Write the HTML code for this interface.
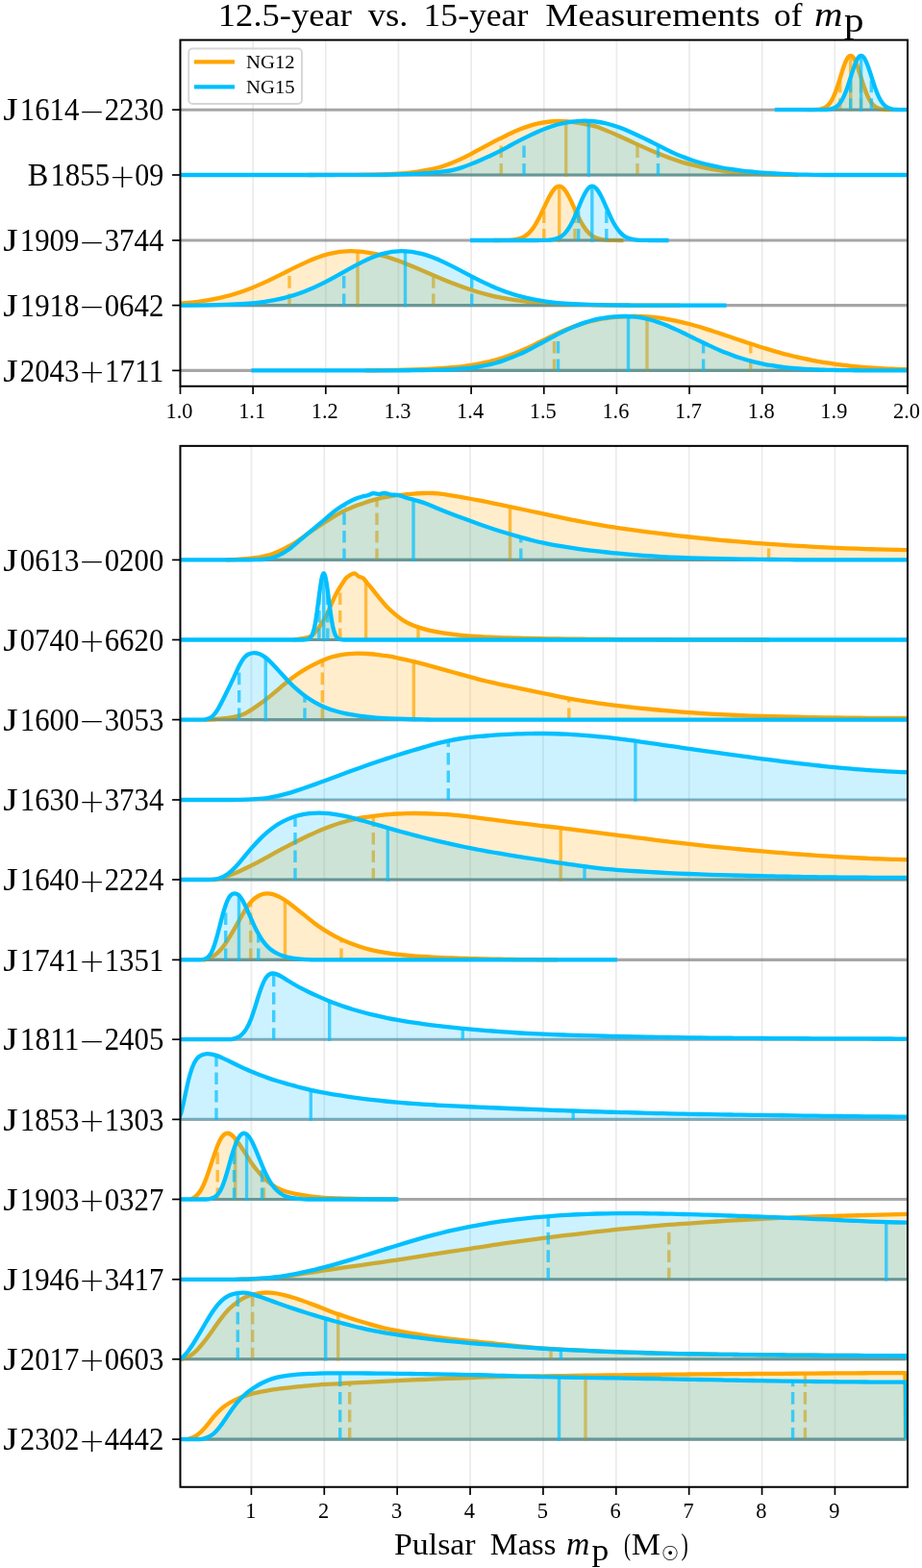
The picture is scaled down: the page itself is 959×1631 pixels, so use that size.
<!DOCTYPE html>
<html lang="en"><head><meta charset="utf-8"><title>12.5-year vs. 15-year Measurements of mp</title>
<style>html,body{margin:0;padding:0;background:#fff}svg{display:block}text{font-family:"Liberation Serif","DejaVu Serif",serif;fill:#000}</style></head><body>
<svg width="959" height="1631" viewBox="0 0 959 1631">
<rect width="959" height="1631" fill="#fff"/>
<defs><clipPath id="ct"><rect x="187.5" y="41.6" width="756.5" height="360.15"/></clipPath><clipPath id="cb"><rect x="187.5" y="463.85" width="756.5" height="1082.9"/></clipPath></defs>
<g id="top-panel">
<g stroke="#ebebeb" stroke-width="1.7">
<line x1="263.15" x2="263.15" y1="41.6" y2="401.75"/>
<line x1="338.8" x2="338.8" y1="41.6" y2="401.75"/>
<line x1="414.45" x2="414.45" y1="41.6" y2="401.75"/>
<line x1="490.1" x2="490.1" y1="41.6" y2="401.75"/>
<line x1="565.75" x2="565.75" y1="41.6" y2="401.75"/>
<line x1="641.4" x2="641.4" y1="41.6" y2="401.75"/>
<line x1="717.05" x2="717.05" y1="41.6" y2="401.75"/>
<line x1="792.7" x2="792.7" y1="41.6" y2="401.75"/>
<line x1="868.35" x2="868.35" y1="41.6" y2="401.75"/>
</g>
<g clip-path="url(#ct)">
<line x1="187.5" x2="944" y1="114.2" y2="114.2" stroke="#808080" stroke-opacity="0.7" stroke-width="3.1"/>
<path d="M839.2 114.2L839.2 114.2C840.37 114.2 841.53 114.19 842.7 114.18C843.87 114.17 845.03 114.16 846.2 114.13C847.37 114.1 848.53 114.06 849.7 113.98C850.87 113.9 852.03 113.78 853.2 113.57C854.37 113.36 855.53 113.07 856.7 112.59C857.87 112.11 859.03 111.45 860.2 110.49C861.37 109.53 862.53 108.26 863.7 106.57C864.87 104.87 866.03 102.74 867.2 100.14C868.37 97.53 869.53 94.45 870.7 91.01C871.87 87.58 873.03 83.79 874.2 79.99C875.37 76.19 876.53 72.38 877.7 69.04C878.87 65.69 880.03 62.82 881.2 60.85C882.37 58.87 883.53 57.8 884.7 57.8C885.89 57.8 887.08 58.87 888.27 60.85C889.46 62.82 890.64 65.69 891.83 69.04C893.02 72.38 894.21 76.19 895.4 79.99C896.59 83.79 897.78 87.58 898.97 91.01C900.16 94.45 901.34 97.53 902.53 100.14C903.72 102.74 904.91 104.87 906.1 106.57C907.29 108.26 908.48 109.53 909.67 110.49C910.86 111.45 912.04 112.11 913.23 112.59C914.42 113.07 915.61 113.36 916.8 113.57C917.99 113.78 919.18 113.9 920.37 113.98C921.56 114.06 922.74 114.1 923.93 114.13C925.12 114.16 926.31 114.17 927.5 114.18C928.69 114.19 929.88 114.2 931.07 114.2L931.07 114.2 Z" fill="#ffa500" fill-opacity="0.2" stroke="#ffa500" stroke-opacity="0.2" stroke-width="2.1"/>
<line x1="873.8" x2="873.8" y1="114.8" y2="81.29" stroke="#ffa500" stroke-opacity="0.7" stroke-width="3.4" stroke-dasharray="12.6 5.9"/>
<line x1="884.7" x2="884.7" y1="114.2" y2="57.8" stroke="#ffa500" stroke-opacity="0.7" stroke-width="3.4" stroke-linecap="square"/>
<line x1="895.5" x2="895.5" y1="114.8" y2="80.31" stroke="#ffa500" stroke-opacity="0.7" stroke-width="3.4" stroke-dasharray="12.6 5.9"/>
<path d="M839.2 114.2C840.37 114.2 841.53 114.19 842.7 114.18C843.87 114.17 845.03 114.16 846.2 114.13C847.37 114.1 848.53 114.06 849.7 113.98C850.87 113.9 852.03 113.78 853.2 113.57C854.37 113.36 855.53 113.07 856.7 112.59C857.87 112.11 859.03 111.45 860.2 110.49C861.37 109.53 862.53 108.26 863.7 106.57C864.87 104.87 866.03 102.74 867.2 100.14C868.37 97.53 869.53 94.45 870.7 91.01C871.87 87.58 873.03 83.79 874.2 79.99C875.37 76.19 876.53 72.38 877.7 69.04C878.87 65.69 880.03 62.82 881.2 60.85C882.37 58.87 883.53 57.8 884.7 57.8C885.89 57.8 887.08 58.87 888.27 60.85C889.46 62.82 890.64 65.69 891.83 69.04C893.02 72.38 894.21 76.19 895.4 79.99C896.59 83.79 897.78 87.58 898.97 91.01C900.16 94.45 901.34 97.53 902.53 100.14C903.72 102.74 904.91 104.87 906.1 106.57C907.29 108.26 908.48 109.53 909.67 110.49C910.86 111.45 912.04 112.11 913.23 112.59C914.42 113.07 915.61 113.36 916.8 113.57C917.99 113.78 919.18 113.9 920.37 113.98C921.56 114.06 922.74 114.1 923.93 114.13C925.12 114.16 926.31 114.17 927.5 114.18C928.69 114.19 929.88 114.2 931.07 114.2" fill="none" stroke="#ffa500" stroke-width="4.3" stroke-linejoin="round" stroke-linecap="butt"/>
<path d="M849.23 114.2L849.23 114.2C850.42 114.2 851.61 114.19 852.8 114.18C853.99 114.17 855.18 114.16 856.37 114.13C857.56 114.1 858.74 114.06 859.93 113.98C861.12 113.9 862.31 113.78 863.5 113.57C864.69 113.36 865.88 113.07 867.07 112.59C868.26 112.11 869.44 111.45 870.63 110.49C871.82 109.53 873.01 108.26 874.2 106.57C875.39 104.87 876.58 102.74 877.77 100.14C878.96 97.53 880.14 94.45 881.33 91.01C882.52 87.58 883.71 83.79 884.9 79.99C886.09 76.19 887.28 72.38 888.47 69.04C889.66 65.69 890.84 62.82 892.03 60.85C893.22 58.87 894.41 57.8 895.6 57.8C896.81 57.8 898.02 58.87 899.23 60.85C900.44 62.82 901.66 65.69 902.87 69.04C904.08 72.38 905.29 76.19 906.5 79.99C907.71 83.79 908.92 87.58 910.13 91.01C911.34 94.45 912.56 97.53 913.77 100.14C914.98 102.74 916.19 104.87 917.4 106.57C918.61 108.26 919.82 109.53 921.03 110.49C922.24 111.45 923.46 112.11 924.67 112.59C925.88 113.07 927.09 113.36 928.3 113.57C929.51 113.78 930.72 113.9 931.93 113.98C933.14 114.06 934.36 114.1 935.57 114.13C936.78 114.16 937.99 114.17 939.2 114.18C940.41 114.19 941.62 114.2 942.83 114.2L942.83 114.2 Z" fill="#00bfff" fill-opacity="0.2" stroke="#00bfff" stroke-opacity="0.2" stroke-width="2.1"/>
<line x1="849.23" x2="931.07" y1="114.2" y2="114.2" stroke="#3f818f" stroke-opacity="0.45" stroke-width="3.1"/>
<line x1="884.7" x2="884.7" y1="114.8" y2="80.63" stroke="#00bfff" stroke-opacity="0.7" stroke-width="3.4" stroke-dasharray="12.6 5.9"/>
<line x1="895.6" x2="895.6" y1="114.2" y2="57.8" stroke="#00bfff" stroke-opacity="0.7" stroke-width="3.4" stroke-linecap="square"/>
<line x1="906.3" x2="906.3" y1="114.8" y2="79.36" stroke="#00bfff" stroke-opacity="0.7" stroke-width="3.4" stroke-dasharray="12.6 5.9"/>
<path d="M805.8 114.2L849.23 114.2C850.42 114.2 851.61 114.19 852.8 114.18C853.99 114.17 855.18 114.16 856.37 114.13C857.56 114.1 858.74 114.06 859.93 113.98C861.12 113.9 862.31 113.78 863.5 113.57C864.69 113.36 865.88 113.07 867.07 112.59C868.26 112.11 869.44 111.45 870.63 110.49C871.82 109.53 873.01 108.26 874.2 106.57C875.39 104.87 876.58 102.74 877.77 100.14C878.96 97.53 880.14 94.45 881.33 91.01C882.52 87.58 883.71 83.79 884.9 79.99C886.09 76.19 887.28 72.38 888.47 69.04C889.66 65.69 890.84 62.82 892.03 60.85C893.22 58.87 894.41 57.8 895.6 57.8C896.81 57.8 898.02 58.87 899.23 60.85C900.44 62.82 901.66 65.69 902.87 69.04C904.08 72.38 905.29 76.19 906.5 79.99C907.71 83.79 908.92 87.58 910.13 91.01C911.34 94.45 912.56 97.53 913.77 100.14C914.98 102.74 916.19 104.87 917.4 106.57C918.61 108.26 919.82 109.53 921.03 110.49C922.24 111.45 923.46 112.11 924.67 112.59C925.88 113.07 927.09 113.36 928.3 113.57C929.51 113.78 930.72 113.9 931.93 113.98C933.14 114.06 934.36 114.1 935.57 114.13C936.78 114.16 937.99 114.17 939.2 114.18C940.41 114.19 941.62 114.2 942.83 114.2L944 114.2" fill="none" stroke="#00bfff" stroke-width="4.3" stroke-linejoin="round" stroke-linecap="butt"/>
<line x1="187.5" x2="944" y1="182" y2="182" stroke="#808080" stroke-opacity="0.7" stroke-width="3.1"/>
<path d="M320 182L320 182C323.33 182 326.67 181.98 330 181.97C333.33 181.97 336.67 181.96 340 181.95C343.33 181.94 346.67 181.93 350 181.92C353.33 181.91 356.67 181.9 360 181.88C363.33 181.86 366.67 181.84 370 181.82C373.89 181.79 377.78 181.75 381.67 181.7C385.56 181.65 389.44 181.58 393.33 181.49C397.22 181.4 401.11 181.29 405 181.13C407.78 181.02 410.56 180.89 413.33 180.72C416.11 180.55 418.89 180.35 421.67 180.09C424.44 179.83 427.22 179.53 430 179.17C432.78 178.82 435.56 178.42 438.33 177.95C441.11 177.48 443.89 176.97 446.67 176.42C449.44 175.86 452.22 175.23 455 174.5C457.5 173.84 460 173.09 462.5 172.24C465 171.39 467.5 170.43 470 169.43C473.33 168.09 476.67 166.68 480 165.13C483.33 163.57 486.67 161.87 490 160.11C493.33 158.35 496.67 156.53 500 154.71C503.33 152.88 506.67 151.04 510 149.29C513.33 147.53 516.67 145.85 520 144.18C523.33 142.51 526.67 140.83 530 139.24C533.33 137.65 536.67 136.14 540 134.78C543.33 133.43 546.67 132.22 550 131.17C553.33 130.11 556.67 129.21 560 128.47C563.33 127.74 566.67 127.17 570 126.75C573.33 126.33 576.67 126.07 580 126.01C583.33 125.96 586.67 126.1 590 126.38C592.22 126.58 594.43 126.85 596.65 127.14C598.87 127.43 601.08 127.75 603.3 128.13C606.63 128.7 609.97 129.36 613.3 130.03C615.53 130.48 617.77 130.92 620 131.62C623.33 132.67 626.67 134.1 630 135.49C633.73 137.04 637.47 138.56 641.2 140.18C644.13 141.45 647.07 142.81 650 144.19C653.33 145.76 656.67 147.34 660 148.88C663.33 150.42 666.67 151.92 670 153.4C673.33 154.87 676.67 156.3 680 157.69C683.33 159.08 686.67 160.42 690 161.74C693.33 163.06 696.67 164.37 700 165.58C703.33 166.78 706.67 167.88 710 168.85C713.33 169.81 716.67 170.65 720 171.49C723.33 172.32 726.67 173.16 730 173.91C733.33 174.66 736.67 175.33 740 175.92C743.33 176.5 746.67 177 750 177.47C753.33 177.93 756.67 178.37 760 178.75C763.33 179.14 766.67 179.47 770 179.75C773.33 180.04 776.67 180.27 780 180.48C782.08 180.61 784.17 180.74 786.25 180.85C788.33 180.96 790.42 181.06 792.5 181.14C795.42 181.26 798.33 181.36 801.25 181.44C804.17 181.53 807.08 181.6 810 181.67C813.33 181.74 816.67 181.8 820 181.84C823.33 181.89 826.67 182 830 182L830 182 Z" fill="#ffa500" fill-opacity="0.2" stroke="#ffa500" stroke-opacity="0.2" stroke-width="2.1"/>
<line x1="521.25" x2="521.25" y1="182.6" y2="143.55" stroke="#ffa500" stroke-opacity="0.7" stroke-width="3.4" stroke-dasharray="12.6 5.9"/>
<line x1="588.75" x2="588.75" y1="182" y2="126.28" stroke="#ffa500" stroke-opacity="0.7" stroke-width="3.4" stroke-linecap="square"/>
<line x1="663" x2="663" y1="182.6" y2="150.25" stroke="#ffa500" stroke-opacity="0.7" stroke-width="3.4" stroke-dasharray="12.6 5.9"/>
<path d="M320 182C323.33 182 326.67 181.98 330 181.97C333.33 181.97 336.67 181.96 340 181.95C343.33 181.94 346.67 181.93 350 181.92C353.33 181.91 356.67 181.9 360 181.88C363.33 181.86 366.67 181.84 370 181.82C373.89 181.79 377.78 181.75 381.67 181.7C385.56 181.65 389.44 181.58 393.33 181.49C397.22 181.4 401.11 181.29 405 181.13C407.78 181.02 410.56 180.89 413.33 180.72C416.11 180.55 418.89 180.35 421.67 180.09C424.44 179.83 427.22 179.53 430 179.17C432.78 178.82 435.56 178.42 438.33 177.95C441.11 177.48 443.89 176.97 446.67 176.42C449.44 175.86 452.22 175.23 455 174.5C457.5 173.84 460 173.09 462.5 172.24C465 171.39 467.5 170.43 470 169.43C473.33 168.09 476.67 166.68 480 165.13C483.33 163.57 486.67 161.87 490 160.11C493.33 158.35 496.67 156.53 500 154.71C503.33 152.88 506.67 151.04 510 149.29C513.33 147.53 516.67 145.85 520 144.18C523.33 142.51 526.67 140.83 530 139.24C533.33 137.65 536.67 136.14 540 134.78C543.33 133.43 546.67 132.22 550 131.17C553.33 130.11 556.67 129.21 560 128.47C563.33 127.74 566.67 127.17 570 126.75C573.33 126.33 576.67 126.07 580 126.01C583.33 125.96 586.67 126.1 590 126.38C592.22 126.58 594.43 126.85 596.65 127.14C598.87 127.43 601.08 127.75 603.3 128.13C606.63 128.7 609.97 129.36 613.3 130.03C615.53 130.48 617.77 130.92 620 131.62C623.33 132.67 626.67 134.1 630 135.49C633.73 137.04 637.47 138.56 641.2 140.18C644.13 141.45 647.07 142.81 650 144.19C653.33 145.76 656.67 147.34 660 148.88C663.33 150.42 666.67 151.92 670 153.4C673.33 154.87 676.67 156.3 680 157.69C683.33 159.08 686.67 160.42 690 161.74C693.33 163.06 696.67 164.37 700 165.58C703.33 166.78 706.67 167.88 710 168.85C713.33 169.81 716.67 170.65 720 171.49C723.33 172.32 726.67 173.16 730 173.91C733.33 174.66 736.67 175.33 740 175.92C743.33 176.5 746.67 177 750 177.47C753.33 177.93 756.67 178.37 760 178.75C763.33 179.14 766.67 179.47 770 179.75C773.33 180.04 776.67 180.27 780 180.48C782.08 180.61 784.17 180.74 786.25 180.85C788.33 180.96 790.42 181.06 792.5 181.14C795.42 181.26 798.33 181.36 801.25 181.44C804.17 181.53 807.08 181.6 810 181.67C813.33 181.74 816.67 181.8 820 181.84C823.33 181.89 826.67 182 830 182" fill="none" stroke="#ffa500" stroke-width="4.3" stroke-linejoin="round" stroke-linecap="butt"/>
<path d="M340 182L340 182C343.75 182 347.5 181.98 351.25 181.97C355 181.96 358.75 181.95 362.5 181.94C366.25 181.93 370 181.92 373.75 181.91C377.5 181.9 381.25 181.89 385 181.87C388.33 181.85 391.67 181.83 395 181.8C398.33 181.77 401.67 181.71 405 181.65C407.78 181.6 410.56 181.54 413.33 181.46C416.11 181.39 418.89 181.3 421.67 181.2C424.44 181.1 427.22 180.99 430 180.85C432.78 180.72 435.56 180.56 438.33 180.38C441.11 180.2 443.89 180 446.67 179.79C449.44 179.57 452.22 179.33 455 179.06C457.5 178.81 460 178.54 462.5 178.21C465 177.89 467.5 177.51 470 177.02C473.33 176.37 476.67 175.47 480 174.36C483.33 173.25 486.67 171.97 490 170.63C493.33 169.29 496.67 167.88 500 166.42C503.33 164.97 506.67 163.47 510 161.93C513.33 160.39 516.67 158.82 520 157.11C523.33 155.41 526.67 153.57 530 151.76C533.33 149.95 536.67 148.17 540 146.45C543.33 144.72 546.67 143.05 550 141.42C553.33 139.8 556.67 138.23 560 136.77C563.33 135.32 566.67 133.97 570 132.75C573.33 131.53 576.67 130.42 580 129.5C583.33 128.58 586.67 127.85 590 127.28C593.33 126.72 596.67 126.31 600 126.03C602.67 125.8 605.33 125.68 608 125.71C612 125.75 616 126.03 620 126.5C623.33 126.88 626.67 127.45 630 128.23C633.73 129.1 637.47 130.2 641.2 131.45C644.13 132.44 647.07 133.55 650 134.77C653.33 136.15 656.67 137.66 660 139.2C663.33 140.74 666.67 142.32 670 143.94C673.33 145.56 676.67 147.24 680 148.91C683.33 150.58 686.67 152.26 690 153.94C693.33 155.61 696.67 157.29 700 158.83C703.33 160.37 706.67 161.77 710 163.08C713.33 164.38 716.67 165.58 720 166.68C723.33 167.79 726.67 168.79 730 169.71C733.33 170.62 736.67 171.46 740 172.21C743.33 172.96 746.67 173.63 750 174.25C753.33 174.86 756.67 175.43 760 175.93C763.33 176.43 766.67 176.86 770 177.28C773.33 177.7 776.67 178.1 780 178.44C782.08 178.66 784.17 178.86 786.25 179.04C788.33 179.23 790.42 179.4 792.5 179.56C795.42 179.79 798.33 180 801.25 180.2C804.17 180.39 807.08 180.57 810 180.73C813.33 180.91 816.67 181.07 820 181.2C823.33 181.33 826.67 181.44 830 181.53C832.78 181.61 835.56 181.67 838.33 181.72C841.11 181.78 843.89 181.82 846.67 181.86C849.44 181.89 852.22 182 855 182L855 182 Z" fill="#00bfff" fill-opacity="0.2" stroke="#00bfff" stroke-opacity="0.2" stroke-width="2.1"/>
<line x1="340" x2="830" y1="182" y2="182" stroke="#3f818f" stroke-opacity="0.45" stroke-width="3.1"/>
<line x1="545" x2="545" y1="182.6" y2="143.9" stroke="#00bfff" stroke-opacity="0.7" stroke-width="3.4" stroke-dasharray="12.6 5.9"/>
<line x1="612.3" x2="612.3" y1="182" y2="125.86" stroke="#00bfff" stroke-opacity="0.7" stroke-width="3.4" stroke-linecap="square"/>
<line x1="684.5" x2="684.5" y1="182.6" y2="151.17" stroke="#00bfff" stroke-opacity="0.7" stroke-width="3.4" stroke-dasharray="12.6 5.9"/>
<path d="M187.5 182L340 182C343.75 182 347.5 181.98 351.25 181.97C355 181.96 358.75 181.95 362.5 181.94C366.25 181.93 370 181.92 373.75 181.91C377.5 181.9 381.25 181.89 385 181.87C388.33 181.85 391.67 181.83 395 181.8C398.33 181.77 401.67 181.71 405 181.65C407.78 181.6 410.56 181.54 413.33 181.46C416.11 181.39 418.89 181.3 421.67 181.2C424.44 181.1 427.22 180.99 430 180.85C432.78 180.72 435.56 180.56 438.33 180.38C441.11 180.2 443.89 180 446.67 179.79C449.44 179.57 452.22 179.33 455 179.06C457.5 178.81 460 178.54 462.5 178.21C465 177.89 467.5 177.51 470 177.02C473.33 176.37 476.67 175.47 480 174.36C483.33 173.25 486.67 171.97 490 170.63C493.33 169.29 496.67 167.88 500 166.42C503.33 164.97 506.67 163.47 510 161.93C513.33 160.39 516.67 158.82 520 157.11C523.33 155.41 526.67 153.57 530 151.76C533.33 149.95 536.67 148.17 540 146.45C543.33 144.72 546.67 143.05 550 141.42C553.33 139.8 556.67 138.23 560 136.77C563.33 135.32 566.67 133.97 570 132.75C573.33 131.53 576.67 130.42 580 129.5C583.33 128.58 586.67 127.85 590 127.28C593.33 126.72 596.67 126.31 600 126.03C602.67 125.8 605.33 125.68 608 125.71C612 125.75 616 126.03 620 126.5C623.33 126.88 626.67 127.45 630 128.23C633.73 129.1 637.47 130.2 641.2 131.45C644.13 132.44 647.07 133.55 650 134.77C653.33 136.15 656.67 137.66 660 139.2C663.33 140.74 666.67 142.32 670 143.94C673.33 145.56 676.67 147.24 680 148.91C683.33 150.58 686.67 152.26 690 153.94C693.33 155.61 696.67 157.29 700 158.83C703.33 160.37 706.67 161.77 710 163.08C713.33 164.38 716.67 165.58 720 166.68C723.33 167.79 726.67 168.79 730 169.71C733.33 170.62 736.67 171.46 740 172.21C743.33 172.96 746.67 173.63 750 174.25C753.33 174.86 756.67 175.43 760 175.93C763.33 176.43 766.67 176.86 770 177.28C773.33 177.7 776.67 178.1 780 178.44C782.08 178.66 784.17 178.86 786.25 179.04C788.33 179.23 790.42 179.4 792.5 179.56C795.42 179.79 798.33 180 801.25 180.2C804.17 180.39 807.08 180.57 810 180.73C813.33 180.91 816.67 181.07 820 181.2C823.33 181.33 826.67 181.44 830 181.53C832.78 181.61 835.56 181.67 838.33 181.72C841.11 181.78 843.89 181.82 846.67 181.86C849.44 181.89 852.22 182 855 182L944 182" fill="none" stroke="#00bfff" stroke-width="4.3" stroke-linejoin="round" stroke-linecap="butt"/>
<line x1="187.5" x2="944" y1="250" y2="250" stroke="#808080" stroke-opacity="0.7" stroke-width="3.1"/>
<path d="M513.23 250L513.23 250C514.99 250 516.74 249.99 518.5 249.98C520.26 249.97 522.01 249.96 523.77 249.93C525.52 249.9 527.28 249.86 529.03 249.78C530.79 249.7 532.54 249.58 534.3 249.37C536.06 249.17 537.81 248.87 539.57 248.39C541.32 247.92 543.08 247.26 544.83 246.3C546.59 245.34 548.34 244.07 550.1 242.38C551.86 240.69 553.61 238.56 555.37 235.96C557.12 233.36 558.88 230.28 560.63 226.85C562.39 223.43 564.14 219.65 565.9 215.85C567.66 212.06 569.41 208.26 571.17 204.92C572.92 201.58 574.68 198.71 576.43 196.74C578.19 194.77 579.94 193.7 581.7 193.7C583.41 193.7 585.12 194.77 586.83 196.74C588.54 198.71 590.26 201.58 591.97 204.92C593.68 208.26 595.39 212.06 597.1 215.85C598.81 219.65 600.52 223.43 602.23 226.85C603.94 230.28 605.66 233.36 607.37 235.96C609.08 238.56 610.79 240.69 612.5 242.38C614.21 244.07 615.92 245.34 617.63 246.3C619.34 247.26 621.06 247.92 622.77 248.39C624.48 248.87 626.19 249.17 627.9 249.37C629.61 249.58 631.32 249.7 633.03 249.78C634.74 249.86 636.46 249.9 638.17 249.93C639.88 249.96 641.59 249.97 643.3 249.98C645.01 249.99 646.72 250 648.43 250L648.43 250 Z" fill="#ffa500" fill-opacity="0.2" stroke="#ffa500" stroke-opacity="0.2" stroke-width="2.1"/>
<line x1="565.8" x2="565.8" y1="250.6" y2="216.07" stroke="#ffa500" stroke-opacity="0.7" stroke-width="3.4" stroke-dasharray="12.6 5.9"/>
<line x1="581.7" x2="581.7" y1="250" y2="193.7" stroke="#ffa500" stroke-opacity="0.7" stroke-width="3.4" stroke-linecap="square"/>
<line x1="598" x2="598" y1="250.6" y2="217.85" stroke="#ffa500" stroke-opacity="0.7" stroke-width="3.4" stroke-dasharray="12.6 5.9"/>
<path d="M513.23 250C514.99 250 516.74 249.99 518.5 249.98C520.26 249.97 522.01 249.96 523.77 249.93C525.52 249.9 527.28 249.86 529.03 249.78C530.79 249.7 532.54 249.58 534.3 249.37C536.06 249.17 537.81 248.87 539.57 248.39C541.32 247.92 543.08 247.26 544.83 246.3C546.59 245.34 548.34 244.07 550.1 242.38C551.86 240.69 553.61 238.56 555.37 235.96C557.12 233.36 558.88 230.28 560.63 226.85C562.39 223.43 564.14 219.65 565.9 215.85C567.66 212.06 569.41 208.26 571.17 204.92C572.92 201.58 574.68 198.71 576.43 196.74C578.19 194.77 579.94 193.7 581.7 193.7C583.41 193.7 585.12 194.77 586.83 196.74C588.54 198.71 590.26 201.58 591.97 204.92C593.68 208.26 595.39 212.06 597.1 215.85C598.81 219.65 600.52 223.43 602.23 226.85C603.94 230.28 605.66 233.36 607.37 235.96C609.08 238.56 610.79 240.69 612.5 242.38C614.21 244.07 615.92 245.34 617.63 246.3C619.34 247.26 621.06 247.92 622.77 248.39C624.48 248.87 626.19 249.17 627.9 249.37C629.61 249.58 631.32 249.7 633.03 249.78C634.74 249.86 636.46 249.9 638.17 249.93C639.88 249.96 641.59 249.97 643.3 249.98C645.01 249.99 646.72 250 648.43 250" fill="none" stroke="#ffa500" stroke-width="4.3" stroke-linejoin="round" stroke-linecap="butt"/>
<path d="M555.13 250L555.13 250C556.69 250 558.24 249.99 559.8 249.98C561.36 249.97 562.91 249.96 564.47 249.93C566.02 249.9 567.58 249.86 569.13 249.78C570.69 249.7 572.24 249.58 573.8 249.37C575.36 249.17 576.91 248.87 578.47 248.39C580.02 247.92 581.58 247.26 583.13 246.3C584.69 245.34 586.24 244.07 587.8 242.38C589.36 240.69 590.91 238.56 592.47 235.96C594.02 233.36 595.58 230.28 597.13 226.85C598.69 223.43 600.24 219.65 601.8 215.85C603.36 212.06 604.91 208.26 606.47 204.92C608.02 201.58 609.58 198.71 611.13 196.74C612.69 194.77 614.24 193.7 615.8 193.7C617.46 193.7 619.11 194.77 620.77 196.74C622.42 198.71 624.08 201.58 625.73 204.92C627.39 208.26 629.04 212.06 630.7 215.85C632.36 219.65 634.01 223.43 635.67 226.85C637.32 230.28 638.98 233.36 640.63 235.96C642.29 238.56 643.94 240.69 645.6 242.38C647.26 244.07 648.91 245.34 650.57 246.3C652.22 247.26 653.88 247.92 655.53 248.39C657.19 248.87 658.84 249.17 660.5 249.37C662.16 249.58 663.81 249.7 665.47 249.78C667.12 249.86 668.78 249.9 670.43 249.93C672.09 249.96 673.74 249.97 675.4 249.98C677.06 249.99 678.71 250 680.37 250L680.37 250 Z" fill="#00bfff" fill-opacity="0.2" stroke="#00bfff" stroke-opacity="0.2" stroke-width="2.1"/>
<line x1="555.13" x2="648.43" y1="250" y2="250" stroke="#3f818f" stroke-opacity="0.45" stroke-width="3.1"/>
<line x1="601.7" x2="601.7" y1="250.6" y2="216.1" stroke="#00bfff" stroke-opacity="0.7" stroke-width="3.4" stroke-dasharray="12.6 5.9"/>
<line x1="615.8" x2="615.8" y1="250" y2="193.7" stroke="#00bfff" stroke-opacity="0.7" stroke-width="3.4" stroke-linecap="square"/>
<line x1="630.8" x2="630.8" y1="250.6" y2="216.08" stroke="#00bfff" stroke-opacity="0.7" stroke-width="3.4" stroke-dasharray="12.6 5.9"/>
<path d="M489 250L555.13 250C556.69 250 558.24 249.99 559.8 249.98C561.36 249.97 562.91 249.96 564.47 249.93C566.02 249.9 567.58 249.86 569.13 249.78C570.69 249.7 572.24 249.58 573.8 249.37C575.36 249.17 576.91 248.87 578.47 248.39C580.02 247.92 581.58 247.26 583.13 246.3C584.69 245.34 586.24 244.07 587.8 242.38C589.36 240.69 590.91 238.56 592.47 235.96C594.02 233.36 595.58 230.28 597.13 226.85C598.69 223.43 600.24 219.65 601.8 215.85C603.36 212.06 604.91 208.26 606.47 204.92C608.02 201.58 609.58 198.71 611.13 196.74C612.69 194.77 614.24 193.7 615.8 193.7C617.46 193.7 619.11 194.77 620.77 196.74C622.42 198.71 624.08 201.58 625.73 204.92C627.39 208.26 629.04 212.06 630.7 215.85C632.36 219.65 634.01 223.43 635.67 226.85C637.32 230.28 638.98 233.36 640.63 235.96C642.29 238.56 643.94 240.69 645.6 242.38C647.26 244.07 648.91 245.34 650.57 246.3C652.22 247.26 653.88 247.92 655.53 248.39C657.19 248.87 658.84 249.17 660.5 249.37C662.16 249.58 663.81 249.7 665.47 249.78C667.12 249.86 668.78 249.9 670.43 249.93C672.09 249.96 673.74 249.97 675.4 249.98C677.06 249.99 678.71 250 680.37 250L695.5 250" fill="none" stroke="#00bfff" stroke-width="4.3" stroke-linejoin="round" stroke-linecap="butt"/>
<line x1="187.5" x2="944" y1="317.6" y2="317.6" stroke="#808080" stroke-opacity="0.7" stroke-width="3.1"/>
<path d="M69.83 317.6L69.83 317.6C77.39 317.6 84.94 317.59 92.5 317.58C100.06 317.57 107.61 317.56 115.17 317.53C122.72 317.5 130.28 317.46 137.83 317.38C145.39 317.3 152.94 317.18 160.5 316.97C168.06 316.76 175.61 316.46 183.17 315.99C190.72 315.51 198.28 314.85 205.83 313.89C213.39 312.92 220.94 311.65 228.5 309.95C236.06 308.25 243.61 306.12 251.17 303.51C258.72 300.9 266.28 297.81 273.83 294.37C281.39 290.93 288.94 287.14 296.5 283.33C304.06 279.52 311.61 275.71 319.17 272.36C326.72 269.01 334.28 266.13 341.83 264.15C349.39 262.17 356.94 261.1 364.5 261.1C373.28 261.1 382.06 262.17 390.83 264.15C399.61 266.13 408.39 269.01 417.17 272.36C425.94 275.71 434.72 279.52 443.5 283.33C452.28 287.14 461.06 290.93 469.83 294.37C478.61 297.81 487.39 300.9 496.17 303.51C504.94 306.12 513.72 308.25 522.5 309.95C531.28 311.65 540.06 312.92 548.83 313.89C557.61 314.85 566.39 315.51 575.17 315.99C583.94 316.46 592.72 316.76 601.5 316.97C610.28 317.18 619.06 317.3 627.83 317.38C636.61 317.46 645.39 317.5 654.17 317.53C662.94 317.56 671.72 317.57 680.5 317.58C689.28 317.59 698.06 317.6 706.83 317.6L706.83 317.6 Z" fill="#ffa500" fill-opacity="0.2" stroke="#ffa500" stroke-opacity="0.2" stroke-width="2.1"/>
<line x1="301" x2="301" y1="318.2" y2="281.07" stroke="#ffa500" stroke-opacity="0.7" stroke-width="3.4" stroke-dasharray="12.6 5.9"/>
<line x1="372" x2="372" y1="317.6" y2="261.35" stroke="#ffa500" stroke-opacity="0.7" stroke-width="3.4" stroke-linecap="square"/>
<line x1="450.8" x2="450.8" y1="318.2" y2="286.49" stroke="#ffa500" stroke-opacity="0.7" stroke-width="3.4" stroke-dasharray="12.6 5.9"/>
<path d="M69.83 317.6C77.39 317.6 84.94 317.59 92.5 317.58C100.06 317.57 107.61 317.56 115.17 317.53C122.72 317.5 130.28 317.46 137.83 317.38C145.39 317.3 152.94 317.18 160.5 316.97C168.06 316.76 175.61 316.46 183.17 315.99C190.72 315.51 198.28 314.85 205.83 313.89C213.39 312.92 220.94 311.65 228.5 309.95C236.06 308.25 243.61 306.12 251.17 303.51C258.72 300.9 266.28 297.81 273.83 294.37C281.39 290.93 288.94 287.14 296.5 283.33C304.06 279.52 311.61 275.71 319.17 272.36C326.72 269.01 334.28 266.13 341.83 264.15C349.39 262.17 356.94 261.1 364.5 261.1C373.28 261.1 382.06 262.17 390.83 264.15C399.61 266.13 408.39 269.01 417.17 272.36C425.94 275.71 434.72 279.52 443.5 283.33C452.28 287.14 461.06 290.93 469.83 294.37C478.61 297.81 487.39 300.9 496.17 303.51C504.94 306.12 513.72 308.25 522.5 309.95C531.28 311.65 540.06 312.92 548.83 313.89C557.61 314.85 566.39 315.51 575.17 315.99C583.94 316.46 592.72 316.76 601.5 316.97C610.28 317.18 619.06 317.3 627.83 317.38C636.61 317.46 645.39 317.5 654.17 317.53C662.94 317.56 671.72 317.57 680.5 317.58C689.28 317.59 698.06 317.6 706.83 317.6" fill="none" stroke="#ffa500" stroke-width="4.3" stroke-linejoin="round" stroke-linecap="butt"/>
<path d="M153.37 317.6L153.37 317.6C160.14 317.6 166.92 317.59 173.7 317.58C180.48 317.57 187.26 317.56 194.03 317.53C200.81 317.5 207.59 317.46 214.37 317.38C221.14 317.3 227.92 317.18 234.7 316.97C241.48 316.76 248.26 316.46 255.03 315.99C261.81 315.51 268.59 314.85 275.37 313.89C282.14 312.92 288.92 311.65 295.7 309.95C302.48 308.25 309.26 306.12 316.03 303.51C322.81 300.9 329.59 297.81 336.37 294.37C343.14 290.93 349.92 287.14 356.7 283.33C363.48 279.52 370.26 275.71 377.03 272.36C383.81 269.01 390.59 266.13 397.37 264.15C404.14 262.17 410.92 261.1 417.7 261.1C424.92 261.1 432.14 262.17 439.37 264.15C446.59 266.13 453.81 269.01 461.03 272.36C468.26 275.71 475.48 279.52 482.7 283.33C489.92 287.14 497.14 290.93 504.37 294.37C511.59 297.81 518.81 300.9 526.03 303.51C533.26 306.12 540.48 308.25 547.7 309.95C554.92 311.65 562.14 312.92 569.37 313.89C576.59 314.85 583.81 315.51 591.03 315.99C598.26 316.46 605.48 316.76 612.7 316.97C619.92 317.18 627.14 317.3 634.37 317.38C641.59 317.46 648.81 317.5 656.03 317.53C663.26 317.56 670.48 317.57 677.7 317.58C684.92 317.59 692.14 317.6 699.37 317.6L699.37 317.6 Z" fill="#00bfff" fill-opacity="0.2" stroke="#00bfff" stroke-opacity="0.2" stroke-width="2.1"/>
<line x1="187.5" x2="699.37" y1="317.6" y2="317.6" stroke="#3f818f" stroke-opacity="0.45" stroke-width="3.1"/>
<line x1="357.7" x2="357.7" y1="318.2" y2="282.77" stroke="#00bfff" stroke-opacity="0.7" stroke-width="3.4" stroke-dasharray="12.6 5.9"/>
<line x1="421.5" x2="421.5" y1="317.6" y2="261.2" stroke="#00bfff" stroke-opacity="0.7" stroke-width="3.4" stroke-linecap="square"/>
<line x1="490.7" x2="490.7" y1="318.2" y2="287.53" stroke="#00bfff" stroke-opacity="0.7" stroke-width="3.4" stroke-dasharray="12.6 5.9"/>
<path d="M153.37 317.6C160.14 317.6 166.92 317.59 173.7 317.58C180.48 317.57 187.26 317.56 194.03 317.53C200.81 317.5 207.59 317.46 214.37 317.38C221.14 317.3 227.92 317.18 234.7 316.97C241.48 316.76 248.26 316.46 255.03 315.99C261.81 315.51 268.59 314.85 275.37 313.89C282.14 312.92 288.92 311.65 295.7 309.95C302.48 308.25 309.26 306.12 316.03 303.51C322.81 300.9 329.59 297.81 336.37 294.37C343.14 290.93 349.92 287.14 356.7 283.33C363.48 279.52 370.26 275.71 377.03 272.36C383.81 269.01 390.59 266.13 397.37 264.15C404.14 262.17 410.92 261.1 417.7 261.1C424.92 261.1 432.14 262.17 439.37 264.15C446.59 266.13 453.81 269.01 461.03 272.36C468.26 275.71 475.48 279.52 482.7 283.33C489.92 287.14 497.14 290.93 504.37 294.37C511.59 297.81 518.81 300.9 526.03 303.51C533.26 306.12 540.48 308.25 547.7 309.95C554.92 311.65 562.14 312.92 569.37 313.89C576.59 314.85 583.81 315.51 591.03 315.99C598.26 316.46 605.48 316.76 612.7 316.97C619.92 317.18 627.14 317.3 634.37 317.38C641.59 317.46 648.81 317.5 656.03 317.53C663.26 317.56 670.48 317.57 677.7 317.58C684.92 317.59 692.14 317.6 699.37 317.6L755.6 317.6" fill="none" stroke="#00bfff" stroke-width="4.3" stroke-linejoin="round" stroke-linecap="butt"/>
<line x1="187.5" x2="944" y1="385.4" y2="385.4" stroke="#808080" stroke-opacity="0.7" stroke-width="3.1"/>
<path d="M380 385.4L380 385.4C383.89 385.4 387.78 385.3 391.67 385.26C395.56 385.22 399.44 385.18 403.33 385.12C407.22 385.07 411.11 385 415 384.91C417.78 384.85 420.56 384.78 423.33 384.71C426.11 384.63 428.89 384.54 431.67 384.44C434.44 384.34 437.22 384.23 440 384.11C442.78 383.99 445.56 383.87 448.33 383.73C451.11 383.59 453.89 383.44 456.67 383.27C459.44 383.1 462.22 382.91 465 382.7C467.78 382.48 470.56 382.24 473.33 381.96C476.11 381.68 478.89 381.37 481.67 381.03C484.44 380.68 487.22 380.3 490 379.87C492.78 379.44 495.56 378.97 498.33 378.45C501.11 377.92 503.89 377.35 506.67 376.7C509.44 376.06 512.22 375.35 515 374.56C517.78 373.78 520.56 372.91 523.33 371.98C526.11 371.04 528.89 370.07 531.67 369.04C534.44 368.01 537.22 366.9 540 365.73C542.08 364.86 544.17 363.96 546.25 363.01C548.33 362.06 550.42 361.07 552.5 360.06C554.58 359.06 556.67 358.03 558.75 357C560.83 355.97 562.92 354.94 565 353.91C567.08 352.89 569.17 351.87 571.25 350.87C573.33 349.86 575.42 348.86 577.5 347.88C579.58 346.9 581.67 345.92 583.75 344.99C585.83 344.05 587.92 343.14 590 342.28C592.08 341.43 594.17 340.62 596.25 339.86C598.33 339.1 600.42 338.37 602.5 337.68C604.58 336.99 606.67 336.34 608.75 335.72C610.83 335.11 612.92 334.54 615 334.02C617.08 333.5 619.17 333.03 621.25 332.6C623.33 332.18 625.42 331.8 627.5 331.46C629.58 331.11 631.67 330.81 633.75 330.54C635.83 330.28 637.92 330.05 640 329.86C642.08 329.67 644.17 329.52 646.25 329.4C648.33 329.27 650.42 329.17 652.5 329.11C655.57 329.01 658.63 328.98 661.7 329.02C664.08 329.05 666.47 329.13 668.85 329.24C671.23 329.35 673.62 329.49 676 329.68C678.67 329.89 681.33 330.17 684 330.49C686.67 330.82 689.33 331.2 692 331.63C694.67 332.06 697.33 332.54 700 333.08C702.67 333.61 705.33 334.19 708 334.81C710.67 335.43 713.33 336.09 716 336.79C718.67 337.49 721.33 338.23 724 338.99C726.67 339.76 729.33 340.56 732 341.38C734.67 342.2 737.33 343.04 740 343.9C742.67 344.76 745.33 345.64 748 346.53C750.67 347.42 753.33 348.32 756 349.22C758.67 350.12 761.33 351.03 764 351.94C766.67 352.85 769.33 353.75 772 354.65C774.67 355.55 777.33 356.44 780 357.32C782.67 358.2 785.33 359.07 788 359.93C790.67 360.78 793.33 361.62 796 362.43C798.67 363.25 801.33 364.05 804 364.82C806.67 365.6 809.33 366.35 812 367.08C814.67 367.81 817.33 368.52 820 369.2C822.67 369.88 825.33 370.53 828 371.16C830.67 371.78 833.33 372.39 836 372.96C838.67 373.53 841.33 374.08 844 374.6C846.67 375.13 849.33 375.62 852 376.09C854.67 376.56 857.33 377 860 377.42C862.67 377.84 865.33 378.23 868 378.6C870.67 378.98 873.33 379.32 876 379.65C878.67 379.98 881.33 380.28 884 380.57C886.67 380.85 889.33 381.11 892 381.36C894.67 381.61 897.33 381.84 900 382.05C902.67 382.26 905.33 382.46 908 382.64C910.67 382.82 913.33 382.98 916 383.14C918.67 383.29 921.33 383.43 924 383.56C926.67 383.69 929.33 383.81 932 383.91C934.17 384 936.33 384.08 938.5 384.15C940.67 384.21 942.83 384.26 945 384.3L945 385.4 Z" fill="#ffa500" fill-opacity="0.2" stroke="#ffa500" stroke-opacity="0.2" stroke-width="2.1"/>
<line x1="576.5" x2="576.5" y1="386" y2="348.35" stroke="#ffa500" stroke-opacity="0.7" stroke-width="3.4" stroke-dasharray="12.6 5.9"/>
<line x1="673" x2="673" y1="385.4" y2="329.46" stroke="#ffa500" stroke-opacity="0.7" stroke-width="3.4" stroke-linecap="square"/>
<line x1="780.8" x2="780.8" y1="386" y2="357.59" stroke="#ffa500" stroke-opacity="0.7" stroke-width="3.4" stroke-dasharray="12.6 5.9"/>
<path d="M380 385.4C383.89 385.4 387.78 385.3 391.67 385.26C395.56 385.22 399.44 385.18 403.33 385.12C407.22 385.07 411.11 385 415 384.91C417.78 384.85 420.56 384.78 423.33 384.71C426.11 384.63 428.89 384.54 431.67 384.44C434.44 384.34 437.22 384.23 440 384.11C442.78 383.99 445.56 383.87 448.33 383.73C451.11 383.59 453.89 383.44 456.67 383.27C459.44 383.1 462.22 382.91 465 382.7C467.78 382.48 470.56 382.24 473.33 381.96C476.11 381.68 478.89 381.37 481.67 381.03C484.44 380.68 487.22 380.3 490 379.87C492.78 379.44 495.56 378.97 498.33 378.45C501.11 377.92 503.89 377.35 506.67 376.7C509.44 376.06 512.22 375.35 515 374.56C517.78 373.78 520.56 372.91 523.33 371.98C526.11 371.04 528.89 370.07 531.67 369.04C534.44 368.01 537.22 366.9 540 365.73C542.08 364.86 544.17 363.96 546.25 363.01C548.33 362.06 550.42 361.07 552.5 360.06C554.58 359.06 556.67 358.03 558.75 357C560.83 355.97 562.92 354.94 565 353.91C567.08 352.89 569.17 351.87 571.25 350.87C573.33 349.86 575.42 348.86 577.5 347.88C579.58 346.9 581.67 345.92 583.75 344.99C585.83 344.05 587.92 343.14 590 342.28C592.08 341.43 594.17 340.62 596.25 339.86C598.33 339.1 600.42 338.37 602.5 337.68C604.58 336.99 606.67 336.34 608.75 335.72C610.83 335.11 612.92 334.54 615 334.02C617.08 333.5 619.17 333.03 621.25 332.6C623.33 332.18 625.42 331.8 627.5 331.46C629.58 331.11 631.67 330.81 633.75 330.54C635.83 330.28 637.92 330.05 640 329.86C642.08 329.67 644.17 329.52 646.25 329.4C648.33 329.27 650.42 329.17 652.5 329.11C655.57 329.01 658.63 328.98 661.7 329.02C664.08 329.05 666.47 329.13 668.85 329.24C671.23 329.35 673.62 329.49 676 329.68C678.67 329.89 681.33 330.17 684 330.49C686.67 330.82 689.33 331.2 692 331.63C694.67 332.06 697.33 332.54 700 333.08C702.67 333.61 705.33 334.19 708 334.81C710.67 335.43 713.33 336.09 716 336.79C718.67 337.49 721.33 338.23 724 338.99C726.67 339.76 729.33 340.56 732 341.38C734.67 342.2 737.33 343.04 740 343.9C742.67 344.76 745.33 345.64 748 346.53C750.67 347.42 753.33 348.32 756 349.22C758.67 350.12 761.33 351.03 764 351.94C766.67 352.85 769.33 353.75 772 354.65C774.67 355.55 777.33 356.44 780 357.32C782.67 358.2 785.33 359.07 788 359.93C790.67 360.78 793.33 361.62 796 362.43C798.67 363.25 801.33 364.05 804 364.82C806.67 365.6 809.33 366.35 812 367.08C814.67 367.81 817.33 368.52 820 369.2C822.67 369.88 825.33 370.53 828 371.16C830.67 371.78 833.33 372.39 836 372.96C838.67 373.53 841.33 374.08 844 374.6C846.67 375.13 849.33 375.62 852 376.09C854.67 376.56 857.33 377 860 377.42C862.67 377.84 865.33 378.23 868 378.6C870.67 378.98 873.33 379.32 876 379.65C878.67 379.98 881.33 380.28 884 380.57C886.67 380.85 889.33 381.11 892 381.36C894.67 381.61 897.33 381.84 900 382.05C902.67 382.26 905.33 382.46 908 382.64C910.67 382.82 913.33 382.98 916 383.14C918.67 383.29 921.33 383.43 924 383.56C926.67 383.69 929.33 383.81 932 383.91C934.17 384 936.33 384.08 938.5 384.15C940.67 384.21 942.83 384.26 945 384.3" fill="none" stroke="#ffa500" stroke-width="4.3" stroke-linejoin="round" stroke-linecap="butt"/>
<path d="M400 385.4L400 385.4C403.33 385.4 406.67 385.34 410 385.33C413.33 385.31 416.67 385.29 420 385.27C423.33 385.25 426.67 385.22 430 385.2C433.33 385.17 436.67 385.13 440 385.09C442.78 385.05 445.56 385.01 448.33 384.97C451.11 384.92 453.89 384.86 456.67 384.78C459.44 384.7 462.22 384.6 465 384.48C467.78 384.36 470.56 384.22 473.33 384.04C476.11 383.87 478.89 383.66 481.67 383.42C484.44 383.17 487.22 382.88 490 382.54C492.78 382.2 495.56 381.81 498.33 381.35C501.11 380.89 503.89 380.37 506.67 379.77C509.44 379.16 512.22 378.48 515 377.71C517.78 376.94 520.56 376.07 523.33 375.12C526.11 374.17 528.89 373.17 531.67 372.11C534.44 371.05 537.22 369.89 540 368.64C542.08 367.71 544.17 366.75 546.25 365.73C548.33 364.7 550.42 363.62 552.5 362.53C554.58 361.43 556.67 360.32 558.75 359.2C560.83 358.07 562.92 356.94 565 355.81C567.08 354.68 569.17 353.55 571.25 352.42C573.33 351.3 575.42 350.19 577.5 349.1C579.58 348.01 581.67 346.94 583.75 345.9C585.83 344.87 587.92 343.86 590 342.9C592.08 341.94 594.17 341.02 596.25 340.13C598.33 339.25 600.42 338.41 602.5 337.62C604.58 336.82 606.67 336.06 608.75 335.37C610.83 334.67 612.92 334.03 615 333.46C617.08 332.89 619.17 332.38 621.25 331.94C623.33 331.5 625.42 331.11 627.5 330.78C629.58 330.45 631.67 330.17 633.75 329.93C635.83 329.69 637.92 329.5 640 329.35C643.83 329.08 647.67 328.94 651.5 329.02C653.75 329.07 656 329.19 658.25 329.38C660.5 329.57 662.75 329.82 665 330.15C667.17 330.48 669.33 330.88 671.5 331.36C673.67 331.85 675.83 332.41 678 333.04C680.17 333.66 682.33 334.36 684.5 335.1C686.67 335.85 688.83 336.66 691 337.51C693.17 338.37 695.33 339.27 697.5 340.21C699.67 341.15 701.83 342.12 704 343.13C706.17 344.13 708.33 345.16 710.5 346.2C712.67 347.24 714.83 348.3 717 349.37C719.17 350.43 721.33 351.5 723.5 352.56C725.67 353.63 727.83 354.69 730 355.74C732.17 356.79 734.33 357.83 736.5 358.85C738.67 359.87 740.83 360.87 743 361.84C745.17 362.81 747.33 363.76 749.5 364.68C751.67 365.59 753.83 366.48 756 367.33C758.17 368.18 760.33 369 762.5 369.78C764.67 370.56 766.83 371.31 769 372.02C771.17 372.73 773.33 373.4 775.5 374.04C777.67 374.67 779.83 375.27 782 375.83C784.17 376.4 786.33 376.92 788.5 377.42C790.67 377.91 792.83 378.37 795 378.79C797.17 379.22 799.33 379.62 801.5 379.98C803.67 380.35 805.83 380.69 808 381C810.17 381.31 812.33 381.59 814.5 381.85C816.67 382.11 818.83 382.35 821 382.57C823.17 382.78 825.33 382.98 827.5 383.16C829.67 383.34 831.83 383.49 834 383.64C836.17 383.78 838.33 383.91 840.5 384.03C842.67 384.15 844.83 384.25 847 384.34C849.17 384.44 851.33 384.52 853.5 384.59C855.67 384.67 857.83 384.73 860 384.79C862.17 384.84 864.33 384.89 866.5 384.94C868.67 384.98 870.83 385.02 873 385.05C875.17 385.09 877.33 385.12 879.5 385.14C881.67 385.17 883.83 385.19 886 385.21C888.17 385.23 890.33 385.25 892.5 385.26C894.67 385.28 896.83 385.29 899 385.3C901.17 385.31 903.33 385.32 905.5 385.33C907.67 385.34 909.83 385.34 912 385.35C914.17 385.35 916.33 385.36 918.5 385.36C920.67 385.37 922.83 385.37 925 385.38C927.17 385.38 929.33 385.39 931.5 385.39C933.67 385.39 935.83 385.4 938 385.4L938 385.4 Z" fill="#00bfff" fill-opacity="0.2" stroke="#00bfff" stroke-opacity="0.2" stroke-width="2.1"/>
<line x1="400" x2="938" y1="385.4" y2="385.4" stroke="#3f818f" stroke-opacity="0.45" stroke-width="3.1"/>
<line x1="580.5" x2="580.5" y1="386" y2="347.55" stroke="#00bfff" stroke-opacity="0.7" stroke-width="3.4" stroke-dasharray="12.6 5.9"/>
<line x1="653.5" x2="653.5" y1="385.4" y2="329.08" stroke="#00bfff" stroke-opacity="0.7" stroke-width="3.4" stroke-linecap="square"/>
<line x1="731.6" x2="731.6" y1="386" y2="356.52" stroke="#00bfff" stroke-opacity="0.7" stroke-width="3.4" stroke-dasharray="12.6 5.9"/>
<path d="M261.4 385.4L400 385.4C403.33 385.4 406.67 385.34 410 385.33C413.33 385.31 416.67 385.29 420 385.27C423.33 385.25 426.67 385.22 430 385.2C433.33 385.17 436.67 385.13 440 385.09C442.78 385.05 445.56 385.01 448.33 384.97C451.11 384.92 453.89 384.86 456.67 384.78C459.44 384.7 462.22 384.6 465 384.48C467.78 384.36 470.56 384.22 473.33 384.04C476.11 383.87 478.89 383.66 481.67 383.42C484.44 383.17 487.22 382.88 490 382.54C492.78 382.2 495.56 381.81 498.33 381.35C501.11 380.89 503.89 380.37 506.67 379.77C509.44 379.16 512.22 378.48 515 377.71C517.78 376.94 520.56 376.07 523.33 375.12C526.11 374.17 528.89 373.17 531.67 372.11C534.44 371.05 537.22 369.89 540 368.64C542.08 367.71 544.17 366.75 546.25 365.73C548.33 364.7 550.42 363.62 552.5 362.53C554.58 361.43 556.67 360.32 558.75 359.2C560.83 358.07 562.92 356.94 565 355.81C567.08 354.68 569.17 353.55 571.25 352.42C573.33 351.3 575.42 350.19 577.5 349.1C579.58 348.01 581.67 346.94 583.75 345.9C585.83 344.87 587.92 343.86 590 342.9C592.08 341.94 594.17 341.02 596.25 340.13C598.33 339.25 600.42 338.41 602.5 337.62C604.58 336.82 606.67 336.06 608.75 335.37C610.83 334.67 612.92 334.03 615 333.46C617.08 332.89 619.17 332.38 621.25 331.94C623.33 331.5 625.42 331.11 627.5 330.78C629.58 330.45 631.67 330.17 633.75 329.93C635.83 329.69 637.92 329.5 640 329.35C643.83 329.08 647.67 328.94 651.5 329.02C653.75 329.07 656 329.19 658.25 329.38C660.5 329.57 662.75 329.82 665 330.15C667.17 330.48 669.33 330.88 671.5 331.36C673.67 331.85 675.83 332.41 678 333.04C680.17 333.66 682.33 334.36 684.5 335.1C686.67 335.85 688.83 336.66 691 337.51C693.17 338.37 695.33 339.27 697.5 340.21C699.67 341.15 701.83 342.12 704 343.13C706.17 344.13 708.33 345.16 710.5 346.2C712.67 347.24 714.83 348.3 717 349.37C719.17 350.43 721.33 351.5 723.5 352.56C725.67 353.63 727.83 354.69 730 355.74C732.17 356.79 734.33 357.83 736.5 358.85C738.67 359.87 740.83 360.87 743 361.84C745.17 362.81 747.33 363.76 749.5 364.68C751.67 365.59 753.83 366.48 756 367.33C758.17 368.18 760.33 369 762.5 369.78C764.67 370.56 766.83 371.31 769 372.02C771.17 372.73 773.33 373.4 775.5 374.04C777.67 374.67 779.83 375.27 782 375.83C784.17 376.4 786.33 376.92 788.5 377.42C790.67 377.91 792.83 378.37 795 378.79C797.17 379.22 799.33 379.62 801.5 379.98C803.67 380.35 805.83 380.69 808 381C810.17 381.31 812.33 381.59 814.5 381.85C816.67 382.11 818.83 382.35 821 382.57C823.17 382.78 825.33 382.98 827.5 383.16C829.67 383.34 831.83 383.49 834 383.64C836.17 383.78 838.33 383.91 840.5 384.03C842.67 384.15 844.83 384.25 847 384.34C849.17 384.44 851.33 384.52 853.5 384.59C855.67 384.67 857.83 384.73 860 384.79C862.17 384.84 864.33 384.89 866.5 384.94C868.67 384.98 870.83 385.02 873 385.05C875.17 385.09 877.33 385.12 879.5 385.14C881.67 385.17 883.83 385.19 886 385.21C888.17 385.23 890.33 385.25 892.5 385.26C894.67 385.28 896.83 385.29 899 385.3C901.17 385.31 903.33 385.32 905.5 385.33C907.67 385.34 909.83 385.34 912 385.35C914.17 385.35 916.33 385.36 918.5 385.36C920.67 385.37 922.83 385.37 925 385.38C927.17 385.38 929.33 385.39 931.5 385.39C933.67 385.39 935.83 385.4 938 385.4L944 385.4" fill="none" stroke="#00bfff" stroke-width="4.3" stroke-linejoin="round" stroke-linecap="butt"/>
</g>
<rect x="196.3" y="50.5" width="117.7" height="57.5" rx="4" ry="4" fill="#fff" fill-opacity="0.8" stroke="#ccc" stroke-opacity="0.8" stroke-width="1.9"/>
<line x1="202" x2="244" y1="64.4" y2="64.4" stroke="#ffa500" stroke-width="4.3"/>
<line x1="202" x2="244" y1="90.4" y2="90.4" stroke="#00bfff" stroke-width="4.3"/>
<text x="256" y="70.8" font-size="18.8" textLength="50.6" lengthAdjust="spacingAndGlyphs">NG12</text>
<text x="256" y="96.9" font-size="18.8" textLength="50.6" lengthAdjust="spacingAndGlyphs">NG15</text>
<rect x="187.5" y="41.6" width="756.5" height="360.15" fill="none" stroke="#000" stroke-width="2.0"/>
<g stroke="#000" stroke-width="1.7">
<line x1="187.5" x2="187.5" y1="401.75" y2="409.95"/>
<line x1="263.15" x2="263.15" y1="401.75" y2="409.95"/>
<line x1="338.8" x2="338.8" y1="401.75" y2="409.95"/>
<line x1="414.45" x2="414.45" y1="401.75" y2="409.95"/>
<line x1="490.1" x2="490.1" y1="401.75" y2="409.95"/>
<line x1="565.75" x2="565.75" y1="401.75" y2="409.95"/>
<line x1="641.4" x2="641.4" y1="401.75" y2="409.95"/>
<line x1="717.05" x2="717.05" y1="401.75" y2="409.95"/>
<line x1="792.7" x2="792.7" y1="401.75" y2="409.95"/>
<line x1="868.35" x2="868.35" y1="401.75" y2="409.95"/>
<line x1="944" x2="944" y1="401.75" y2="409.95"/>
<line x1="179.1" x2="187.5" y1="114.2" y2="114.2"/>
<line x1="179.1" x2="187.5" y1="182" y2="182"/>
<line x1="179.1" x2="187.5" y1="250" y2="250"/>
<line x1="179.1" x2="187.5" y1="317.6" y2="317.6"/>
<line x1="179.1" x2="187.5" y1="385.4" y2="385.4"/>
</g>
<g font-size="22.4" text-anchor="middle">
<text x="186.5" y="434.6">1.0</text>
<text x="262.15" y="434.6">1.1</text>
<text x="337.8" y="434.6">1.2</text>
<text x="413.45" y="434.6">1.3</text>
<text x="489.1" y="434.6">1.4</text>
<text x="564.75" y="434.6">1.5</text>
<text x="640.4" y="434.6">1.6</text>
<text x="716.05" y="434.6">1.7</text>
<text x="791.7" y="434.6">1.8</text>
<text x="867.35" y="434.6">1.9</text>
<text x="943" y="434.6">2.0</text>
</g>
<text x="3.31" y="125.4" font-size="33" textLength="15.47" lengthAdjust="spacingAndGlyphs">J</text>
<text x="20.78" y="125.4" font-size="33" textLength="61.7" lengthAdjust="spacingAndGlyphs">1614</text>
<text x="95.59" y="126.8" font-size="33" text-anchor="middle" style="font-family:'DejaVu Sans Light','DejaVu Sans',sans-serif;font-weight:200">−</text>
<text x="108.7" y="125.4" font-size="33" textLength="61.7" lengthAdjust="spacingAndGlyphs">2230</text>
<text x="28.82" y="193.2" font-size="33" textLength="21.61" lengthAdjust="spacingAndGlyphs">B</text>
<text x="52.43" y="193.2" font-size="33" textLength="61.7" lengthAdjust="spacingAndGlyphs">1855</text>
<text x="127.24" y="194.6" font-size="33" text-anchor="middle" style="font-family:'DejaVu Sans Light','DejaVu Sans',sans-serif;font-weight:200">+</text>
<text x="140.35" y="193.2" font-size="33" textLength="30.05" lengthAdjust="spacingAndGlyphs">09</text>
<text x="3.31" y="261.2" font-size="33" textLength="15.47" lengthAdjust="spacingAndGlyphs">J</text>
<text x="20.78" y="261.2" font-size="33" textLength="61.7" lengthAdjust="spacingAndGlyphs">1909</text>
<text x="95.59" y="262.6" font-size="33" text-anchor="middle" style="font-family:'DejaVu Sans Light','DejaVu Sans',sans-serif;font-weight:200">−</text>
<text x="108.7" y="261.2" font-size="33" textLength="61.7" lengthAdjust="spacingAndGlyphs">3744</text>
<text x="3.31" y="328.8" font-size="33" textLength="15.47" lengthAdjust="spacingAndGlyphs">J</text>
<text x="20.78" y="328.8" font-size="33" textLength="61.7" lengthAdjust="spacingAndGlyphs">1918</text>
<text x="95.59" y="330.2" font-size="33" text-anchor="middle" style="font-family:'DejaVu Sans Light','DejaVu Sans',sans-serif;font-weight:200">−</text>
<text x="108.7" y="328.8" font-size="33" textLength="61.7" lengthAdjust="spacingAndGlyphs">0642</text>
<text x="3.31" y="396.6" font-size="33" textLength="15.47" lengthAdjust="spacingAndGlyphs">J</text>
<text x="20.78" y="396.6" font-size="33" textLength="61.7" lengthAdjust="spacingAndGlyphs">2043</text>
<text x="95.59" y="398" font-size="33" text-anchor="middle" style="font-family:'DejaVu Sans Light','DejaVu Sans',sans-serif;font-weight:200">+</text>
<text x="108.7" y="396.6" font-size="33" textLength="61.7" lengthAdjust="spacingAndGlyphs">1711</text>
</g>
<g id="bottom-panel">
<g stroke="#ebebeb" stroke-width="1.7">
<line x1="261.4" x2="261.4" y1="463.85" y2="1546.75"/>
<line x1="337.28" x2="337.28" y1="463.85" y2="1546.75"/>
<line x1="413.16" x2="413.16" y1="463.85" y2="1546.75"/>
<line x1="489.04" x2="489.04" y1="463.85" y2="1546.75"/>
<line x1="564.92" x2="564.92" y1="463.85" y2="1546.75"/>
<line x1="640.8" x2="640.8" y1="463.85" y2="1546.75"/>
<line x1="716.68" x2="716.68" y1="463.85" y2="1546.75"/>
<line x1="792.56" x2="792.56" y1="463.85" y2="1546.75"/>
<line x1="868.44" x2="868.44" y1="463.85" y2="1546.75"/>
</g>
<g clip-path="url(#cb)">
<line x1="187.5" x2="944" y1="582.4" y2="582.4" stroke="#808080" stroke-opacity="0.7" stroke-width="3.1"/>
<path d="M235 582.4L235 582.4C237.5 582.4 240 582.19 242.5 582.09C245 581.99 247.5 581.87 250 581.7C253.77 581.45 257.53 581.1 261.3 580.67C264.2 580.34 267.1 579.99 270 579.53C273.33 579.01 276.67 578.37 280 577.38C283.33 576.4 286.67 575.04 290 573.51C293.33 571.98 296.67 570.3 300 568.48C303.33 566.66 306.67 564.68 310 562.43C313.33 560.19 316.67 557.69 320 555.33C323.33 552.97 326.67 550.74 330 548.54C332.5 546.89 335 545.22 337.5 543.58C340.57 541.57 343.63 539.59 346.7 537.68C349.47 535.95 352.23 534.28 355 532.85C357.77 531.42 360.53 530.22 363.3 529.04C366.1 527.85 368.9 526.69 371.7 525.61C374.47 524.55 377.23 523.58 380 522.68C382.77 521.78 385.53 520.95 388.3 520.15C391.1 519.34 393.9 518.57 396.7 517.94C399.47 517.31 402.23 516.81 405 516.36C407.77 515.91 410.53 515.51 413.3 515.18C416.1 514.85 418.9 514.58 421.7 514.31C424.47 514.05 427.23 513.78 430 513.56C433.27 513.3 436.53 513.1 439.8 513C443.2 512.89 446.6 512.85 450 512.98C454 513.12 458 513.52 462 514.08C465 514.5 468 514.99 471 515.51C474 516.03 477 516.57 480 517.11C482.97 517.65 485.93 518.2 488.9 518.75C491.87 519.3 494.83 519.85 497.8 520.41C500.77 520.98 503.73 521.55 506.7 522.13C510.67 522.91 514.63 523.71 518.6 524.54C522.57 525.36 526.53 526.21 530.5 527.05C534.33 527.87 538.17 528.69 542 529.51C545.83 530.33 549.67 531.16 553.5 531.98C557.33 532.8 561.17 533.63 565 534.45C568.12 535.11 571.25 535.78 574.38 536.44C577.5 537.1 580.62 537.76 583.75 538.4C586.88 539.05 590 539.69 593.12 540.32C596.25 540.95 599.38 541.57 602.5 542.17C605.71 542.79 608.92 543.4 612.12 543.99C615.33 544.58 618.54 545.16 621.75 545.71C624.96 546.26 628.17 546.77 631.38 547.28C634.58 547.79 637.79 548.29 641 548.77C644.62 549.31 648.24 549.84 651.86 550.35C655.48 550.87 659.1 551.37 662.71 551.85C666.33 552.34 669.95 552.81 673.57 553.27C677.19 553.73 680.81 554.19 684.43 554.65C688.05 555.11 691.67 555.56 695.29 556C698.9 556.44 702.52 556.87 706.14 557.28C709.76 557.7 713.38 558.1 717 558.5C720.62 558.89 724.24 559.28 727.86 559.65C731.48 560.03 735.1 560.39 738.71 560.75C742.33 561.1 745.95 561.45 749.57 561.78C753.19 562.12 756.81 562.44 760.43 562.76C764.05 563.08 767.67 563.39 771.29 563.69C774.9 563.99 778.52 564.28 782.14 564.56C785.76 564.84 789.38 565.12 793 565.38C796.62 565.65 800.24 565.91 803.86 566.16C807.48 566.4 811.1 566.65 814.71 566.88C818.33 567.11 821.95 567.34 825.57 567.56C829.19 567.78 832.81 567.99 836.43 568.2C840.05 568.4 843.67 568.6 847.29 568.79C850.9 568.98 854.52 569.16 858.14 569.34C861.76 569.51 865.38 569.68 869 569.84C872.57 570 876.14 570.15 879.71 570.3C883.29 570.44 886.86 570.58 890.43 570.7C894 570.83 897.57 570.95 901.14 571.07C904.71 571.18 908.29 571.28 911.86 571.38C915.43 571.48 919 571.56 922.57 571.64C926.14 571.72 929.71 571.8 933.29 571.86C936.86 571.93 940.43 571.98 944 572.03L944 582.4 Z" fill="#ffa500" fill-opacity="0.2" stroke="#ffa500" stroke-opacity="0.2" stroke-width="2.1"/>
<line x1="392" x2="392" y1="583" y2="519.11" stroke="#ffa500" stroke-opacity="0.7" stroke-width="3.4" stroke-dasharray="12.6 5.9"/>
<line x1="530.5" x2="530.5" y1="582.4" y2="527.05" stroke="#ffa500" stroke-opacity="0.7" stroke-width="3.4" stroke-linecap="square"/>
<line x1="799.6" x2="799.6" y1="583" y2="565.86" stroke="#ffa500" stroke-opacity="0.7" stroke-width="3.4" stroke-dasharray="12.6 5.9"/>
<path d="M235 582.4C237.5 582.4 240 582.19 242.5 582.09C245 581.99 247.5 581.87 250 581.7C253.77 581.45 257.53 581.1 261.3 580.67C264.2 580.34 267.1 579.99 270 579.53C273.33 579.01 276.67 578.37 280 577.38C283.33 576.4 286.67 575.04 290 573.51C293.33 571.98 296.67 570.3 300 568.48C303.33 566.66 306.67 564.68 310 562.43C313.33 560.19 316.67 557.69 320 555.33C323.33 552.97 326.67 550.74 330 548.54C332.5 546.89 335 545.22 337.5 543.58C340.57 541.57 343.63 539.59 346.7 537.68C349.47 535.95 352.23 534.28 355 532.85C357.77 531.42 360.53 530.22 363.3 529.04C366.1 527.85 368.9 526.69 371.7 525.61C374.47 524.55 377.23 523.58 380 522.68C382.77 521.78 385.53 520.95 388.3 520.15C391.1 519.34 393.9 518.57 396.7 517.94C399.47 517.31 402.23 516.81 405 516.36C407.77 515.91 410.53 515.51 413.3 515.18C416.1 514.85 418.9 514.58 421.7 514.31C424.47 514.05 427.23 513.78 430 513.56C433.27 513.3 436.53 513.1 439.8 513C443.2 512.89 446.6 512.85 450 512.98C454 513.12 458 513.52 462 514.08C465 514.5 468 514.99 471 515.51C474 516.03 477 516.57 480 517.11C482.97 517.65 485.93 518.2 488.9 518.75C491.87 519.3 494.83 519.85 497.8 520.41C500.77 520.98 503.73 521.55 506.7 522.13C510.67 522.91 514.63 523.71 518.6 524.54C522.57 525.36 526.53 526.21 530.5 527.05C534.33 527.87 538.17 528.69 542 529.51C545.83 530.33 549.67 531.16 553.5 531.98C557.33 532.8 561.17 533.63 565 534.45C568.12 535.11 571.25 535.78 574.38 536.44C577.5 537.1 580.62 537.76 583.75 538.4C586.88 539.05 590 539.69 593.12 540.32C596.25 540.95 599.38 541.57 602.5 542.17C605.71 542.79 608.92 543.4 612.12 543.99C615.33 544.58 618.54 545.16 621.75 545.71C624.96 546.26 628.17 546.77 631.38 547.28C634.58 547.79 637.79 548.29 641 548.77C644.62 549.31 648.24 549.84 651.86 550.35C655.48 550.87 659.1 551.37 662.71 551.85C666.33 552.34 669.95 552.81 673.57 553.27C677.19 553.73 680.81 554.19 684.43 554.65C688.05 555.11 691.67 555.56 695.29 556C698.9 556.44 702.52 556.87 706.14 557.28C709.76 557.7 713.38 558.1 717 558.5C720.62 558.89 724.24 559.28 727.86 559.65C731.48 560.03 735.1 560.39 738.71 560.75C742.33 561.1 745.95 561.45 749.57 561.78C753.19 562.12 756.81 562.44 760.43 562.76C764.05 563.08 767.67 563.39 771.29 563.69C774.9 563.99 778.52 564.28 782.14 564.56C785.76 564.84 789.38 565.12 793 565.38C796.62 565.65 800.24 565.91 803.86 566.16C807.48 566.4 811.1 566.65 814.71 566.88C818.33 567.11 821.95 567.34 825.57 567.56C829.19 567.78 832.81 567.99 836.43 568.2C840.05 568.4 843.67 568.6 847.29 568.79C850.9 568.98 854.52 569.16 858.14 569.34C861.76 569.51 865.38 569.68 869 569.84C872.57 570 876.14 570.15 879.71 570.3C883.29 570.44 886.86 570.58 890.43 570.7C894 570.83 897.57 570.95 901.14 571.07C904.71 571.18 908.29 571.28 911.86 571.38C915.43 571.48 919 571.56 922.57 571.64C926.14 571.72 929.71 571.8 933.29 571.86C936.86 571.93 940.43 571.98 944 572.03" fill="none" stroke="#ffa500" stroke-width="4.3" stroke-linejoin="round" stroke-linecap="butt"/>
<path d="M255 582.4L255 582.4C257.17 582.4 259.33 582.35 261.5 582.3C263.67 582.25 265.83 582.18 268 582.09C272 581.92 276 581.72 280 581.02C283.33 580.44 286.67 579.17 290 577.65C293.33 576.13 296.67 574.18 300 571.81C303.33 569.44 306.67 566.42 310 563.58C313.33 560.73 316.67 557.94 320 555.15C323.33 552.35 326.67 549.58 330 546.83C332.5 544.76 335 542.73 337.5 540.59C340.57 537.96 343.63 535.06 346.7 532.64C349.47 530.46 352.23 528.59 355 526.79C357.77 524.98 360.53 523.24 363.3 521.8C366.1 520.35 368.9 519.11 371.7 518.08C373.37 517.46 375.03 516.9 376.7 516.48C378.9 515.93 381.1 515.72 383.3 514.98C384.97 514.42 386.63 513.32 388.3 513.19C390.53 513.02 392.77 514.05 395 513.94C396.67 513.86 398.33 512.89 400 512.9C402.23 512.91 404.47 514.4 406.7 514.66C408.9 514.91 411.1 514.63 413.3 514.84C416.1 515.09 418.9 516.57 421.7 517.5C424.47 518.42 427.23 519.03 430 519.77C433.27 520.64 436.53 521.5 439.8 522.62C442.12 523.41 444.43 524.35 446.75 525.33C449.07 526.31 451.38 527.3 453.7 528.25C457.18 529.66 460.66 531.03 464.13 532.38C467.61 533.73 471.09 535.07 474.57 536.39C478.04 537.71 481.52 539.01 485 540.3C487.71 541.31 490.42 542.31 493.13 543.3C495.84 544.29 498.56 545.27 501.27 546.22C503.98 547.17 506.69 548.09 509.4 548.99C513 550.19 516.6 551.34 520.2 552.46C523.8 553.58 527.4 554.68 531 555.74C534.6 556.8 538.2 557.83 541.8 558.83C545.67 559.91 549.53 560.98 553.4 561.97C557.27 562.97 561.13 563.88 565 564.7C568.12 565.36 571.25 565.97 574.38 566.55C577.5 567.13 580.62 567.67 583.75 568.19C586.88 568.71 590 569.21 593.12 569.69C596.25 570.16 599.38 570.61 602.5 571.04C605.71 571.48 608.92 571.9 612.12 572.3C615.33 572.7 618.54 573.08 621.75 573.45C624.96 573.82 628.17 574.17 631.38 574.5C634.58 574.84 637.79 575.16 641 575.46C644.12 575.76 647.25 576.05 650.38 576.32C653.5 576.6 656.62 576.87 659.75 577.12C662.88 577.37 666 577.61 669.12 577.84C672.25 578.06 675.38 578.27 678.5 578.47C681.71 578.67 684.92 578.87 688.12 579.05C691.33 579.23 694.54 579.41 697.75 579.57C700.96 579.73 704.17 579.88 707.38 580.01C710.58 580.14 713.79 580.25 717 580.35C720.62 580.47 724.24 580.58 727.86 580.67C731.48 580.77 735.1 580.86 738.71 580.95C742.33 581.03 745.95 581.11 749.57 581.18C753.19 581.26 756.81 581.33 760.43 581.39C764.05 581.46 767.67 581.52 771.29 581.58C774.9 581.64 778.52 581.69 782.14 581.74C785.76 581.8 789.38 581.84 793 581.89C796.8 581.94 800.6 581.98 804.4 582.02C808.2 582.07 812 582.11 815.8 582.14C819.6 582.18 823.4 582.21 827.2 582.25C831 582.28 834.8 582.3 838.6 582.33C842.4 582.35 846.2 582.4 850 582.4L850 582.4 Z" fill="#00bfff" fill-opacity="0.2" stroke="#00bfff" stroke-opacity="0.2" stroke-width="2.1"/>
<line x1="255" x2="850" y1="582.4" y2="582.4" stroke="#3f818f" stroke-opacity="0.45" stroke-width="3.1"/>
<line x1="358" x2="358" y1="583" y2="524.87" stroke="#00bfff" stroke-opacity="0.7" stroke-width="3.4" stroke-dasharray="12.6 5.9"/>
<line x1="430" x2="430" y1="582.4" y2="519.77" stroke="#00bfff" stroke-opacity="0.7" stroke-width="3.4" stroke-linecap="square"/>
<line x1="541.8" x2="541.8" y1="583" y2="558.83" stroke="#00bfff" stroke-opacity="0.7" stroke-width="3.4" stroke-dasharray="12.6 5.9"/>
<path d="M187.5 582.4L255 582.4C257.17 582.4 259.33 582.35 261.5 582.3C263.67 582.25 265.83 582.18 268 582.09C272 581.92 276 581.72 280 581.02C283.33 580.44 286.67 579.17 290 577.65C293.33 576.13 296.67 574.18 300 571.81C303.33 569.44 306.67 566.42 310 563.58C313.33 560.73 316.67 557.94 320 555.15C323.33 552.35 326.67 549.58 330 546.83C332.5 544.76 335 542.73 337.5 540.59C340.57 537.96 343.63 535.06 346.7 532.64C349.47 530.46 352.23 528.59 355 526.79C357.77 524.98 360.53 523.24 363.3 521.8C366.1 520.35 368.9 519.11 371.7 518.08C373.37 517.46 375.03 516.9 376.7 516.48C378.9 515.93 381.1 515.72 383.3 514.98C384.97 514.42 386.63 513.32 388.3 513.19C390.53 513.02 392.77 514.05 395 513.94C396.67 513.86 398.33 512.89 400 512.9C402.23 512.91 404.47 514.4 406.7 514.66C408.9 514.91 411.1 514.63 413.3 514.84C416.1 515.09 418.9 516.57 421.7 517.5C424.47 518.42 427.23 519.03 430 519.77C433.27 520.64 436.53 521.5 439.8 522.62C442.12 523.41 444.43 524.35 446.75 525.33C449.07 526.31 451.38 527.3 453.7 528.25C457.18 529.66 460.66 531.03 464.13 532.38C467.61 533.73 471.09 535.07 474.57 536.39C478.04 537.71 481.52 539.01 485 540.3C487.71 541.31 490.42 542.31 493.13 543.3C495.84 544.29 498.56 545.27 501.27 546.22C503.98 547.17 506.69 548.09 509.4 548.99C513 550.19 516.6 551.34 520.2 552.46C523.8 553.58 527.4 554.68 531 555.74C534.6 556.8 538.2 557.83 541.8 558.83C545.67 559.91 549.53 560.98 553.4 561.97C557.27 562.97 561.13 563.88 565 564.7C568.12 565.36 571.25 565.97 574.38 566.55C577.5 567.13 580.62 567.67 583.75 568.19C586.88 568.71 590 569.21 593.12 569.69C596.25 570.16 599.38 570.61 602.5 571.04C605.71 571.48 608.92 571.9 612.12 572.3C615.33 572.7 618.54 573.08 621.75 573.45C624.96 573.82 628.17 574.17 631.38 574.5C634.58 574.84 637.79 575.16 641 575.46C644.12 575.76 647.25 576.05 650.38 576.32C653.5 576.6 656.62 576.87 659.75 577.12C662.88 577.37 666 577.61 669.12 577.84C672.25 578.06 675.38 578.27 678.5 578.47C681.71 578.67 684.92 578.87 688.12 579.05C691.33 579.23 694.54 579.41 697.75 579.57C700.96 579.73 704.17 579.88 707.38 580.01C710.58 580.14 713.79 580.25 717 580.35C720.62 580.47 724.24 580.58 727.86 580.67C731.48 580.77 735.1 580.86 738.71 580.95C742.33 581.03 745.95 581.11 749.57 581.18C753.19 581.26 756.81 581.33 760.43 581.39C764.05 581.46 767.67 581.52 771.29 581.58C774.9 581.64 778.52 581.69 782.14 581.74C785.76 581.8 789.38 581.84 793 581.89C796.8 581.94 800.6 581.98 804.4 582.02C808.2 582.07 812 582.11 815.8 582.14C819.6 582.18 823.4 582.21 827.2 582.25C831 582.28 834.8 582.3 838.6 582.33C842.4 582.35 846.2 582.4 850 582.4L944 582.4" fill="none" stroke="#00bfff" stroke-width="4.3" stroke-linejoin="round" stroke-linecap="butt"/>
<line x1="187.5" x2="944" y1="665.5" y2="665.5" stroke="#808080" stroke-opacity="0.7" stroke-width="3.1"/>
<path d="M305 665.5L305 665.5C307.5 665.5 310 664.85 312.5 664.5C315 664.15 317.5 663.91 320 663.19C321.67 662.71 323.33 661.95 325 660.66C326.67 659.37 328.33 657.28 330 655.05C331.67 652.81 333.33 650.24 335 647.54C336.67 644.84 338.33 642.09 340 638.74C341.67 635.39 343.33 631.28 345 627.52C346.67 623.76 348.33 620.04 350 616.94C351.67 613.83 353.33 611.37 355 608.71C356.67 606.05 358.33 603.02 360 601.28C360.83 600.4 361.67 599.87 362.5 599.31C364.58 597.92 366.67 596.07 368.75 596.45C370 596.67 371.25 598.37 372.5 599.18C374.17 600.26 375.83 600.19 377.5 601.34C378.75 602.21 380 603.99 381.25 605.54C383.33 608.12 385.42 610.54 387.5 613.11C390 616.19 392.5 619.39 395 622.47C397.5 625.55 400 628.64 402.5 631.25C405 633.86 407.5 636.05 410 638.16C413.3 640.95 416.6 643.62 419.9 645.59C422.42 647.1 424.93 648.35 427.45 649.47C429.97 650.59 432.48 651.55 435 652.39C438.33 653.51 441.67 654.46 445 655.29C448.33 656.12 451.67 656.81 455 657.41C458.81 658.1 462.61 658.7 466.42 659.24C470.22 659.78 474.03 660.26 477.83 660.66C481.64 661.06 485.44 661.38 489.25 661.65C492.62 661.89 495.98 662.09 499.35 662.27C502.72 662.45 506.08 662.6 509.45 662.75C512.82 662.89 516.18 663.02 519.55 663.14C522.92 663.25 526.28 663.36 529.65 663.46C533.02 663.55 536.38 663.64 539.75 663.72C543.1 663.8 546.44 663.88 549.79 663.95C553.14 664.01 556.49 664.08 559.83 664.14C563.18 664.2 566.53 664.26 569.88 664.31C573.22 664.36 576.57 664.41 579.92 664.45C583.26 664.5 586.61 664.54 589.96 664.58C593.31 664.61 596.65 664.65 600 664.68C603.7 664.72 607.41 664.75 611.11 664.78C614.81 664.82 618.52 664.85 622.22 664.87C625.93 664.9 629.63 664.93 633.33 664.96C637.04 664.98 640.74 665.01 644.44 665.03C648.15 665.05 651.85 665.07 655.56 665.09C659.26 665.12 662.96 665.14 666.67 665.15C670.37 665.17 674.07 665.19 677.78 665.21C681.48 665.22 685.19 665.24 688.89 665.25C692.59 665.27 696.3 665.28 700 665.29C703.7 665.31 707.41 665.32 711.11 665.33C714.81 665.34 718.52 665.35 722.22 665.36C725.93 665.37 729.63 665.38 733.33 665.39C737.04 665.4 740.74 665.41 744.44 665.42C748.15 665.43 751.85 665.44 755.56 665.44C759.26 665.45 762.96 665.46 766.67 665.46C770.37 665.47 774.07 665.47 777.78 665.48C781.48 665.48 785.19 665.49 788.89 665.49C792.59 665.49 796.3 665.5 800 665.5L800 665.5 Z" fill="#ffa500" fill-opacity="0.2" stroke="#ffa500" stroke-opacity="0.2" stroke-width="2.1"/>
<line x1="353.75" x2="353.75" y1="666.1" y2="610.68" stroke="#ffa500" stroke-opacity="0.7" stroke-width="3.4" stroke-dasharray="12.6 5.9"/>
<line x1="380.6" x2="380.6" y1="665.5" y2="604.73" stroke="#ffa500" stroke-opacity="0.7" stroke-width="3.4" stroke-linecap="square"/>
<line x1="435" x2="435" y1="666.1" y2="652.39" stroke="#ffa500" stroke-opacity="0.7" stroke-width="3.4" stroke-dasharray="12.6 5.9"/>
<path d="M305 665.5C307.5 665.5 310 664.85 312.5 664.5C315 664.15 317.5 663.91 320 663.19C321.67 662.71 323.33 661.95 325 660.66C326.67 659.37 328.33 657.28 330 655.05C331.67 652.81 333.33 650.24 335 647.54C336.67 644.84 338.33 642.09 340 638.74C341.67 635.39 343.33 631.28 345 627.52C346.67 623.76 348.33 620.04 350 616.94C351.67 613.83 353.33 611.37 355 608.71C356.67 606.05 358.33 603.02 360 601.28C360.83 600.4 361.67 599.87 362.5 599.31C364.58 597.92 366.67 596.07 368.75 596.45C370 596.67 371.25 598.37 372.5 599.18C374.17 600.26 375.83 600.19 377.5 601.34C378.75 602.21 380 603.99 381.25 605.54C383.33 608.12 385.42 610.54 387.5 613.11C390 616.19 392.5 619.39 395 622.47C397.5 625.55 400 628.64 402.5 631.25C405 633.86 407.5 636.05 410 638.16C413.3 640.95 416.6 643.62 419.9 645.59C422.42 647.1 424.93 648.35 427.45 649.47C429.97 650.59 432.48 651.55 435 652.39C438.33 653.51 441.67 654.46 445 655.29C448.33 656.12 451.67 656.81 455 657.41C458.81 658.1 462.61 658.7 466.42 659.24C470.22 659.78 474.03 660.26 477.83 660.66C481.64 661.06 485.44 661.38 489.25 661.65C492.62 661.89 495.98 662.09 499.35 662.27C502.72 662.45 506.08 662.6 509.45 662.75C512.82 662.89 516.18 663.02 519.55 663.14C522.92 663.25 526.28 663.36 529.65 663.46C533.02 663.55 536.38 663.64 539.75 663.72C543.1 663.8 546.44 663.88 549.79 663.95C553.14 664.01 556.49 664.08 559.83 664.14C563.18 664.2 566.53 664.26 569.88 664.31C573.22 664.36 576.57 664.41 579.92 664.45C583.26 664.5 586.61 664.54 589.96 664.58C593.31 664.61 596.65 664.65 600 664.68C603.7 664.72 607.41 664.75 611.11 664.78C614.81 664.82 618.52 664.85 622.22 664.87C625.93 664.9 629.63 664.93 633.33 664.96C637.04 664.98 640.74 665.01 644.44 665.03C648.15 665.05 651.85 665.07 655.56 665.09C659.26 665.12 662.96 665.14 666.67 665.15C670.37 665.17 674.07 665.19 677.78 665.21C681.48 665.22 685.19 665.24 688.89 665.25C692.59 665.27 696.3 665.28 700 665.29C703.7 665.31 707.41 665.32 711.11 665.33C714.81 665.34 718.52 665.35 722.22 665.36C725.93 665.37 729.63 665.38 733.33 665.39C737.04 665.4 740.74 665.41 744.44 665.42C748.15 665.43 751.85 665.44 755.56 665.44C759.26 665.45 762.96 665.46 766.67 665.46C770.37 665.47 774.07 665.47 777.78 665.48C781.48 665.48 785.19 665.49 788.89 665.49C792.59 665.49 796.3 665.5 800 665.5" fill="none" stroke="#ffa500" stroke-width="4.3" stroke-linejoin="round" stroke-linecap="butt"/>
<path d="M313.73 665.5L313.73 665.5C314.32 665.5 314.91 665.49 315.5 665.48C316.09 665.47 316.68 665.45 317.27 665.42C317.86 665.38 318.44 665.33 319.03 665.23C319.62 665.13 320.21 664.99 320.8 664.73C321.39 664.48 321.98 664.11 322.57 663.53C323.16 662.94 323.74 662.14 324.33 660.96C324.92 659.79 325.51 658.24 326.1 656.16C326.69 654.09 327.28 651.48 327.87 648.29C328.46 645.11 329.04 641.34 329.63 637.13C330.22 632.93 330.81 628.3 331.4 623.65C331.99 619 332.58 614.34 333.17 610.25C333.76 606.16 334.34 602.65 334.93 600.23C335.52 597.81 336.11 596.5 336.7 596.5C337.29 596.5 337.88 597.81 338.47 600.23C339.06 602.65 339.64 606.16 340.23 610.25C340.82 614.34 341.41 619 342 623.65C342.59 628.3 343.18 632.93 343.77 637.13C344.36 641.34 344.94 645.11 345.53 648.29C346.12 651.48 346.71 654.09 347.3 656.16C347.89 658.24 348.48 659.79 349.07 660.96C349.66 662.14 350.24 662.94 350.83 663.53C351.42 664.11 352.01 664.48 352.6 664.73C353.19 664.99 353.78 665.13 354.37 665.23C354.96 665.33 355.54 665.38 356.13 665.42C356.72 665.45 357.31 665.47 357.9 665.48C358.49 665.49 359.08 665.5 359.67 665.5L359.67 665.5 Z" fill="#00bfff" fill-opacity="0.2" stroke="#00bfff" stroke-opacity="0.2" stroke-width="2.1"/>
<line x1="313.73" x2="359.67" y1="665.5" y2="665.5" stroke="#3f818f" stroke-opacity="0.45" stroke-width="3.1"/>
<line x1="331.9" x2="331.9" y1="666.1" y2="619.71" stroke="#00bfff" stroke-opacity="0.7" stroke-width="3.4" stroke-dasharray="12.6 5.9"/>
<line x1="336.7" x2="336.7" y1="665.5" y2="596.5" stroke="#00bfff" stroke-opacity="0.7" stroke-width="3.4" stroke-linecap="square"/>
<line x1="340.8" x2="340.8" y1="666.1" y2="614.34" stroke="#00bfff" stroke-opacity="0.7" stroke-width="3.4" stroke-dasharray="12.6 5.9"/>
<path d="M187.5 665.5L313.73 665.5C314.32 665.5 314.91 665.49 315.5 665.48C316.09 665.47 316.68 665.45 317.27 665.42C317.86 665.38 318.44 665.33 319.03 665.23C319.62 665.13 320.21 664.99 320.8 664.73C321.39 664.48 321.98 664.11 322.57 663.53C323.16 662.94 323.74 662.14 324.33 660.96C324.92 659.79 325.51 658.24 326.1 656.16C326.69 654.09 327.28 651.48 327.87 648.29C328.46 645.11 329.04 641.34 329.63 637.13C330.22 632.93 330.81 628.3 331.4 623.65C331.99 619 332.58 614.34 333.17 610.25C333.76 606.16 334.34 602.65 334.93 600.23C335.52 597.81 336.11 596.5 336.7 596.5C337.29 596.5 337.88 597.81 338.47 600.23C339.06 602.65 339.64 606.16 340.23 610.25C340.82 614.34 341.41 619 342 623.65C342.59 628.3 343.18 632.93 343.77 637.13C344.36 641.34 344.94 645.11 345.53 648.29C346.12 651.48 346.71 654.09 347.3 656.16C347.89 658.24 348.48 659.79 349.07 660.96C349.66 662.14 350.24 662.94 350.83 663.53C351.42 664.11 352.01 664.48 352.6 664.73C353.19 664.99 353.78 665.13 354.37 665.23C354.96 665.33 355.54 665.38 356.13 665.42C356.72 665.45 357.31 665.47 357.9 665.48C358.49 665.49 359.08 665.5 359.67 665.5L944 665.5" fill="none" stroke="#00bfff" stroke-width="4.3" stroke-linejoin="round" stroke-linecap="butt"/>
<line x1="187.5" x2="944" y1="748.6" y2="748.6" stroke="#808080" stroke-opacity="0.7" stroke-width="3.1"/>
<path d="M213 748.6L213 748.6C216 748.6 219 748.4 222 748.25C224.5 748.12 227 747.93 229.5 747.72C232 747.5 234.5 747.28 237 746.95C240.77 746.45 244.53 745.76 248.3 744.69C250.53 744.05 252.77 743.24 255 742.14C257.23 741.03 259.47 739.62 261.7 738.15C265.7 735.52 269.7 732.7 273.7 729.72C275.92 728.08 278.13 726.37 280.35 724.62C282.57 722.86 284.78 721.04 287 719.18C289.22 717.31 291.43 715.39 293.65 713.49C295.87 711.6 298.08 709.75 300.3 707.99C303.08 705.78 305.87 703.71 308.65 701.78C311.43 699.85 314.22 698.06 317 696.4C320.38 694.38 323.77 692.58 327.15 690.89C330.53 689.2 333.92 687.62 337.3 686.25C340.03 685.15 342.77 684.14 345.5 683.31C348.23 682.48 350.97 681.84 353.7 681.32C356.75 680.73 359.8 680.3 362.85 680.02C365.9 679.74 368.95 679.61 372 679.6C375.62 679.59 379.23 679.76 382.85 680.01C386.47 680.26 390.08 680.6 393.7 681.05C396.97 681.45 400.23 681.93 403.5 682.47C406.77 683.02 410.03 683.63 413.3 684.29C416.13 684.87 418.97 685.49 421.8 686.15C424.63 686.81 427.47 687.51 430.3 688.21C434.2 689.18 438.1 690.18 442 691.2C445.9 692.22 449.8 693.27 453.7 694.34C457.62 695.42 461.54 696.52 465.47 697.61C469.39 698.71 473.31 699.79 477.23 700.89C481.16 701.99 485.08 703.1 489 704.18C491.95 704.99 494.9 705.79 497.85 706.55C500.8 707.31 503.75 708.03 506.7 708.74C510.42 709.64 514.13 710.5 517.85 711.33C521.57 712.16 525.28 712.95 529 713.72C533 714.55 537 715.36 541 716.17C545 716.98 549 717.8 553 718.61C557 719.42 561 720.23 565 721.06C568 721.68 571 722.31 574 722.94C577 723.57 580 724.21 583 724.81C586 725.41 589 725.98 592 726.54C595.27 727.14 598.53 727.71 601.8 728.25C605.07 728.8 608.33 729.32 611.6 729.82C614.87 730.32 618.13 730.81 621.4 731.28C624.67 731.75 627.93 732.2 631.2 732.63C634.47 733.06 637.73 733.48 641 733.89C644.62 734.33 648.24 734.76 651.86 735.18C655.48 735.59 659.1 735.98 662.71 736.36C666.33 736.74 669.95 737.11 673.57 737.45C677.19 737.8 680.81 738.15 684.43 738.49C688.05 738.83 691.67 739.15 695.29 739.46C698.9 739.77 702.52 740.07 706.14 740.35C709.76 740.63 713.38 740.9 717 741.16C720.62 741.41 724.24 741.66 727.86 741.89C731.48 742.12 735.1 742.33 738.71 742.54C742.33 742.75 745.95 742.94 749.57 743.13C753.19 743.31 756.81 743.49 760.43 743.66C764.05 743.82 767.67 743.98 771.29 744.12C774.9 744.27 778.52 744.41 782.14 744.54C785.76 744.67 789.38 744.79 793 744.9C796.62 745.02 800.24 745.13 803.86 745.23C807.48 745.33 811.1 745.42 814.71 745.51C818.33 745.6 821.95 745.68 825.57 745.76C829.19 745.84 832.81 745.91 836.43 745.98C840.05 746.04 843.67 746.11 847.29 746.17C850.9 746.23 854.52 746.28 858.14 746.33C861.76 746.38 865.38 746.43 869 746.48C872.57 746.52 876.14 746.56 879.71 746.6C883.29 746.64 886.86 746.67 890.43 746.7C894 746.73 897.57 746.76 901.14 746.79C904.71 746.81 908.29 746.84 911.86 746.86C915.43 746.88 919 746.9 922.57 746.92C926.14 746.93 929.71 746.95 933.29 746.96C936.86 746.97 940.43 746.99 944 747L944 748.6 Z" fill="#ffa500" fill-opacity="0.2" stroke="#ffa500" stroke-opacity="0.2" stroke-width="2.1"/>
<line x1="335.3" x2="335.3" y1="749.2" y2="687.08" stroke="#ffa500" stroke-opacity="0.7" stroke-width="3.4" stroke-dasharray="12.6 5.9"/>
<line x1="430.3" x2="430.3" y1="748.6" y2="688.21" stroke="#ffa500" stroke-opacity="0.7" stroke-width="3.4" stroke-linecap="square"/>
<line x1="591.8" x2="591.8" y1="749.2" y2="726.5" stroke="#ffa500" stroke-opacity="0.7" stroke-width="3.4" stroke-dasharray="12.6 5.9"/>
<path d="M213 748.6C216 748.6 219 748.4 222 748.25C224.5 748.12 227 747.93 229.5 747.72C232 747.5 234.5 747.28 237 746.95C240.77 746.45 244.53 745.76 248.3 744.69C250.53 744.05 252.77 743.24 255 742.14C257.23 741.03 259.47 739.62 261.7 738.15C265.7 735.52 269.7 732.7 273.7 729.72C275.92 728.08 278.13 726.37 280.35 724.62C282.57 722.86 284.78 721.04 287 719.18C289.22 717.31 291.43 715.39 293.65 713.49C295.87 711.6 298.08 709.75 300.3 707.99C303.08 705.78 305.87 703.71 308.65 701.78C311.43 699.85 314.22 698.06 317 696.4C320.38 694.38 323.77 692.58 327.15 690.89C330.53 689.2 333.92 687.62 337.3 686.25C340.03 685.15 342.77 684.14 345.5 683.31C348.23 682.48 350.97 681.84 353.7 681.32C356.75 680.73 359.8 680.3 362.85 680.02C365.9 679.74 368.95 679.61 372 679.6C375.62 679.59 379.23 679.76 382.85 680.01C386.47 680.26 390.08 680.6 393.7 681.05C396.97 681.45 400.23 681.93 403.5 682.47C406.77 683.02 410.03 683.63 413.3 684.29C416.13 684.87 418.97 685.49 421.8 686.15C424.63 686.81 427.47 687.51 430.3 688.21C434.2 689.18 438.1 690.18 442 691.2C445.9 692.22 449.8 693.27 453.7 694.34C457.62 695.42 461.54 696.52 465.47 697.61C469.39 698.71 473.31 699.79 477.23 700.89C481.16 701.99 485.08 703.1 489 704.18C491.95 704.99 494.9 705.79 497.85 706.55C500.8 707.31 503.75 708.03 506.7 708.74C510.42 709.64 514.13 710.5 517.85 711.33C521.57 712.16 525.28 712.95 529 713.72C533 714.55 537 715.36 541 716.17C545 716.98 549 717.8 553 718.61C557 719.42 561 720.23 565 721.06C568 721.68 571 722.31 574 722.94C577 723.57 580 724.21 583 724.81C586 725.41 589 725.98 592 726.54C595.27 727.14 598.53 727.71 601.8 728.25C605.07 728.8 608.33 729.32 611.6 729.82C614.87 730.32 618.13 730.81 621.4 731.28C624.67 731.75 627.93 732.2 631.2 732.63C634.47 733.06 637.73 733.48 641 733.89C644.62 734.33 648.24 734.76 651.86 735.18C655.48 735.59 659.1 735.98 662.71 736.36C666.33 736.74 669.95 737.11 673.57 737.45C677.19 737.8 680.81 738.15 684.43 738.49C688.05 738.83 691.67 739.15 695.29 739.46C698.9 739.77 702.52 740.07 706.14 740.35C709.76 740.63 713.38 740.9 717 741.16C720.62 741.41 724.24 741.66 727.86 741.89C731.48 742.12 735.1 742.33 738.71 742.54C742.33 742.75 745.95 742.94 749.57 743.13C753.19 743.31 756.81 743.49 760.43 743.66C764.05 743.82 767.67 743.98 771.29 744.12C774.9 744.27 778.52 744.41 782.14 744.54C785.76 744.67 789.38 744.79 793 744.9C796.62 745.02 800.24 745.13 803.86 745.23C807.48 745.33 811.1 745.42 814.71 745.51C818.33 745.6 821.95 745.68 825.57 745.76C829.19 745.84 832.81 745.91 836.43 745.98C840.05 746.04 843.67 746.11 847.29 746.17C850.9 746.23 854.52 746.28 858.14 746.33C861.76 746.38 865.38 746.43 869 746.48C872.57 746.52 876.14 746.56 879.71 746.6C883.29 746.64 886.86 746.67 890.43 746.7C894 746.73 897.57 746.76 901.14 746.79C904.71 746.81 908.29 746.84 911.86 746.86C915.43 746.88 919 746.9 922.57 746.92C926.14 746.93 929.71 746.95 933.29 746.96C936.86 746.97 940.43 746.99 944 747" fill="none" stroke="#ffa500" stroke-width="4.3" stroke-linejoin="round" stroke-linecap="butt"/>
<path d="M212 748.6L212 748.6C213.57 748.6 215.13 747.99 216.7 747.4C218.3 746.8 219.9 745.93 221.5 744.48C223.23 742.9 224.97 740.55 226.7 737.61C229.47 732.91 232.23 727.21 235 721.57C237.77 715.92 240.53 710.25 243.3 704.33C245.27 700.11 247.23 695.6 249.2 691.77C250.87 688.53 252.53 685.83 254.2 683.9C255.63 682.24 257.07 681.2 258.5 680.5C260.43 679.55 262.37 679.1 264.3 679.1C266.2 679.1 268.1 679.61 270 680.36C272.1 681.18 274.2 682.36 276.3 684.01C279.87 686.8 283.43 690.58 287 694.46C289.22 696.88 291.43 699.37 293.65 701.81C295.87 704.25 298.08 706.64 300.3 708.91C303.08 711.76 305.87 714.44 308.65 716.9C311.43 719.37 314.22 721.64 317 723.7C320.38 726.2 323.77 728.39 327.15 730.33C330.53 732.27 333.92 733.95 337.3 735.4C341.13 737.03 344.97 738.38 348.8 739.51C352.63 740.64 356.47 741.56 360.3 742.34C363.27 742.94 366.23 743.46 369.2 743.91C372.17 744.37 375.13 744.77 378.1 745.13C381.07 745.49 384.03 745.8 387 746.07C389.92 746.35 392.84 746.59 395.77 746.8C398.69 747.01 401.61 747.19 404.53 747.33C407.46 747.48 410.38 747.61 413.3 747.72C416.36 747.84 419.42 747.94 422.48 748.02C425.53 748.11 428.59 748.17 431.65 748.24C434.71 748.3 437.77 748.35 440.82 748.4C443.88 748.44 446.94 748.6 450 748.6L450 748.6 Z" fill="#00bfff" fill-opacity="0.2" stroke="#00bfff" stroke-opacity="0.2" stroke-width="2.1"/>
<line x1="213" x2="450" y1="748.6" y2="748.6" stroke="#3f818f" stroke-opacity="0.45" stroke-width="3.1"/>
<line x1="248.7" x2="248.7" y1="749.2" y2="692.76" stroke="#00bfff" stroke-opacity="0.7" stroke-width="3.4" stroke-dasharray="12.6 5.9"/>
<line x1="276.3" x2="276.3" y1="748.6" y2="684.01" stroke="#00bfff" stroke-opacity="0.7" stroke-width="3.4" stroke-linecap="square"/>
<line x1="317" x2="317" y1="749.2" y2="723.7" stroke="#00bfff" stroke-opacity="0.7" stroke-width="3.4" stroke-dasharray="12.6 5.9"/>
<path d="M187.5 748.6L212 748.6C213.57 748.6 215.13 747.99 216.7 747.4C218.3 746.8 219.9 745.93 221.5 744.48C223.23 742.9 224.97 740.55 226.7 737.61C229.47 732.91 232.23 727.21 235 721.57C237.77 715.92 240.53 710.25 243.3 704.33C245.27 700.11 247.23 695.6 249.2 691.77C250.87 688.53 252.53 685.83 254.2 683.9C255.63 682.24 257.07 681.2 258.5 680.5C260.43 679.55 262.37 679.1 264.3 679.1C266.2 679.1 268.1 679.61 270 680.36C272.1 681.18 274.2 682.36 276.3 684.01C279.87 686.8 283.43 690.58 287 694.46C289.22 696.88 291.43 699.37 293.65 701.81C295.87 704.25 298.08 706.64 300.3 708.91C303.08 711.76 305.87 714.44 308.65 716.9C311.43 719.37 314.22 721.64 317 723.7C320.38 726.2 323.77 728.39 327.15 730.33C330.53 732.27 333.92 733.95 337.3 735.4C341.13 737.03 344.97 738.38 348.8 739.51C352.63 740.64 356.47 741.56 360.3 742.34C363.27 742.94 366.23 743.46 369.2 743.91C372.17 744.37 375.13 744.77 378.1 745.13C381.07 745.49 384.03 745.8 387 746.07C389.92 746.35 392.84 746.59 395.77 746.8C398.69 747.01 401.61 747.19 404.53 747.33C407.46 747.48 410.38 747.61 413.3 747.72C416.36 747.84 419.42 747.94 422.48 748.02C425.53 748.11 428.59 748.17 431.65 748.24C434.71 748.3 437.77 748.35 440.82 748.4C443.88 748.44 446.94 748.6 450 748.6L944 748.6" fill="none" stroke="#00bfff" stroke-width="4.3" stroke-linejoin="round" stroke-linecap="butt"/>
<line x1="187.5" x2="944" y1="832" y2="832" stroke="#808080" stroke-opacity="0.7" stroke-width="3.1"/>
<path d="M240 832L240 832C243.58 832 247.17 831.86 250.75 831.79C254.33 831.71 257.92 831.61 261.5 831.46C264.25 831.34 267 831.2 269.75 830.98C272.5 830.76 275.25 830.44 278 830.04C281.33 829.56 284.67 828.92 288 828.19C291.33 827.45 294.67 826.62 298 825.67C301.28 824.74 304.57 823.71 307.85 822.63C311.13 821.55 314.42 820.42 317.7 819.29C321 818.16 324.3 817.03 327.6 815.88C330.9 814.73 334.2 813.54 337.5 812.32C340.62 811.17 343.75 810 346.88 808.83C350 807.65 353.12 806.48 356.25 805.32C359.38 804.15 362.5 802.99 365.62 801.84C368.75 800.69 371.88 799.55 375 798.42C378.18 797.28 381.37 796.15 384.55 795.04C387.73 793.93 390.92 792.84 394.1 791.77C397.28 790.7 400.47 789.64 403.65 788.61C406.83 787.57 410.02 786.55 413.2 785.54C416.31 784.56 419.42 783.6 422.52 782.65C425.63 781.7 428.74 780.79 431.85 779.86C434.96 778.94 438.07 777.99 441.18 777.09C444.28 776.18 447.39 775.29 450.5 774.43C453.13 773.7 455.77 772.96 458.4 772.3C461.03 771.64 463.67 771.07 466.3 770.53C470.08 769.76 473.87 769.08 477.65 768.5C481.43 767.92 485.22 767.42 489 766.98C492.23 766.6 495.45 766.26 498.68 765.96C501.9 765.65 505.12 765.4 508.35 765.14C511.58 764.89 514.8 764.63 518.03 764.42C521.25 764.21 524.48 764.02 527.7 763.86C530.98 763.7 534.25 763.56 537.53 763.45C540.8 763.33 544.08 763.25 547.35 763.18C550.62 763.1 553.9 763.05 557.17 763.02C560.45 762.99 563.73 762.99 567 763.02C570.74 763.05 574.49 763.12 578.23 763.23C581.98 763.33 585.72 763.49 589.47 763.69C593.21 763.89 596.96 764.11 600.7 764.37C604.06 764.6 607.42 764.86 610.78 765.13C614.13 765.41 617.49 765.73 620.85 766.03C624.21 766.34 627.57 766.63 630.92 766.96C634.28 767.3 637.64 767.66 641 768.05C644.32 768.44 647.63 768.83 650.95 769.29C654.27 769.75 657.58 770.25 660.9 770.73C664.61 771.27 668.33 771.81 672.04 772.35C675.75 772.9 679.47 773.44 683.18 773.98C686.89 774.52 690.61 775.06 694.32 775.6C698.03 776.13 701.75 776.67 705.46 777.21C709.17 777.74 712.89 778.28 716.6 778.81C720.22 779.33 723.84 779.85 727.46 780.36C731.08 780.88 734.7 781.39 738.31 781.9C741.93 782.41 745.55 782.92 749.17 783.42C752.79 783.93 756.41 784.43 760.03 784.93C763.65 785.43 767.27 785.92 770.89 786.42C774.5 786.91 778.12 787.4 781.74 787.88C785.36 788.36 788.98 788.84 792.6 789.31C796.2 789.78 799.81 790.25 803.41 790.71C807.02 791.16 810.62 791.62 814.23 792.06C817.83 792.51 821.44 792.95 825.04 793.38C828.65 793.81 832.25 794.24 835.86 794.65C839.46 795.07 843.07 795.47 846.67 795.87C850.28 796.26 853.88 796.65 857.49 797.03C861.09 797.4 864.7 797.77 868.3 798.12C871.9 798.47 875.51 798.81 879.11 799.14C882.72 799.46 886.32 799.78 889.93 800.07C893.53 800.37 897.14 800.65 900.74 800.91C904.35 801.18 907.95 801.43 911.56 801.65C915.16 801.88 918.77 802.09 922.37 802.29C925.98 802.48 929.58 802.66 933.19 802.81C936.79 802.97 940.4 803.12 944 803.24L944 832 Z" fill="#00bfff" fill-opacity="0.2" stroke="#00bfff" stroke-opacity="0.2" stroke-width="2.1"/>
<line x1="466.3" x2="466.3" y1="832.6" y2="770.53" stroke="#00bfff" stroke-opacity="0.7" stroke-width="3.4" stroke-dasharray="12.6 5.9"/>
<line x1="660.9" x2="660.9" y1="832" y2="770.73" stroke="#00bfff" stroke-opacity="0.7" stroke-width="3.4" stroke-linecap="square"/>
<path d="M187.5 832L240 832C243.58 832 247.17 831.86 250.75 831.79C254.33 831.71 257.92 831.61 261.5 831.46C264.25 831.34 267 831.2 269.75 830.98C272.5 830.76 275.25 830.44 278 830.04C281.33 829.56 284.67 828.92 288 828.19C291.33 827.45 294.67 826.62 298 825.67C301.28 824.74 304.57 823.71 307.85 822.63C311.13 821.55 314.42 820.42 317.7 819.29C321 818.16 324.3 817.03 327.6 815.88C330.9 814.73 334.2 813.54 337.5 812.32C340.62 811.17 343.75 810 346.88 808.83C350 807.65 353.12 806.48 356.25 805.32C359.38 804.15 362.5 802.99 365.62 801.84C368.75 800.69 371.88 799.55 375 798.42C378.18 797.28 381.37 796.15 384.55 795.04C387.73 793.93 390.92 792.84 394.1 791.77C397.28 790.7 400.47 789.64 403.65 788.61C406.83 787.57 410.02 786.55 413.2 785.54C416.31 784.56 419.42 783.6 422.52 782.65C425.63 781.7 428.74 780.79 431.85 779.86C434.96 778.94 438.07 777.99 441.18 777.09C444.28 776.18 447.39 775.29 450.5 774.43C453.13 773.7 455.77 772.96 458.4 772.3C461.03 771.64 463.67 771.07 466.3 770.53C470.08 769.76 473.87 769.08 477.65 768.5C481.43 767.92 485.22 767.42 489 766.98C492.23 766.6 495.45 766.26 498.68 765.96C501.9 765.65 505.12 765.4 508.35 765.14C511.58 764.89 514.8 764.63 518.03 764.42C521.25 764.21 524.48 764.02 527.7 763.86C530.98 763.7 534.25 763.56 537.53 763.45C540.8 763.33 544.08 763.25 547.35 763.18C550.62 763.1 553.9 763.05 557.17 763.02C560.45 762.99 563.73 762.99 567 763.02C570.74 763.05 574.49 763.12 578.23 763.23C581.98 763.33 585.72 763.49 589.47 763.69C593.21 763.89 596.96 764.11 600.7 764.37C604.06 764.6 607.42 764.86 610.78 765.13C614.13 765.41 617.49 765.73 620.85 766.03C624.21 766.34 627.57 766.63 630.92 766.96C634.28 767.3 637.64 767.66 641 768.05C644.32 768.44 647.63 768.83 650.95 769.29C654.27 769.75 657.58 770.25 660.9 770.73C664.61 771.27 668.33 771.81 672.04 772.35C675.75 772.9 679.47 773.44 683.18 773.98C686.89 774.52 690.61 775.06 694.32 775.6C698.03 776.13 701.75 776.67 705.46 777.21C709.17 777.74 712.89 778.28 716.6 778.81C720.22 779.33 723.84 779.85 727.46 780.36C731.08 780.88 734.7 781.39 738.31 781.9C741.93 782.41 745.55 782.92 749.17 783.42C752.79 783.93 756.41 784.43 760.03 784.93C763.65 785.43 767.27 785.92 770.89 786.42C774.5 786.91 778.12 787.4 781.74 787.88C785.36 788.36 788.98 788.84 792.6 789.31C796.2 789.78 799.81 790.25 803.41 790.71C807.02 791.16 810.62 791.62 814.23 792.06C817.83 792.51 821.44 792.95 825.04 793.38C828.65 793.81 832.25 794.24 835.86 794.65C839.46 795.07 843.07 795.47 846.67 795.87C850.28 796.26 853.88 796.65 857.49 797.03C861.09 797.4 864.7 797.77 868.3 798.12C871.9 798.47 875.51 798.81 879.11 799.14C882.72 799.46 886.32 799.78 889.93 800.07C893.53 800.37 897.14 800.65 900.74 800.91C904.35 801.18 907.95 801.43 911.56 801.65C915.16 801.88 918.77 802.09 922.37 802.29C925.98 802.48 929.58 802.66 933.19 802.81C936.79 802.97 940.4 803.12 944 803.24" fill="none" stroke="#00bfff" stroke-width="4.3" stroke-linejoin="round" stroke-linecap="butt"/>
<line x1="187.5" x2="944" y1="915" y2="915" stroke="#808080" stroke-opacity="0.7" stroke-width="3.1"/>
<path d="M220 915L220 915C222.67 915 225.33 914.63 228 914.07C230.9 913.46 233.8 912.42 236.7 911.3C239.47 910.23 242.23 909.1 245 907.93C247.78 906.75 250.57 905.5 253.35 904.21C256.13 902.92 258.92 901.6 261.7 900.2C264.47 898.81 267.23 897.35 270 895.84C272.77 894.34 275.53 892.8 278.3 891.27C281.08 889.73 283.87 888.19 286.65 886.68C289.43 885.16 292.22 883.66 295 882.19C297.22 881.03 299.43 879.88 301.65 878.74C303.87 877.61 306.08 876.49 308.3 875.37C310.53 874.25 312.77 873.13 315 872.02C317.23 870.92 319.47 869.83 321.7 868.78C324.2 867.59 326.7 866.45 329.2 865.36C331.7 864.26 334.2 863.22 336.7 862.23C339.72 861.03 342.73 859.91 345.75 858.84C348.77 857.77 351.78 856.74 354.8 855.79C357.17 855.05 359.53 854.35 361.9 853.72C364.27 853.09 366.63 852.55 369 852.04C372.22 851.35 375.43 850.75 378.65 850.22C381.87 849.68 385.08 849.21 388.3 848.8C391.04 848.44 393.79 848.12 396.53 847.84C399.28 847.56 402.02 847.31 404.77 847.08C407.51 846.84 410.26 846.65 413 846.49C416.27 846.3 419.53 846.15 422.8 846.07C426.07 845.99 429.33 845.99 432.6 846.01C436.12 846.04 439.64 846.11 443.17 846.23C446.69 846.34 450.21 846.48 453.73 846.63C457.26 846.79 460.78 846.98 464.3 847.22C467.04 847.4 469.79 847.6 472.53 847.83C475.28 848.06 478.02 848.33 480.77 848.63C483.51 848.92 486.26 849.23 489 849.56C492.23 849.95 495.45 850.35 498.68 850.76C501.9 851.17 505.12 851.6 508.35 852.01C511.58 852.43 514.8 852.85 518.03 853.27C521.25 853.7 524.48 854.12 527.7 854.54C531.51 855.04 535.32 855.53 539.13 856.01C542.94 856.49 546.76 856.96 550.57 857.43C554.38 857.89 558.19 858.35 562 858.79C565.5 859.2 569 859.6 572.5 859.99C576 860.39 579.5 860.79 583 861.21C586.87 861.67 590.73 862.14 594.6 862.62C598.47 863.1 602.33 863.58 606.2 864.07C610.07 864.56 613.93 865.06 617.8 865.55C621.67 866.04 625.53 866.54 629.4 867.03C633.27 867.53 637.13 868.03 641 868.53C644.6 869 648.2 869.47 651.8 869.94C655.4 870.4 659 870.87 662.6 871.33C666.2 871.79 669.8 872.25 673.4 872.71C677 873.16 680.6 873.61 684.2 874.06C687.8 874.51 691.4 874.95 695 875.39C698.6 875.82 702.2 876.25 705.8 876.68C709.4 877.1 713 877.52 716.6 877.93C720.22 878.34 723.84 878.74 727.46 879.13C731.08 879.53 734.7 879.91 738.31 880.29C741.93 880.67 745.55 881.04 749.17 881.4C752.79 881.77 756.41 882.12 760.03 882.47C763.65 882.82 767.27 883.16 770.89 883.5C774.5 883.83 778.12 884.16 781.74 884.49C785.36 884.81 788.98 885.13 792.6 885.44C796.2 885.75 799.81 886.05 803.41 886.35C807.02 886.65 810.62 886.94 814.23 887.23C817.83 887.52 821.44 887.8 825.04 888.07C828.65 888.35 832.25 888.62 835.86 888.88C839.46 889.14 843.07 889.4 846.67 889.65C850.28 889.9 853.88 890.14 857.49 890.37C861.09 890.61 864.7 890.83 868.3 891.05C871.9 891.27 875.51 891.48 879.11 891.68C882.72 891.88 886.32 892.08 889.93 892.26C893.53 892.44 897.14 892.61 900.74 892.77C904.35 892.94 907.95 893.09 911.56 893.23C915.16 893.37 918.77 893.49 922.37 893.61C925.98 893.73 929.58 893.83 933.19 893.93C936.79 894.03 940.4 894.11 944 894.19L944 915 Z" fill="#ffa500" fill-opacity="0.2" stroke="#ffa500" stroke-opacity="0.2" stroke-width="2.1"/>
<line x1="388.3" x2="388.3" y1="915.6" y2="848.8" stroke="#ffa500" stroke-opacity="0.7" stroke-width="3.4" stroke-dasharray="12.6 5.9"/>
<line x1="583.2" x2="583.2" y1="915" y2="861.23" stroke="#ffa500" stroke-opacity="0.7" stroke-width="3.4" stroke-linecap="square"/>
<path d="M220 915C222.67 915 225.33 914.63 228 914.07C230.9 913.46 233.8 912.42 236.7 911.3C239.47 910.23 242.23 909.1 245 907.93C247.78 906.75 250.57 905.5 253.35 904.21C256.13 902.92 258.92 901.6 261.7 900.2C264.47 898.81 267.23 897.35 270 895.84C272.77 894.34 275.53 892.8 278.3 891.27C281.08 889.73 283.87 888.19 286.65 886.68C289.43 885.16 292.22 883.66 295 882.19C297.22 881.03 299.43 879.88 301.65 878.74C303.87 877.61 306.08 876.49 308.3 875.37C310.53 874.25 312.77 873.13 315 872.02C317.23 870.92 319.47 869.83 321.7 868.78C324.2 867.59 326.7 866.45 329.2 865.36C331.7 864.26 334.2 863.22 336.7 862.23C339.72 861.03 342.73 859.91 345.75 858.84C348.77 857.77 351.78 856.74 354.8 855.79C357.17 855.05 359.53 854.35 361.9 853.72C364.27 853.09 366.63 852.55 369 852.04C372.22 851.35 375.43 850.75 378.65 850.22C381.87 849.68 385.08 849.21 388.3 848.8C391.04 848.44 393.79 848.12 396.53 847.84C399.28 847.56 402.02 847.31 404.77 847.08C407.51 846.84 410.26 846.65 413 846.49C416.27 846.3 419.53 846.15 422.8 846.07C426.07 845.99 429.33 845.99 432.6 846.01C436.12 846.04 439.64 846.11 443.17 846.23C446.69 846.34 450.21 846.48 453.73 846.63C457.26 846.79 460.78 846.98 464.3 847.22C467.04 847.4 469.79 847.6 472.53 847.83C475.28 848.06 478.02 848.33 480.77 848.63C483.51 848.92 486.26 849.23 489 849.56C492.23 849.95 495.45 850.35 498.68 850.76C501.9 851.17 505.12 851.6 508.35 852.01C511.58 852.43 514.8 852.85 518.03 853.27C521.25 853.7 524.48 854.12 527.7 854.54C531.51 855.04 535.32 855.53 539.13 856.01C542.94 856.49 546.76 856.96 550.57 857.43C554.38 857.89 558.19 858.35 562 858.79C565.5 859.2 569 859.6 572.5 859.99C576 860.39 579.5 860.79 583 861.21C586.87 861.67 590.73 862.14 594.6 862.62C598.47 863.1 602.33 863.58 606.2 864.07C610.07 864.56 613.93 865.06 617.8 865.55C621.67 866.04 625.53 866.54 629.4 867.03C633.27 867.53 637.13 868.03 641 868.53C644.6 869 648.2 869.47 651.8 869.94C655.4 870.4 659 870.87 662.6 871.33C666.2 871.79 669.8 872.25 673.4 872.71C677 873.16 680.6 873.61 684.2 874.06C687.8 874.51 691.4 874.95 695 875.39C698.6 875.82 702.2 876.25 705.8 876.68C709.4 877.1 713 877.52 716.6 877.93C720.22 878.34 723.84 878.74 727.46 879.13C731.08 879.53 734.7 879.91 738.31 880.29C741.93 880.67 745.55 881.04 749.17 881.4C752.79 881.77 756.41 882.12 760.03 882.47C763.65 882.82 767.27 883.16 770.89 883.5C774.5 883.83 778.12 884.16 781.74 884.49C785.36 884.81 788.98 885.13 792.6 885.44C796.2 885.75 799.81 886.05 803.41 886.35C807.02 886.65 810.62 886.94 814.23 887.23C817.83 887.52 821.44 887.8 825.04 888.07C828.65 888.35 832.25 888.62 835.86 888.88C839.46 889.14 843.07 889.4 846.67 889.65C850.28 889.9 853.88 890.14 857.49 890.37C861.09 890.61 864.7 890.83 868.3 891.05C871.9 891.27 875.51 891.48 879.11 891.68C882.72 891.88 886.32 892.08 889.93 892.26C893.53 892.44 897.14 892.61 900.74 892.77C904.35 892.94 907.95 893.09 911.56 893.23C915.16 893.37 918.77 893.49 922.37 893.61C925.98 893.73 929.58 893.83 933.19 893.93C936.79 894.03 940.4 894.11 944 894.19" fill="none" stroke="#ffa500" stroke-width="4.3" stroke-linejoin="round" stroke-linecap="butt"/>
<path d="M218 915L218 915C219.67 915 221.33 914.88 223 914.7C224.77 914.51 226.53 914.16 228.3 913.57C231.1 912.62 233.9 911.18 236.7 909.23C239.47 907.31 242.23 904.79 245 901.84C247.77 898.89 250.53 895.53 253.3 892.18C256.1 888.8 258.9 885.42 261.7 882.18C264.47 878.98 267.23 875.91 270 873.12C272.77 870.33 275.53 867.81 278.3 865.44C281.1 863.04 283.9 860.82 286.7 858.92C289.47 857.05 292.23 855.51 295 854.12C297.77 852.73 300.53 851.5 303.3 850.47C306.1 849.43 308.9 848.61 311.7 847.95C315.03 847.18 318.37 846.62 321.7 846.22C325.03 845.83 328.37 845.6 331.7 845.6C335.03 845.6 338.37 845.84 341.7 846.2C345.6 846.62 349.5 847.21 353.4 847.9C356 848.36 358.6 848.85 361.2 849.41C363.8 849.98 366.4 850.62 369 851.31C372.81 852.31 376.62 853.4 380.43 854.52C384.24 855.63 388.06 856.74 391.87 857.84C395.68 858.94 399.49 860.06 403.3 861.15C406.73 862.14 410.17 863.11 413.6 864.07C417.03 865.03 420.47 865.97 423.9 866.89C427.33 867.82 430.77 868.73 434.2 869.62C437.63 870.5 441.07 871.37 444.5 872.22C448.21 873.14 451.92 874.03 455.62 874.9C459.33 875.77 463.04 876.61 466.75 877.43C470.46 878.26 474.17 879.07 477.88 879.86C481.58 880.64 485.29 881.4 489 882.13C492.23 882.77 495.45 883.39 498.68 884C501.9 884.6 505.12 885.19 508.35 885.76C511.58 886.33 514.8 886.89 518.03 887.44C521.25 887.98 524.48 888.52 527.7 889.05C530.81 889.56 533.92 890.06 537.03 890.56C540.13 891.06 543.24 891.55 546.35 892.04C549.46 892.53 552.57 893.01 555.67 893.5C558.78 893.98 561.89 894.46 565 894.94C568.58 895.48 572.17 896.03 575.75 896.57C579.33 897.11 582.92 897.64 586.5 898.16C590.08 898.69 593.67 899.21 597.25 899.72C600.83 900.23 604.42 900.73 608 901.21C611.67 901.7 615.33 902.17 619 902.62C622.67 903.07 626.33 903.48 630 903.82C633.67 904.17 637.33 904.49 641 904.78C644.6 905.07 648.2 905.33 651.8 905.58C655.4 905.83 659 906.06 662.6 906.27C666.2 906.49 669.8 906.69 673.4 906.88C677 907.07 680.6 907.27 684.2 907.48C687.8 907.68 691.4 907.87 695 908.05C698.6 908.23 702.2 908.4 705.8 908.56C709.4 908.72 713 908.87 716.6 909.01C720.22 909.16 723.84 909.29 727.46 909.42C731.08 909.55 734.7 909.67 738.31 909.79C741.93 909.91 745.55 910.02 749.17 910.12C752.79 910.23 756.41 910.33 760.03 910.43C763.65 910.53 767.27 910.62 770.89 910.71C774.5 910.8 778.12 910.89 781.74 910.98C785.36 911.06 788.98 911.14 792.6 911.22C796.2 911.3 799.81 911.38 803.41 911.45C807.02 911.52 810.62 911.59 814.23 911.66C817.83 911.73 821.44 911.8 825.04 911.86C828.65 911.92 832.25 911.98 835.86 912.04C839.46 912.1 843.07 912.15 846.67 912.2C850.28 912.25 853.88 912.3 857.49 912.35C861.09 912.39 864.7 912.43 868.3 912.47C871.9 912.51 875.51 912.55 879.11 912.58C882.72 912.62 886.32 912.65 889.93 912.67C893.53 912.7 897.14 912.73 900.74 912.75C904.35 912.77 907.95 912.79 911.56 912.81C915.16 912.83 918.77 912.84 922.37 912.86C925.98 912.87 929.58 912.88 933.19 912.9C936.79 912.91 940.4 912.91 944 912.92L944 915 Z" fill="#00bfff" fill-opacity="0.2" stroke="#00bfff" stroke-opacity="0.2" stroke-width="2.1"/>
<line x1="220" x2="944" y1="915" y2="915" stroke="#3f818f" stroke-opacity="0.45" stroke-width="3.1"/>
<line x1="307" x2="307" y1="915.6" y2="849.21" stroke="#00bfff" stroke-opacity="0.7" stroke-width="3.4" stroke-dasharray="12.6 5.9"/>
<line x1="403.3" x2="403.3" y1="915" y2="861.15" stroke="#00bfff" stroke-opacity="0.7" stroke-width="3.4" stroke-linecap="square"/>
<line x1="608" x2="608" y1="915.6" y2="901.21" stroke="#00bfff" stroke-opacity="0.7" stroke-width="3.4" stroke-dasharray="12.6 5.9"/>
<path d="M187.5 915L218 915C219.67 915 221.33 914.88 223 914.7C224.77 914.51 226.53 914.16 228.3 913.57C231.1 912.62 233.9 911.18 236.7 909.23C239.47 907.31 242.23 904.79 245 901.84C247.77 898.89 250.53 895.53 253.3 892.18C256.1 888.8 258.9 885.42 261.7 882.18C264.47 878.98 267.23 875.91 270 873.12C272.77 870.33 275.53 867.81 278.3 865.44C281.1 863.04 283.9 860.82 286.7 858.92C289.47 857.05 292.23 855.51 295 854.12C297.77 852.73 300.53 851.5 303.3 850.47C306.1 849.43 308.9 848.61 311.7 847.95C315.03 847.18 318.37 846.62 321.7 846.22C325.03 845.83 328.37 845.6 331.7 845.6C335.03 845.6 338.37 845.84 341.7 846.2C345.6 846.62 349.5 847.21 353.4 847.9C356 848.36 358.6 848.85 361.2 849.41C363.8 849.98 366.4 850.62 369 851.31C372.81 852.31 376.62 853.4 380.43 854.52C384.24 855.63 388.06 856.74 391.87 857.84C395.68 858.94 399.49 860.06 403.3 861.15C406.73 862.14 410.17 863.11 413.6 864.07C417.03 865.03 420.47 865.97 423.9 866.89C427.33 867.82 430.77 868.73 434.2 869.62C437.63 870.5 441.07 871.37 444.5 872.22C448.21 873.14 451.92 874.03 455.62 874.9C459.33 875.77 463.04 876.61 466.75 877.43C470.46 878.26 474.17 879.07 477.88 879.86C481.58 880.64 485.29 881.4 489 882.13C492.23 882.77 495.45 883.39 498.68 884C501.9 884.6 505.12 885.19 508.35 885.76C511.58 886.33 514.8 886.89 518.03 887.44C521.25 887.98 524.48 888.52 527.7 889.05C530.81 889.56 533.92 890.06 537.03 890.56C540.13 891.06 543.24 891.55 546.35 892.04C549.46 892.53 552.57 893.01 555.67 893.5C558.78 893.98 561.89 894.46 565 894.94C568.58 895.48 572.17 896.03 575.75 896.57C579.33 897.11 582.92 897.64 586.5 898.16C590.08 898.69 593.67 899.21 597.25 899.72C600.83 900.23 604.42 900.73 608 901.21C611.67 901.7 615.33 902.17 619 902.62C622.67 903.07 626.33 903.48 630 903.82C633.67 904.17 637.33 904.49 641 904.78C644.6 905.07 648.2 905.33 651.8 905.58C655.4 905.83 659 906.06 662.6 906.27C666.2 906.49 669.8 906.69 673.4 906.88C677 907.07 680.6 907.27 684.2 907.48C687.8 907.68 691.4 907.87 695 908.05C698.6 908.23 702.2 908.4 705.8 908.56C709.4 908.72 713 908.87 716.6 909.01C720.22 909.16 723.84 909.29 727.46 909.42C731.08 909.55 734.7 909.67 738.31 909.79C741.93 909.91 745.55 910.02 749.17 910.12C752.79 910.23 756.41 910.33 760.03 910.43C763.65 910.53 767.27 910.62 770.89 910.71C774.5 910.8 778.12 910.89 781.74 910.98C785.36 911.06 788.98 911.14 792.6 911.22C796.2 911.3 799.81 911.38 803.41 911.45C807.02 911.52 810.62 911.59 814.23 911.66C817.83 911.73 821.44 911.8 825.04 911.86C828.65 911.92 832.25 911.98 835.86 912.04C839.46 912.1 843.07 912.15 846.67 912.2C850.28 912.25 853.88 912.3 857.49 912.35C861.09 912.39 864.7 912.43 868.3 912.47C871.9 912.51 875.51 912.55 879.11 912.58C882.72 912.62 886.32 912.65 889.93 912.67C893.53 912.7 897.14 912.73 900.74 912.75C904.35 912.77 907.95 912.79 911.56 912.81C915.16 912.83 918.77 912.84 922.37 912.86C925.98 912.87 929.58 912.88 933.19 912.9C936.79 912.91 940.4 912.91 944 912.92" fill="none" stroke="#00bfff" stroke-width="4.3" stroke-linejoin="round" stroke-linecap="butt"/>
<line x1="187.5" x2="944" y1="998.4" y2="998.4" stroke="#808080" stroke-opacity="0.7" stroke-width="3.1"/>
<path d="M211 998.4L211 998.4C212.33 998.4 213.67 998.15 215 997.8C217.08 997.26 219.17 996.3 221.25 995.01C223.33 993.72 225.42 992.05 227.5 989.96C229.58 987.86 231.67 985.34 233.75 982.4C235.83 979.47 237.92 976.11 240 972.64C242.08 969.17 244.17 965.58 246.25 961.9C248.33 958.22 250.42 954.44 252.5 950.84C254.17 947.96 255.83 945.21 257.5 942.79C259.17 940.37 260.83 938.26 262.5 936.6C264.17 934.94 265.83 933.7 267.5 932.65C269.17 931.61 270.83 930.79 272.5 930.24C274.37 929.62 276.23 929.3 278.1 929.3C279.98 929.3 281.87 929.64 283.75 930.18C285.83 930.78 287.92 931.63 290 932.68C292.08 933.72 294.17 934.96 296.25 936.32C298.33 937.69 300.42 939.17 302.5 940.74C304.58 942.32 306.67 944 308.75 945.68C310.83 947.36 312.92 949.03 315 950.67C316.63 951.96 318.27 953.22 319.9 954.55C322.27 956.48 324.63 958.46 327 960.26C330.43 962.88 333.87 965.19 337.3 967.35C340.25 969.2 343.2 970.92 346.15 972.54C349.1 974.17 352.05 975.72 355 977.12C358.25 978.67 361.5 980.05 364.75 981.32C368 982.59 371.25 983.74 374.5 984.77C377.83 985.83 381.17 986.76 384.5 987.6C387.83 988.44 391.17 989.18 394.5 989.82C397.58 990.41 400.67 990.91 403.75 991.36C406.83 991.81 409.92 992.22 413 992.59C415.33 992.87 417.67 993.14 420 993.39C422.33 993.63 424.67 993.86 427 994.07C430.83 994.43 434.67 994.75 438.5 995.01C442.33 995.28 446.17 995.49 450 995.67C453.33 995.83 456.67 995.97 460 996.1C463.33 996.23 466.67 996.34 470 996.45C473.33 996.55 476.67 996.67 480 996.78C483.33 996.89 486.67 996.99 490 997.09C493.33 997.18 496.67 997.26 500 997.34C503.33 997.42 506.67 997.49 510 997.56C513.33 997.63 516.67 997.69 520 997.75C523.33 997.81 526.67 997.86 530 997.91C533.33 997.96 536.67 998.01 540 998.05C543.33 998.09 546.67 998.13 550 998.16C553.33 998.19 556.67 998.22 560 998.24C563.33 998.27 566.67 998.29 570 998.31C573.33 998.32 576.67 998.4 580 998.4L580 998.4 Z" fill="#ffa500" fill-opacity="0.2" stroke="#ffa500" stroke-opacity="0.2" stroke-width="2.1"/>
<line x1="260.75" x2="260.75" y1="999" y2="938.5" stroke="#ffa500" stroke-opacity="0.7" stroke-width="3.4" stroke-dasharray="12.6 5.9"/>
<line x1="296.5" x2="296.5" y1="998.4" y2="936.49" stroke="#ffa500" stroke-opacity="0.7" stroke-width="3.4" stroke-linecap="square"/>
<line x1="355" x2="355" y1="999" y2="977.12" stroke="#ffa500" stroke-opacity="0.7" stroke-width="3.4" stroke-dasharray="12.6 5.9"/>
<path d="M211 998.4C212.33 998.4 213.67 998.15 215 997.8C217.08 997.26 219.17 996.3 221.25 995.01C223.33 993.72 225.42 992.05 227.5 989.96C229.58 987.86 231.67 985.34 233.75 982.4C235.83 979.47 237.92 976.11 240 972.64C242.08 969.17 244.17 965.58 246.25 961.9C248.33 958.22 250.42 954.44 252.5 950.84C254.17 947.96 255.83 945.21 257.5 942.79C259.17 940.37 260.83 938.26 262.5 936.6C264.17 934.94 265.83 933.7 267.5 932.65C269.17 931.61 270.83 930.79 272.5 930.24C274.37 929.62 276.23 929.3 278.1 929.3C279.98 929.3 281.87 929.64 283.75 930.18C285.83 930.78 287.92 931.63 290 932.68C292.08 933.72 294.17 934.96 296.25 936.32C298.33 937.69 300.42 939.17 302.5 940.74C304.58 942.32 306.67 944 308.75 945.68C310.83 947.36 312.92 949.03 315 950.67C316.63 951.96 318.27 953.22 319.9 954.55C322.27 956.48 324.63 958.46 327 960.26C330.43 962.88 333.87 965.19 337.3 967.35C340.25 969.2 343.2 970.92 346.15 972.54C349.1 974.17 352.05 975.72 355 977.12C358.25 978.67 361.5 980.05 364.75 981.32C368 982.59 371.25 983.74 374.5 984.77C377.83 985.83 381.17 986.76 384.5 987.6C387.83 988.44 391.17 989.18 394.5 989.82C397.58 990.41 400.67 990.91 403.75 991.36C406.83 991.81 409.92 992.22 413 992.59C415.33 992.87 417.67 993.14 420 993.39C422.33 993.63 424.67 993.86 427 994.07C430.83 994.43 434.67 994.75 438.5 995.01C442.33 995.28 446.17 995.49 450 995.67C453.33 995.83 456.67 995.97 460 996.1C463.33 996.23 466.67 996.34 470 996.45C473.33 996.55 476.67 996.67 480 996.78C483.33 996.89 486.67 996.99 490 997.09C493.33 997.18 496.67 997.26 500 997.34C503.33 997.42 506.67 997.49 510 997.56C513.33 997.63 516.67 997.69 520 997.75C523.33 997.81 526.67 997.86 530 997.91C533.33 997.96 536.67 998.01 540 998.05C543.33 998.09 546.67 998.13 550 998.16C553.33 998.19 556.67 998.22 560 998.24C563.33 998.27 566.67 998.29 570 998.31C573.33 998.32 576.67 998.4 580 998.4" fill="none" stroke="#ffa500" stroke-width="4.3" stroke-linejoin="round" stroke-linecap="butt"/>
<path d="M209 998.4L209 998.4C210.17 998.4 211.33 998.17 212.5 997.8C214.17 997.27 215.83 996.37 217.5 994.48C218.75 993.07 220 990.85 221.25 987.79C222.5 984.73 223.75 980.91 225 976.59C226.25 972.26 227.5 967.38 228.75 962.52C230 957.66 231.25 952.75 232.5 948.41C233.75 944.07 235 940.26 236.25 937.31C237.5 934.36 238.75 932.33 240 931.13C241.47 929.72 242.93 929.23 244.4 929.31C245.85 929.4 247.3 930.11 248.75 931.54C250 932.77 251.25 934.64 252.5 936.87C253.75 939.1 255 941.67 256.25 944.41C257.5 947.15 258.75 950.1 260 952.94C261.25 955.77 262.5 958.53 263.75 961.26C265 964 266.25 966.72 267.5 969.11C269.17 972.28 270.83 975 272.5 977.4C274.17 979.81 275.83 981.88 277.5 983.66C279.17 985.43 280.83 986.9 282.5 988.16C284.17 989.42 285.83 990.43 287.5 991.3C290 992.6 292.5 993.62 295 994.45C297.5 995.29 300 995.89 302.5 996.36C305.83 996.98 309.17 997.39 312.5 997.68C314.58 997.86 316.67 997.99 318.75 998.09C320.83 998.2 322.92 998.4 325 998.4L325 998.4 Z" fill="#00bfff" fill-opacity="0.2" stroke="#00bfff" stroke-opacity="0.2" stroke-width="2.1"/>
<line x1="211" x2="325" y1="998.4" y2="998.4" stroke="#3f818f" stroke-opacity="0.45" stroke-width="3.1"/>
<line x1="234.75" x2="234.75" y1="999" y2="941.24" stroke="#00bfff" stroke-opacity="0.7" stroke-width="3.4" stroke-dasharray="12.6 5.9"/>
<line x1="248.5" x2="248.5" y1="998.4" y2="931.29" stroke="#00bfff" stroke-opacity="0.7" stroke-width="3.4" stroke-linecap="square"/>
<line x1="268.75" x2="268.75" y1="999" y2="971.39" stroke="#00bfff" stroke-opacity="0.7" stroke-width="3.4" stroke-dasharray="12.6 5.9"/>
<path d="M187.5 998.4L209 998.4C210.17 998.4 211.33 998.17 212.5 997.8C214.17 997.27 215.83 996.37 217.5 994.48C218.75 993.07 220 990.85 221.25 987.79C222.5 984.73 223.75 980.91 225 976.59C226.25 972.26 227.5 967.38 228.75 962.52C230 957.66 231.25 952.75 232.5 948.41C233.75 944.07 235 940.26 236.25 937.31C237.5 934.36 238.75 932.33 240 931.13C241.47 929.72 242.93 929.23 244.4 929.31C245.85 929.4 247.3 930.11 248.75 931.54C250 932.77 251.25 934.64 252.5 936.87C253.75 939.1 255 941.67 256.25 944.41C257.5 947.15 258.75 950.1 260 952.94C261.25 955.77 262.5 958.53 263.75 961.26C265 964 266.25 966.72 267.5 969.11C269.17 972.28 270.83 975 272.5 977.4C274.17 979.81 275.83 981.88 277.5 983.66C279.17 985.43 280.83 986.9 282.5 988.16C284.17 989.42 285.83 990.43 287.5 991.3C290 992.6 292.5 993.62 295 994.45C297.5 995.29 300 995.89 302.5 996.36C305.83 996.98 309.17 997.39 312.5 997.68C314.58 997.86 316.67 997.99 318.75 998.09C320.83 998.2 322.92 998.4 325 998.4L642 998.4" fill="none" stroke="#00bfff" stroke-width="4.3" stroke-linejoin="round" stroke-linecap="butt"/>
<line x1="187.5" x2="944" y1="1081.2" y2="1081.2" stroke="#808080" stroke-opacity="0.7" stroke-width="3.1"/>
<path d="M238 1081.2L238 1081.2C238.77 1081.2 239.53 1081.14 240.3 1081.05C243.1 1080.73 245.9 1079.94 248.7 1078.31C250.9 1077.02 253.1 1074.92 255.3 1071.62C257.3 1068.61 259.3 1064.67 261.3 1059.4C263.2 1054.4 265.1 1048.14 267 1042C268.67 1036.61 270.33 1031.36 272 1026.87C273.67 1022.38 275.33 1018.78 277 1016.54C279.23 1013.54 281.47 1012.51 283.7 1012.51C287.03 1012.5 290.37 1014.46 293.7 1016.42C295.92 1017.72 298.13 1019.13 300.35 1020.5C302.57 1021.87 304.78 1023.22 307 1024.51C309.22 1025.79 311.43 1027.02 313.65 1028.16C315.87 1029.3 318.08 1030.38 320.3 1031.45C324.03 1033.26 327.77 1034.98 331.5 1036.64C335.23 1038.31 338.97 1039.92 342.7 1041.43C345.4 1042.52 348.1 1043.56 350.8 1044.56C353.5 1045.55 356.2 1046.5 358.9 1047.4C361.6 1048.3 364.3 1049.15 367 1049.96C369.97 1050.85 372.93 1051.69 375.9 1052.49C378.87 1053.29 381.83 1054.06 384.8 1054.8C387.77 1055.54 390.73 1056.25 393.7 1056.93C396.97 1057.68 400.23 1058.41 403.5 1059.08C406.77 1059.75 410.03 1060.35 413.3 1060.93C417.04 1061.59 420.79 1062.21 424.53 1062.8C428.28 1063.38 432.02 1063.95 435.77 1064.49C439.51 1065.04 443.26 1065.55 447 1066.04C450.81 1066.53 454.62 1067 458.43 1067.44C462.24 1067.89 466.06 1068.31 469.87 1068.72C473.68 1069.13 477.49 1069.51 481.3 1069.87C484.12 1070.14 486.94 1070.4 489.77 1070.64C492.59 1070.89 495.41 1071.12 498.23 1071.35C501.06 1071.58 503.88 1071.81 506.7 1072.03C510.42 1072.32 514.13 1072.61 517.85 1072.89C521.57 1073.18 525.28 1073.44 529 1073.7C533 1073.98 537 1074.24 541 1074.48C545 1074.72 549 1074.94 553 1075.14C557 1075.34 561 1075.52 565 1075.69C568.62 1075.84 572.24 1075.99 575.86 1076.12C579.48 1076.25 583.1 1076.38 586.71 1076.5C590.33 1076.61 593.95 1076.73 597.57 1076.83C601.19 1076.94 604.81 1077.05 608.43 1077.16C612.05 1077.27 615.67 1077.38 619.29 1077.47C622.9 1077.57 626.52 1077.67 630.14 1077.76C633.76 1077.85 637.38 1077.93 641 1078.02C644.62 1078.1 648.24 1078.18 651.86 1078.25C655.48 1078.32 659.1 1078.4 662.71 1078.46C666.33 1078.53 669.95 1078.6 673.57 1078.66C677.19 1078.72 680.81 1078.78 684.43 1078.84C688.05 1078.9 691.67 1078.95 695.29 1079.01C698.9 1079.06 702.52 1079.11 706.14 1079.16C709.76 1079.21 713.38 1079.26 717 1079.3C720.62 1079.35 724.24 1079.39 727.86 1079.44C731.48 1079.48 735.1 1079.52 738.71 1079.56C742.33 1079.6 745.95 1079.63 749.57 1079.67C753.19 1079.71 756.81 1079.74 760.43 1079.77C764.05 1079.8 767.67 1079.83 771.29 1079.86C774.9 1079.88 778.52 1079.91 782.14 1079.94C785.76 1079.96 789.38 1079.99 793 1080.01C796.87 1080.03 800.74 1080.06 804.62 1080.08C808.49 1080.1 812.36 1080.13 816.23 1080.15C820.1 1080.17 823.97 1080.19 827.85 1080.2C831.72 1080.22 835.59 1080.24 839.46 1080.26C843.33 1080.27 847.21 1080.28 851.08 1080.3C854.95 1080.31 858.82 1080.32 862.69 1080.33C866.56 1080.34 870.44 1080.36 874.31 1080.37C878.18 1080.39 882.05 1080.4 885.92 1080.41C889.79 1080.43 893.67 1080.44 897.54 1080.45C901.41 1080.46 905.28 1080.47 909.15 1080.48C913.03 1080.49 916.9 1080.5 920.77 1080.51C924.64 1080.52 928.51 1080.52 932.38 1080.53C936.26 1080.54 940.13 1080.55 944 1080.55L944 1081.2 Z" fill="#00bfff" fill-opacity="0.2" stroke="#00bfff" stroke-opacity="0.2" stroke-width="2.1"/>
<line x1="284.7" x2="284.7" y1="1081.8" y2="1012.57" stroke="#00bfff" stroke-opacity="0.7" stroke-width="3.4" stroke-dasharray="12.6 5.9"/>
<line x1="342.7" x2="342.7" y1="1081.2" y2="1041.43" stroke="#00bfff" stroke-opacity="0.7" stroke-width="3.4" stroke-linecap="square"/>
<line x1="481.3" x2="481.3" y1="1081.8" y2="1069.87" stroke="#00bfff" stroke-opacity="0.7" stroke-width="3.4" stroke-dasharray="12.6 5.9"/>
<path d="M187.5 1081.2L238 1081.2C238.77 1081.2 239.53 1081.14 240.3 1081.05C243.1 1080.73 245.9 1079.94 248.7 1078.31C250.9 1077.02 253.1 1074.92 255.3 1071.62C257.3 1068.61 259.3 1064.67 261.3 1059.4C263.2 1054.4 265.1 1048.14 267 1042C268.67 1036.61 270.33 1031.36 272 1026.87C273.67 1022.38 275.33 1018.78 277 1016.54C279.23 1013.54 281.47 1012.51 283.7 1012.51C287.03 1012.5 290.37 1014.46 293.7 1016.42C295.92 1017.72 298.13 1019.13 300.35 1020.5C302.57 1021.87 304.78 1023.22 307 1024.51C309.22 1025.79 311.43 1027.02 313.65 1028.16C315.87 1029.3 318.08 1030.38 320.3 1031.45C324.03 1033.26 327.77 1034.98 331.5 1036.64C335.23 1038.31 338.97 1039.92 342.7 1041.43C345.4 1042.52 348.1 1043.56 350.8 1044.56C353.5 1045.55 356.2 1046.5 358.9 1047.4C361.6 1048.3 364.3 1049.15 367 1049.96C369.97 1050.85 372.93 1051.69 375.9 1052.49C378.87 1053.29 381.83 1054.06 384.8 1054.8C387.77 1055.54 390.73 1056.25 393.7 1056.93C396.97 1057.68 400.23 1058.41 403.5 1059.08C406.77 1059.75 410.03 1060.35 413.3 1060.93C417.04 1061.59 420.79 1062.21 424.53 1062.8C428.28 1063.38 432.02 1063.95 435.77 1064.49C439.51 1065.04 443.26 1065.55 447 1066.04C450.81 1066.53 454.62 1067 458.43 1067.44C462.24 1067.89 466.06 1068.31 469.87 1068.72C473.68 1069.13 477.49 1069.51 481.3 1069.87C484.12 1070.14 486.94 1070.4 489.77 1070.64C492.59 1070.89 495.41 1071.12 498.23 1071.35C501.06 1071.58 503.88 1071.81 506.7 1072.03C510.42 1072.32 514.13 1072.61 517.85 1072.89C521.57 1073.18 525.28 1073.44 529 1073.7C533 1073.98 537 1074.24 541 1074.48C545 1074.72 549 1074.94 553 1075.14C557 1075.34 561 1075.52 565 1075.69C568.62 1075.84 572.24 1075.99 575.86 1076.12C579.48 1076.25 583.1 1076.38 586.71 1076.5C590.33 1076.61 593.95 1076.73 597.57 1076.83C601.19 1076.94 604.81 1077.05 608.43 1077.16C612.05 1077.27 615.67 1077.38 619.29 1077.47C622.9 1077.57 626.52 1077.67 630.14 1077.76C633.76 1077.85 637.38 1077.93 641 1078.02C644.62 1078.1 648.24 1078.18 651.86 1078.25C655.48 1078.32 659.1 1078.4 662.71 1078.46C666.33 1078.53 669.95 1078.6 673.57 1078.66C677.19 1078.72 680.81 1078.78 684.43 1078.84C688.05 1078.9 691.67 1078.95 695.29 1079.01C698.9 1079.06 702.52 1079.11 706.14 1079.16C709.76 1079.21 713.38 1079.26 717 1079.3C720.62 1079.35 724.24 1079.39 727.86 1079.44C731.48 1079.48 735.1 1079.52 738.71 1079.56C742.33 1079.6 745.95 1079.63 749.57 1079.67C753.19 1079.71 756.81 1079.74 760.43 1079.77C764.05 1079.8 767.67 1079.83 771.29 1079.86C774.9 1079.88 778.52 1079.91 782.14 1079.94C785.76 1079.96 789.38 1079.99 793 1080.01C796.87 1080.03 800.74 1080.06 804.62 1080.08C808.49 1080.1 812.36 1080.13 816.23 1080.15C820.1 1080.17 823.97 1080.19 827.85 1080.2C831.72 1080.22 835.59 1080.24 839.46 1080.26C843.33 1080.27 847.21 1080.28 851.08 1080.3C854.95 1080.31 858.82 1080.32 862.69 1080.33C866.56 1080.34 870.44 1080.36 874.31 1080.37C878.18 1080.39 882.05 1080.4 885.92 1080.41C889.79 1080.43 893.67 1080.44 897.54 1080.45C901.41 1080.46 905.28 1080.47 909.15 1080.48C913.03 1080.49 916.9 1080.5 920.77 1080.51C924.64 1080.52 928.51 1080.52 932.38 1080.53C936.26 1080.54 940.13 1080.55 944 1080.55" fill="none" stroke="#00bfff" stroke-width="4.3" stroke-linejoin="round" stroke-linecap="butt"/>
<line x1="187.5" x2="944" y1="1164.4" y2="1164.4" stroke="#808080" stroke-opacity="0.7" stroke-width="3.1"/>
<path d="M185 1164.4L185 1164.4C186 1164.4 187 1161.84 188 1158.83C189.33 1154.82 190.67 1148.28 192 1141.88C193.67 1133.87 195.33 1125.9 197 1119.7C198.67 1113.51 200.33 1108.99 202 1105.64C203.67 1102.28 205.33 1100.26 207 1099C209.77 1096.92 212.53 1096.25 215.3 1096.12C218.53 1095.97 221.77 1096.77 225 1097.9C227.55 1098.8 230.1 1099.94 232.65 1101.12C235.2 1102.31 237.75 1103.55 240.3 1104.8C243.8 1106.52 247.3 1108.23 250.8 1109.86C254.3 1111.5 257.8 1113.07 261.3 1114.55C264.16 1115.76 267.01 1116.91 269.87 1118.01C272.72 1119.1 275.58 1120.14 278.43 1121.12C281.29 1122.11 284.14 1123.05 287 1123.95C290.02 1124.91 293.05 1125.82 296.07 1126.69C299.1 1127.56 302.12 1128.35 305.15 1129.19C308.18 1130.03 311.2 1130.91 314.23 1131.7C317.25 1132.5 320.28 1133.24 323.3 1133.95C325.63 1134.49 327.97 1135.02 330.3 1135.48C332.63 1135.94 334.97 1136.34 337.3 1136.74C340.33 1137.27 343.37 1137.77 346.4 1138.26C349.43 1138.74 352.47 1139.19 355.5 1139.65C358.53 1140.11 361.57 1140.58 364.6 1141.02C367.63 1141.46 370.67 1141.89 373.7 1142.29C377 1142.73 380.3 1143.16 383.6 1143.56C386.9 1143.96 390.2 1144.35 393.5 1144.71C396.8 1145.08 400.1 1145.42 403.4 1145.75C406.7 1146.08 410 1146.39 413.3 1146.67C416.67 1146.97 420.03 1147.24 423.4 1147.5C426.77 1147.76 430.13 1148 433.5 1148.23C436.87 1148.46 440.23 1148.69 443.6 1148.89C446.97 1149.1 450.33 1149.3 453.7 1149.49C457.62 1149.71 461.54 1149.92 465.47 1150.12C469.39 1150.32 473.31 1150.52 477.23 1150.71C481.16 1150.9 485.08 1151.08 489 1151.25C491.95 1151.38 494.9 1151.51 497.85 1151.63C500.8 1151.75 503.75 1151.87 506.7 1152C510.59 1152.16 514.47 1152.34 518.36 1152.5C522.25 1152.67 526.13 1152.84 530.02 1153C533.91 1153.16 537.79 1153.32 541.68 1153.49C545.57 1153.65 549.45 1153.81 553.34 1153.97C557.23 1154.13 561.11 1154.29 565 1154.44C568.44 1154.57 571.89 1154.7 575.33 1154.83C578.78 1154.95 582.22 1155.07 585.67 1155.18C589.11 1155.29 592.56 1155.4 596 1155.51C599.75 1155.63 603.5 1155.75 607.25 1155.87C611 1155.99 614.75 1156.11 618.5 1156.23C622.25 1156.34 626 1156.46 629.75 1156.57C633.5 1156.68 637.25 1156.8 641 1156.91C644.62 1157.01 648.24 1157.12 651.86 1157.22C655.48 1157.33 659.1 1157.43 662.71 1157.52C666.33 1157.62 669.95 1157.71 673.57 1157.81C677.19 1157.9 680.81 1157.99 684.43 1158.08C688.05 1158.17 691.67 1158.25 695.29 1158.34C698.9 1158.42 702.52 1158.5 706.14 1158.58C709.76 1158.65 713.38 1158.73 717 1158.8C720.62 1158.87 724.24 1158.94 727.86 1159C731.48 1159.07 735.1 1159.13 738.71 1159.19C742.33 1159.25 745.95 1159.31 749.57 1159.36C753.19 1159.42 756.81 1159.47 760.43 1159.52C764.05 1159.57 767.67 1159.63 771.29 1159.68C774.9 1159.73 778.52 1159.77 782.14 1159.82C785.76 1159.87 789.38 1159.92 793 1159.97C796.62 1160.01 800.24 1160.06 803.86 1160.11C807.48 1160.16 811.1 1160.2 814.71 1160.25C818.33 1160.3 821.95 1160.35 825.57 1160.39C829.19 1160.44 832.81 1160.49 836.43 1160.54C840.05 1160.58 843.67 1160.63 847.29 1160.68C850.9 1160.72 854.52 1160.77 858.14 1160.81C861.76 1160.86 865.38 1160.9 869 1160.95C872.57 1160.99 876.14 1161.04 879.71 1161.08C883.29 1161.12 886.86 1161.16 890.43 1161.2C894 1161.24 897.57 1161.28 901.14 1161.31C904.71 1161.35 908.29 1161.39 911.86 1161.42C915.43 1161.45 919 1161.48 922.57 1161.51C926.14 1161.54 929.71 1161.56 933.29 1161.59C936.86 1161.61 940.43 1161.63 944 1161.65L944 1164.4 Z" fill="#00bfff" fill-opacity="0.2" stroke="#00bfff" stroke-opacity="0.2" stroke-width="2.1"/>
<line x1="225" x2="225" y1="1165" y2="1097.9" stroke="#00bfff" stroke-opacity="0.7" stroke-width="3.4" stroke-dasharray="12.6 5.9"/>
<line x1="323.3" x2="323.3" y1="1164.4" y2="1133.95" stroke="#00bfff" stroke-opacity="0.7" stroke-width="3.4" stroke-linecap="square"/>
<line x1="596.2" x2="596.2" y1="1165" y2="1155.52" stroke="#00bfff" stroke-opacity="0.7" stroke-width="3.4" stroke-dasharray="12.6 5.9"/>
<path d="M185 1164.4C186 1164.4 187 1161.84 188 1158.83C189.33 1154.82 190.67 1148.28 192 1141.88C193.67 1133.87 195.33 1125.9 197 1119.7C198.67 1113.51 200.33 1108.99 202 1105.64C203.67 1102.28 205.33 1100.26 207 1099C209.77 1096.92 212.53 1096.25 215.3 1096.12C218.53 1095.97 221.77 1096.77 225 1097.9C227.55 1098.8 230.1 1099.94 232.65 1101.12C235.2 1102.31 237.75 1103.55 240.3 1104.8C243.8 1106.52 247.3 1108.23 250.8 1109.86C254.3 1111.5 257.8 1113.07 261.3 1114.55C264.16 1115.76 267.01 1116.91 269.87 1118.01C272.72 1119.1 275.58 1120.14 278.43 1121.12C281.29 1122.11 284.14 1123.05 287 1123.95C290.02 1124.91 293.05 1125.82 296.07 1126.69C299.1 1127.56 302.12 1128.35 305.15 1129.19C308.18 1130.03 311.2 1130.91 314.23 1131.7C317.25 1132.5 320.28 1133.24 323.3 1133.95C325.63 1134.49 327.97 1135.02 330.3 1135.48C332.63 1135.94 334.97 1136.34 337.3 1136.74C340.33 1137.27 343.37 1137.77 346.4 1138.26C349.43 1138.74 352.47 1139.19 355.5 1139.65C358.53 1140.11 361.57 1140.58 364.6 1141.02C367.63 1141.46 370.67 1141.89 373.7 1142.29C377 1142.73 380.3 1143.16 383.6 1143.56C386.9 1143.96 390.2 1144.35 393.5 1144.71C396.8 1145.08 400.1 1145.42 403.4 1145.75C406.7 1146.08 410 1146.39 413.3 1146.67C416.67 1146.97 420.03 1147.24 423.4 1147.5C426.77 1147.76 430.13 1148 433.5 1148.23C436.87 1148.46 440.23 1148.69 443.6 1148.89C446.97 1149.1 450.33 1149.3 453.7 1149.49C457.62 1149.71 461.54 1149.92 465.47 1150.12C469.39 1150.32 473.31 1150.52 477.23 1150.71C481.16 1150.9 485.08 1151.08 489 1151.25C491.95 1151.38 494.9 1151.51 497.85 1151.63C500.8 1151.75 503.75 1151.87 506.7 1152C510.59 1152.16 514.47 1152.34 518.36 1152.5C522.25 1152.67 526.13 1152.84 530.02 1153C533.91 1153.16 537.79 1153.32 541.68 1153.49C545.57 1153.65 549.45 1153.81 553.34 1153.97C557.23 1154.13 561.11 1154.29 565 1154.44C568.44 1154.57 571.89 1154.7 575.33 1154.83C578.78 1154.95 582.22 1155.07 585.67 1155.18C589.11 1155.29 592.56 1155.4 596 1155.51C599.75 1155.63 603.5 1155.75 607.25 1155.87C611 1155.99 614.75 1156.11 618.5 1156.23C622.25 1156.34 626 1156.46 629.75 1156.57C633.5 1156.68 637.25 1156.8 641 1156.91C644.62 1157.01 648.24 1157.12 651.86 1157.22C655.48 1157.33 659.1 1157.43 662.71 1157.52C666.33 1157.62 669.95 1157.71 673.57 1157.81C677.19 1157.9 680.81 1157.99 684.43 1158.08C688.05 1158.17 691.67 1158.25 695.29 1158.34C698.9 1158.42 702.52 1158.5 706.14 1158.58C709.76 1158.65 713.38 1158.73 717 1158.8C720.62 1158.87 724.24 1158.94 727.86 1159C731.48 1159.07 735.1 1159.13 738.71 1159.19C742.33 1159.25 745.95 1159.31 749.57 1159.36C753.19 1159.42 756.81 1159.47 760.43 1159.52C764.05 1159.57 767.67 1159.63 771.29 1159.68C774.9 1159.73 778.52 1159.77 782.14 1159.82C785.76 1159.87 789.38 1159.92 793 1159.97C796.62 1160.01 800.24 1160.06 803.86 1160.11C807.48 1160.16 811.1 1160.2 814.71 1160.25C818.33 1160.3 821.95 1160.35 825.57 1160.39C829.19 1160.44 832.81 1160.49 836.43 1160.54C840.05 1160.58 843.67 1160.63 847.29 1160.68C850.9 1160.72 854.52 1160.77 858.14 1160.81C861.76 1160.86 865.38 1160.9 869 1160.95C872.57 1160.99 876.14 1161.04 879.71 1161.08C883.29 1161.12 886.86 1161.16 890.43 1161.2C894 1161.24 897.57 1161.28 901.14 1161.31C904.71 1161.35 908.29 1161.39 911.86 1161.42C915.43 1161.45 919 1161.48 922.57 1161.51C926.14 1161.54 929.71 1161.56 933.29 1161.59C936.86 1161.61 940.43 1161.63 944 1161.65" fill="none" stroke="#00bfff" stroke-width="4.3" stroke-linejoin="round" stroke-linecap="butt"/>
<line x1="187.5" x2="944" y1="1247.5" y2="1247.5" stroke="#808080" stroke-opacity="0.7" stroke-width="3.1"/>
<path d="M198 1247.5L198 1247.5C199.08 1247.5 200.17 1246.66 201.25 1246.03C203.33 1244.82 205.42 1243.01 207.5 1240.12C209.58 1237.22 211.67 1232.98 213.75 1227.65C215.83 1222.32 217.92 1215.89 220 1209.57C222.08 1203.24 224.17 1196.97 226.25 1191.71C227.92 1187.5 229.58 1184.09 231.25 1182.03C233.13 1179.69 235.02 1178.68 236.9 1178.76C238.77 1178.84 240.63 1180.14 242.5 1182.01C244.58 1184.11 246.67 1186.9 248.75 1189.9C250.83 1192.89 252.92 1196.11 255 1199.41C257.08 1202.72 259.17 1206.1 261.25 1209.17C263.33 1212.24 265.42 1214.99 267.5 1217.5C270 1220.53 272.5 1223.26 275 1225.7C277.5 1228.14 280 1230.25 282.5 1232.05C285 1233.85 287.5 1235.32 290 1236.49C292.92 1237.87 295.83 1238.9 298.75 1239.73C301.67 1240.57 304.58 1241.21 307.5 1241.77C309.97 1242.24 312.43 1242.64 314.9 1243.04C316.92 1243.38 318.93 1243.7 320.95 1244.01C322.97 1244.31 324.98 1244.61 327 1244.88C330.43 1245.32 333.87 1245.63 337.3 1245.83C340.04 1245.98 342.79 1246.09 345.53 1246.18C348.28 1246.28 351.02 1246.38 353.77 1246.47C356.51 1246.57 359.26 1246.64 362 1246.71C364.78 1246.79 367.56 1246.85 370.33 1246.91C373.11 1246.97 375.89 1247.02 378.67 1247.07C381.44 1247.12 384.22 1247.17 387 1247.21C390 1247.25 393 1247.29 396 1247.32C399 1247.36 402 1247.38 405 1247.41C408 1247.43 411 1247.5 414 1247.5L414 1247.5 Z" fill="#ffa500" fill-opacity="0.2" stroke="#ffa500" stroke-opacity="0.2" stroke-width="2.1"/>
<line x1="226.25" x2="226.25" y1="1248.1" y2="1191.71" stroke="#ffa500" stroke-opacity="0.7" stroke-width="3.4" stroke-dasharray="12.6 5.9"/>
<line x1="244.75" x2="244.75" y1="1247.5" y2="1184.54" stroke="#ffa500" stroke-opacity="0.7" stroke-width="3.4" stroke-linecap="square"/>
<line x1="274.4" x2="274.4" y1="1248.1" y2="1225.11" stroke="#ffa500" stroke-opacity="0.7" stroke-width="3.4" stroke-dasharray="12.6 5.9"/>
<path d="M198 1247.5C199.08 1247.5 200.17 1246.66 201.25 1246.03C203.33 1244.82 205.42 1243.01 207.5 1240.12C209.58 1237.22 211.67 1232.98 213.75 1227.65C215.83 1222.32 217.92 1215.89 220 1209.57C222.08 1203.24 224.17 1196.97 226.25 1191.71C227.92 1187.5 229.58 1184.09 231.25 1182.03C233.13 1179.69 235.02 1178.68 236.9 1178.76C238.77 1178.84 240.63 1180.14 242.5 1182.01C244.58 1184.11 246.67 1186.9 248.75 1189.9C250.83 1192.89 252.92 1196.11 255 1199.41C257.08 1202.72 259.17 1206.1 261.25 1209.17C263.33 1212.24 265.42 1214.99 267.5 1217.5C270 1220.53 272.5 1223.26 275 1225.7C277.5 1228.14 280 1230.25 282.5 1232.05C285 1233.85 287.5 1235.32 290 1236.49C292.92 1237.87 295.83 1238.9 298.75 1239.73C301.67 1240.57 304.58 1241.21 307.5 1241.77C309.97 1242.24 312.43 1242.64 314.9 1243.04C316.92 1243.38 318.93 1243.7 320.95 1244.01C322.97 1244.31 324.98 1244.61 327 1244.88C330.43 1245.32 333.87 1245.63 337.3 1245.83C340.04 1245.98 342.79 1246.09 345.53 1246.18C348.28 1246.28 351.02 1246.38 353.77 1246.47C356.51 1246.57 359.26 1246.64 362 1246.71C364.78 1246.79 367.56 1246.85 370.33 1246.91C373.11 1246.97 375.89 1247.02 378.67 1247.07C381.44 1247.12 384.22 1247.17 387 1247.21C390 1247.25 393 1247.29 396 1247.32C399 1247.36 402 1247.38 405 1247.41C408 1247.43 411 1247.5 414 1247.5" fill="none" stroke="#ffa500" stroke-width="4.3" stroke-linejoin="round" stroke-linecap="butt"/>
<path d="M214 1247.5L214 1247.5C216 1247.5 218 1247.16 220 1246.57C222.08 1245.96 224.17 1244.97 226.25 1242.72C227.92 1240.92 229.58 1238.09 231.25 1234.07C232.92 1230.04 234.58 1224.9 236.25 1219.14C237.92 1213.37 239.58 1206.99 241.25 1201.46C242.92 1195.93 244.58 1191.14 246.25 1187.39C247.5 1184.58 248.75 1182.42 250 1180.96C251.25 1179.51 252.5 1178.75 253.75 1178.77C255.42 1178.79 257.08 1179.94 258.75 1182C260.42 1184.06 262.08 1187.29 263.75 1190.94C265.83 1195.51 267.92 1200.67 270 1205.78C272.08 1210.89 274.17 1216 276.25 1220.44C278.33 1224.89 280.42 1228.7 282.5 1231.75C284.58 1234.79 286.67 1237.11 288.75 1239C290.83 1240.9 292.92 1242.32 295 1243.33C297.5 1244.56 300 1245.29 302.5 1245.83C305 1246.37 307.5 1246.68 310 1246.9C313.33 1247.2 316.67 1247.5 320 1247.5L320 1247.5 Z" fill="#00bfff" fill-opacity="0.2" stroke="#00bfff" stroke-opacity="0.2" stroke-width="2.1"/>
<line x1="214" x2="320" y1="1247.5" y2="1247.5" stroke="#3f818f" stroke-opacity="0.45" stroke-width="3.1"/>
<line x1="243.5" x2="243.5" y1="1248.1" y2="1194.5" stroke="#00bfff" stroke-opacity="0.7" stroke-width="3.4" stroke-dasharray="12.6 5.9"/>
<line x1="256.6" x2="256.6" y1="1247.5" y2="1179.91" stroke="#00bfff" stroke-opacity="0.7" stroke-width="3.4" stroke-linecap="square"/>
<line x1="272.5" x2="272.5" y1="1248.1" y2="1211.88" stroke="#00bfff" stroke-opacity="0.7" stroke-width="3.4" stroke-dasharray="12.6 5.9"/>
<path d="M187.5 1247.5L214 1247.5C216 1247.5 218 1247.16 220 1246.57C222.08 1245.96 224.17 1244.97 226.25 1242.72C227.92 1240.92 229.58 1238.09 231.25 1234.07C232.92 1230.04 234.58 1224.9 236.25 1219.14C237.92 1213.37 239.58 1206.99 241.25 1201.46C242.92 1195.93 244.58 1191.14 246.25 1187.39C247.5 1184.58 248.75 1182.42 250 1180.96C251.25 1179.51 252.5 1178.75 253.75 1178.77C255.42 1178.79 257.08 1179.94 258.75 1182C260.42 1184.06 262.08 1187.29 263.75 1190.94C265.83 1195.51 267.92 1200.67 270 1205.78C272.08 1210.89 274.17 1216 276.25 1220.44C278.33 1224.89 280.42 1228.7 282.5 1231.75C284.58 1234.79 286.67 1237.11 288.75 1239C290.83 1240.9 292.92 1242.32 295 1243.33C297.5 1244.56 300 1245.29 302.5 1245.83C305 1246.37 307.5 1246.68 310 1246.9C313.33 1247.2 316.67 1247.5 320 1247.5L414.5 1247.5" fill="none" stroke="#00bfff" stroke-width="4.3" stroke-linejoin="round" stroke-linecap="butt"/>
<line x1="187.5" x2="944" y1="1330.8" y2="1330.8" stroke="#808080" stroke-opacity="0.7" stroke-width="3.1"/>
<path d="M245 1330.8L245 1330.8C247.75 1330.8 250.5 1330.66 253.25 1330.59C256 1330.53 258.75 1330.44 261.5 1330.35C264.22 1330.25 266.94 1330.14 269.67 1330C272.39 1329.86 275.11 1329.7 277.83 1329.53C280.56 1329.35 283.28 1329.15 286 1328.9C289.32 1328.6 292.63 1328.26 295.95 1327.81C299.27 1327.37 302.58 1326.85 305.9 1326.34C309.41 1325.79 312.92 1325.24 316.43 1324.68C319.94 1324.13 323.46 1323.58 326.97 1323.03C330.48 1322.49 333.99 1321.95 337.5 1321.43C340.62 1320.96 343.75 1320.5 346.88 1320.05C350 1319.59 353.12 1319.15 356.25 1318.7C359.38 1318.26 362.5 1317.82 365.62 1317.38C368.75 1316.94 371.88 1316.5 375 1316.06C378.18 1315.61 381.37 1315.16 384.55 1314.71C387.73 1314.25 390.92 1313.8 394.1 1313.33C397.28 1312.87 400.47 1312.41 403.65 1311.94C406.83 1311.47 410.02 1310.99 413.2 1310.51C416.31 1310.04 419.42 1309.56 422.52 1309.09C425.63 1308.61 428.74 1308.12 431.85 1307.64C434.96 1307.15 438.07 1306.67 441.18 1306.18C444.28 1305.7 447.39 1305.21 450.5 1304.72C453.71 1304.22 456.92 1303.72 460.12 1303.23C463.33 1302.73 466.54 1302.23 469.75 1301.74C472.96 1301.24 476.17 1300.74 479.38 1300.25C482.58 1299.75 485.79 1299.26 489 1298.76C492.23 1298.26 495.45 1297.76 498.68 1297.27C501.9 1296.77 505.12 1296.27 508.35 1295.78C511.58 1295.29 514.8 1294.8 518.03 1294.32C521.25 1293.84 524.48 1293.36 527.7 1292.9C530.81 1292.45 533.92 1292 537.03 1291.57C540.13 1291.13 543.24 1290.71 546.35 1290.29C549.46 1289.87 552.57 1289.46 555.67 1289.05C558.78 1288.65 561.89 1288.25 565 1287.86C568.97 1287.36 572.93 1286.88 576.9 1286.39C580.87 1285.91 584.83 1285.44 588.8 1284.96C592.77 1284.49 596.73 1284.02 600.7 1283.54C604.06 1283.14 607.42 1282.74 610.78 1282.35C614.13 1281.95 617.49 1281.56 620.85 1281.17C624.21 1280.78 627.57 1280.4 630.92 1280.04C634.28 1279.67 637.64 1279.31 641 1278.96C644.65 1278.58 648.31 1278.21 651.96 1277.85C655.61 1277.5 659.27 1277.16 662.92 1276.82C666.57 1276.49 670.23 1276.15 673.88 1275.82C677.53 1275.48 681.19 1275.15 684.84 1274.84C688.49 1274.53 692.15 1274.24 695.8 1273.96C699.27 1273.7 702.73 1273.45 706.2 1273.22C709.67 1272.99 713.13 1272.76 716.6 1272.52C719.8 1272.3 723 1272.07 726.2 1271.84C729.4 1271.61 732.6 1271.39 735.8 1271.17C739 1270.95 742.2 1270.73 745.4 1270.52C748.6 1270.3 751.8 1270.09 755 1269.89C758.13 1269.69 761.27 1269.5 764.4 1269.31C767.53 1269.13 770.67 1268.95 773.8 1268.78C776.93 1268.6 780.07 1268.43 783.2 1268.27C786.33 1268.1 789.47 1267.94 792.6 1267.78C795.64 1267.63 798.69 1267.48 801.73 1267.34C804.78 1267.19 807.82 1267.05 810.87 1266.92C813.91 1266.78 816.96 1266.66 820 1266.54C823.22 1266.41 826.44 1266.29 829.66 1266.17C832.88 1266.06 836.1 1265.95 839.32 1265.84C842.54 1265.73 845.76 1265.62 848.98 1265.51C852.2 1265.4 855.42 1265.3 858.64 1265.2C861.86 1265.1 865.08 1265 868.3 1264.9C871.42 1264.81 874.53 1264.72 877.65 1264.63C880.77 1264.54 883.88 1264.46 887 1264.37C890.12 1264.28 893.23 1264.2 896.35 1264.11C899.47 1264.02 902.58 1263.94 905.7 1263.85C908.89 1263.76 912.08 1263.67 915.28 1263.58C918.47 1263.49 921.66 1263.41 924.85 1263.33C928.04 1263.25 931.23 1263.17 934.42 1263.1C937.62 1263.04 940.81 1262.98 944 1262.93L944 1330.8 Z" fill="#ffa500" fill-opacity="0.2" stroke="#ffa500" stroke-opacity="0.2" stroke-width="2.1"/>
<line x1="695.8" x2="695.8" y1="1331.4" y2="1273.96" stroke="#ffa500" stroke-opacity="0.7" stroke-width="3.4" stroke-dasharray="12.6 5.9"/>
<path d="M245 1330.8C247.75 1330.8 250.5 1330.66 253.25 1330.59C256 1330.53 258.75 1330.44 261.5 1330.35C264.22 1330.25 266.94 1330.14 269.67 1330C272.39 1329.86 275.11 1329.7 277.83 1329.53C280.56 1329.35 283.28 1329.15 286 1328.9C289.32 1328.6 292.63 1328.26 295.95 1327.81C299.27 1327.37 302.58 1326.85 305.9 1326.34C309.41 1325.79 312.92 1325.24 316.43 1324.68C319.94 1324.13 323.46 1323.58 326.97 1323.03C330.48 1322.49 333.99 1321.95 337.5 1321.43C340.62 1320.96 343.75 1320.5 346.88 1320.05C350 1319.59 353.12 1319.15 356.25 1318.7C359.38 1318.26 362.5 1317.82 365.62 1317.38C368.75 1316.94 371.88 1316.5 375 1316.06C378.18 1315.61 381.37 1315.16 384.55 1314.71C387.73 1314.25 390.92 1313.8 394.1 1313.33C397.28 1312.87 400.47 1312.41 403.65 1311.94C406.83 1311.47 410.02 1310.99 413.2 1310.51C416.31 1310.04 419.42 1309.56 422.52 1309.09C425.63 1308.61 428.74 1308.12 431.85 1307.64C434.96 1307.15 438.07 1306.67 441.18 1306.18C444.28 1305.7 447.39 1305.21 450.5 1304.72C453.71 1304.22 456.92 1303.72 460.12 1303.23C463.33 1302.73 466.54 1302.23 469.75 1301.74C472.96 1301.24 476.17 1300.74 479.38 1300.25C482.58 1299.75 485.79 1299.26 489 1298.76C492.23 1298.26 495.45 1297.76 498.68 1297.27C501.9 1296.77 505.12 1296.27 508.35 1295.78C511.58 1295.29 514.8 1294.8 518.03 1294.32C521.25 1293.84 524.48 1293.36 527.7 1292.9C530.81 1292.45 533.92 1292 537.03 1291.57C540.13 1291.13 543.24 1290.71 546.35 1290.29C549.46 1289.87 552.57 1289.46 555.67 1289.05C558.78 1288.65 561.89 1288.25 565 1287.86C568.97 1287.36 572.93 1286.88 576.9 1286.39C580.87 1285.91 584.83 1285.44 588.8 1284.96C592.77 1284.49 596.73 1284.02 600.7 1283.54C604.06 1283.14 607.42 1282.74 610.78 1282.35C614.13 1281.95 617.49 1281.56 620.85 1281.17C624.21 1280.78 627.57 1280.4 630.92 1280.04C634.28 1279.67 637.64 1279.31 641 1278.96C644.65 1278.58 648.31 1278.21 651.96 1277.85C655.61 1277.5 659.27 1277.16 662.92 1276.82C666.57 1276.49 670.23 1276.15 673.88 1275.82C677.53 1275.48 681.19 1275.15 684.84 1274.84C688.49 1274.53 692.15 1274.24 695.8 1273.96C699.27 1273.7 702.73 1273.45 706.2 1273.22C709.67 1272.99 713.13 1272.76 716.6 1272.52C719.8 1272.3 723 1272.07 726.2 1271.84C729.4 1271.61 732.6 1271.39 735.8 1271.17C739 1270.95 742.2 1270.73 745.4 1270.52C748.6 1270.3 751.8 1270.09 755 1269.89C758.13 1269.69 761.27 1269.5 764.4 1269.31C767.53 1269.13 770.67 1268.95 773.8 1268.78C776.93 1268.6 780.07 1268.43 783.2 1268.27C786.33 1268.1 789.47 1267.94 792.6 1267.78C795.64 1267.63 798.69 1267.48 801.73 1267.34C804.78 1267.19 807.82 1267.05 810.87 1266.92C813.91 1266.78 816.96 1266.66 820 1266.54C823.22 1266.41 826.44 1266.29 829.66 1266.17C832.88 1266.06 836.1 1265.95 839.32 1265.84C842.54 1265.73 845.76 1265.62 848.98 1265.51C852.2 1265.4 855.42 1265.3 858.64 1265.2C861.86 1265.1 865.08 1265 868.3 1264.9C871.42 1264.81 874.53 1264.72 877.65 1264.63C880.77 1264.54 883.88 1264.46 887 1264.37C890.12 1264.28 893.23 1264.2 896.35 1264.11C899.47 1264.02 902.58 1263.94 905.7 1263.85C908.89 1263.76 912.08 1263.67 915.28 1263.58C918.47 1263.49 921.66 1263.41 924.85 1263.33C928.04 1263.25 931.23 1263.17 934.42 1263.1C937.62 1263.04 940.81 1262.98 944 1262.93" fill="none" stroke="#ffa500" stroke-width="4.3" stroke-linejoin="round" stroke-linecap="butt"/>
<path d="M245 1330.8L245 1330.8C247.75 1330.8 250.5 1330.67 253.25 1330.6C256 1330.53 258.75 1330.43 261.5 1330.31C264.22 1330.19 266.94 1330.04 269.67 1329.87C272.39 1329.69 275.11 1329.49 277.83 1329.27C280.56 1329.05 283.28 1328.8 286 1328.5C289.32 1328.14 292.63 1327.73 295.95 1327.2C299.27 1326.68 302.58 1326.05 305.9 1325.41C309.41 1324.73 312.92 1323.99 316.43 1323.22C319.94 1322.44 323.46 1321.63 326.97 1320.79C330.48 1319.94 333.99 1319.06 337.5 1318.14C340.62 1317.31 343.75 1316.46 346.88 1315.59C350 1314.72 353.12 1313.82 356.25 1312.9C359.38 1311.99 362.5 1311.07 365.62 1310.13C368.75 1309.19 371.88 1308.24 375 1307.28C378.18 1306.3 381.37 1305.32 384.55 1304.33C387.73 1303.35 390.92 1302.36 394.1 1301.37C397.28 1300.38 400.47 1299.39 403.65 1298.4C406.83 1297.41 410.02 1296.43 413.2 1295.45C416.31 1294.49 419.42 1293.54 422.52 1292.61C425.63 1291.67 428.74 1290.74 431.85 1289.83C434.96 1288.93 438.07 1288.04 441.18 1287.18C444.28 1286.31 447.39 1285.47 450.5 1284.66C453.71 1283.82 456.92 1283.01 460.12 1282.23C463.33 1281.45 466.54 1280.69 469.75 1279.97C472.96 1279.24 476.17 1278.54 479.38 1277.87C482.58 1277.19 485.79 1276.54 489 1275.92C492.23 1275.29 495.45 1274.68 498.68 1274.1C501.9 1273.52 505.12 1272.97 508.35 1272.44C511.58 1271.9 514.8 1271.4 518.03 1270.91C521.25 1270.43 524.48 1269.98 527.7 1269.55C530.81 1269.13 533.92 1268.74 537.03 1268.37C540.13 1268.01 543.24 1267.66 546.35 1267.33C549.46 1267 552.57 1266.7 555.67 1266.4C558.78 1266.11 561.89 1265.84 565 1265.58C568.97 1265.25 572.93 1264.95 576.9 1264.66C580.87 1264.38 584.83 1264.13 588.8 1263.89C592.77 1263.66 596.73 1263.45 600.7 1263.27C604.06 1263.11 607.42 1262.97 610.78 1262.84C614.13 1262.71 617.49 1262.61 620.85 1262.51C624.21 1262.42 627.57 1262.34 630.92 1262.28C634.28 1262.21 637.64 1262.17 641 1262.14C644.42 1262.11 647.83 1262.1 651.25 1262.1C654.67 1262.1 658.08 1262.12 661.5 1262.14C664.92 1262.16 668.33 1262.19 671.75 1262.23C675.17 1262.27 678.58 1262.32 682 1262.38C685.84 1262.44 689.69 1262.51 693.53 1262.59C697.38 1262.66 701.22 1262.75 705.07 1262.85C708.91 1262.94 712.76 1263.04 716.6 1263.15C719.8 1263.24 723 1263.33 726.2 1263.42C729.4 1263.52 732.6 1263.61 735.8 1263.71C739 1263.81 742.2 1263.91 745.4 1264.01C748.6 1264.12 751.8 1264.22 755 1264.33C758.13 1264.43 761.27 1264.54 764.4 1264.64C767.53 1264.75 770.67 1264.86 773.8 1264.97C776.93 1265.08 780.07 1265.19 783.2 1265.31C786.33 1265.42 789.47 1265.54 792.6 1265.66C795.64 1265.78 798.69 1265.9 801.73 1266.03C804.78 1266.16 807.82 1266.29 810.87 1266.42C813.91 1266.55 816.96 1266.68 820 1266.81C823.22 1266.94 826.44 1267.08 829.66 1267.21C832.88 1267.35 836.1 1267.48 839.32 1267.62C842.54 1267.76 845.76 1267.9 848.98 1268.04C852.2 1268.17 855.42 1268.31 858.64 1268.45C861.86 1268.6 865.08 1268.74 868.3 1268.88C871.42 1269.02 874.53 1269.16 877.65 1269.3C880.77 1269.45 883.88 1269.59 887 1269.73C890.12 1269.88 893.23 1270.02 896.35 1270.16C899.47 1270.29 902.58 1270.43 905.7 1270.55C908.89 1270.68 912.08 1270.81 915.28 1270.92C918.47 1271.04 921.66 1271.14 924.85 1271.24C928.04 1271.34 931.23 1271.42 934.42 1271.5C937.62 1271.57 940.81 1271.63 944 1271.68L944 1330.8 Z" fill="#00bfff" fill-opacity="0.2" stroke="#00bfff" stroke-opacity="0.2" stroke-width="2.1"/>
<line x1="245" x2="944" y1="1330.8" y2="1330.8" stroke="#3f818f" stroke-opacity="0.45" stroke-width="3.1"/>
<line x1="570.2" x2="570.2" y1="1331.4" y2="1265.16" stroke="#00bfff" stroke-opacity="0.7" stroke-width="3.4" stroke-dasharray="12.6 5.9"/>
<line x1="921.8" x2="921.8" y1="1330.8" y2="1271.14" stroke="#00bfff" stroke-opacity="0.7" stroke-width="3.4" stroke-linecap="square"/>
<path d="M187.5 1330.8L245 1330.8C247.75 1330.8 250.5 1330.67 253.25 1330.6C256 1330.53 258.75 1330.43 261.5 1330.31C264.22 1330.19 266.94 1330.04 269.67 1329.87C272.39 1329.69 275.11 1329.49 277.83 1329.27C280.56 1329.05 283.28 1328.8 286 1328.5C289.32 1328.14 292.63 1327.73 295.95 1327.2C299.27 1326.68 302.58 1326.05 305.9 1325.41C309.41 1324.73 312.92 1323.99 316.43 1323.22C319.94 1322.44 323.46 1321.63 326.97 1320.79C330.48 1319.94 333.99 1319.06 337.5 1318.14C340.62 1317.31 343.75 1316.46 346.88 1315.59C350 1314.72 353.12 1313.82 356.25 1312.9C359.38 1311.99 362.5 1311.07 365.62 1310.13C368.75 1309.19 371.88 1308.24 375 1307.28C378.18 1306.3 381.37 1305.32 384.55 1304.33C387.73 1303.35 390.92 1302.36 394.1 1301.37C397.28 1300.38 400.47 1299.39 403.65 1298.4C406.83 1297.41 410.02 1296.43 413.2 1295.45C416.31 1294.49 419.42 1293.54 422.52 1292.61C425.63 1291.67 428.74 1290.74 431.85 1289.83C434.96 1288.93 438.07 1288.04 441.18 1287.18C444.28 1286.31 447.39 1285.47 450.5 1284.66C453.71 1283.82 456.92 1283.01 460.12 1282.23C463.33 1281.45 466.54 1280.69 469.75 1279.97C472.96 1279.24 476.17 1278.54 479.38 1277.87C482.58 1277.19 485.79 1276.54 489 1275.92C492.23 1275.29 495.45 1274.68 498.68 1274.1C501.9 1273.52 505.12 1272.97 508.35 1272.44C511.58 1271.9 514.8 1271.4 518.03 1270.91C521.25 1270.43 524.48 1269.98 527.7 1269.55C530.81 1269.13 533.92 1268.74 537.03 1268.37C540.13 1268.01 543.24 1267.66 546.35 1267.33C549.46 1267 552.57 1266.7 555.67 1266.4C558.78 1266.11 561.89 1265.84 565 1265.58C568.97 1265.25 572.93 1264.95 576.9 1264.66C580.87 1264.38 584.83 1264.13 588.8 1263.89C592.77 1263.66 596.73 1263.45 600.7 1263.27C604.06 1263.11 607.42 1262.97 610.78 1262.84C614.13 1262.71 617.49 1262.61 620.85 1262.51C624.21 1262.42 627.57 1262.34 630.92 1262.28C634.28 1262.21 637.64 1262.17 641 1262.14C644.42 1262.11 647.83 1262.1 651.25 1262.1C654.67 1262.1 658.08 1262.12 661.5 1262.14C664.92 1262.16 668.33 1262.19 671.75 1262.23C675.17 1262.27 678.58 1262.32 682 1262.38C685.84 1262.44 689.69 1262.51 693.53 1262.59C697.38 1262.66 701.22 1262.75 705.07 1262.85C708.91 1262.94 712.76 1263.04 716.6 1263.15C719.8 1263.24 723 1263.33 726.2 1263.42C729.4 1263.52 732.6 1263.61 735.8 1263.71C739 1263.81 742.2 1263.91 745.4 1264.01C748.6 1264.12 751.8 1264.22 755 1264.33C758.13 1264.43 761.27 1264.54 764.4 1264.64C767.53 1264.75 770.67 1264.86 773.8 1264.97C776.93 1265.08 780.07 1265.19 783.2 1265.31C786.33 1265.42 789.47 1265.54 792.6 1265.66C795.64 1265.78 798.69 1265.9 801.73 1266.03C804.78 1266.16 807.82 1266.29 810.87 1266.42C813.91 1266.55 816.96 1266.68 820 1266.81C823.22 1266.94 826.44 1267.08 829.66 1267.21C832.88 1267.35 836.1 1267.48 839.32 1267.62C842.54 1267.76 845.76 1267.9 848.98 1268.04C852.2 1268.17 855.42 1268.31 858.64 1268.45C861.86 1268.6 865.08 1268.74 868.3 1268.88C871.42 1269.02 874.53 1269.16 877.65 1269.3C880.77 1269.45 883.88 1269.59 887 1269.73C890.12 1269.88 893.23 1270.02 896.35 1270.16C899.47 1270.29 902.58 1270.43 905.7 1270.55C908.89 1270.68 912.08 1270.81 915.28 1270.92C918.47 1271.04 921.66 1271.14 924.85 1271.24C928.04 1271.34 931.23 1271.42 934.42 1271.5C937.62 1271.57 940.81 1271.63 944 1271.68" fill="none" stroke="#00bfff" stroke-width="4.3" stroke-linejoin="round" stroke-linecap="butt"/>
<line x1="187.5" x2="944" y1="1413.8" y2="1413.8" stroke="#808080" stroke-opacity="0.7" stroke-width="3.1"/>
<path d="M188 1413.8L188 1413.8C188.83 1413.8 189.67 1413.6 190.5 1413.41C192.57 1412.94 194.63 1412.08 196.7 1410.88C199.47 1409.28 202.23 1406.97 205 1404.17C207.77 1401.37 210.53 1398 213.3 1394.39C216.1 1390.74 218.9 1386.83 221.7 1382.89C224.47 1379 227.23 1375.07 230 1371.42C232.77 1367.77 235.53 1364.43 238.3 1361.61C241.1 1358.75 243.9 1356.41 246.7 1354.4C249.47 1352.41 252.23 1350.75 255 1349.41C257.77 1348.08 260.53 1347.08 263.3 1346.34C266.1 1345.58 268.9 1345.09 271.7 1344.81C274.47 1344.53 277.23 1344.44 280 1344.54C282.77 1344.63 285.53 1345 288.3 1345.51C291.08 1346.03 293.87 1346.71 296.65 1347.41C299.43 1348.11 302.22 1348.85 305 1349.69C307.78 1350.53 310.57 1351.44 313.35 1352.41C316.13 1353.37 318.92 1354.39 321.7 1355.43C324.72 1356.56 327.73 1357.72 330.75 1358.88C333.77 1360.04 336.78 1361.21 339.8 1362.38C343.77 1363.93 347.73 1365.47 351.7 1366.88C354.25 1367.79 356.8 1368.66 359.35 1369.5C361.9 1370.34 364.45 1371.16 367 1371.97C369.97 1372.91 372.93 1373.83 375.9 1374.71C378.87 1375.6 381.83 1376.47 384.8 1377.33C387.77 1378.19 390.73 1379.01 393.7 1379.8C396.97 1380.66 400.23 1381.5 403.5 1382.23C406.77 1382.97 410.03 1383.6 413.3 1384.23C416.67 1384.88 420.03 1385.49 423.4 1386.07C426.77 1386.65 430.13 1387.17 433.5 1387.72C436.87 1388.27 440.23 1388.83 443.6 1389.35C446.97 1389.86 450.33 1390.35 453.7 1390.82C457.62 1391.36 461.54 1391.87 465.47 1392.35C469.39 1392.83 473.31 1393.3 477.23 1393.74C481.16 1394.18 485.08 1394.59 489 1394.97C491.95 1395.25 494.9 1395.51 497.85 1395.77C500.8 1396.02 503.75 1396.29 506.7 1396.58C510.42 1396.95 514.13 1397.35 517.85 1397.77C521.57 1398.2 525.28 1398.64 529 1399.07C533 1399.54 537 1399.99 541 1400.42C545 1400.85 549 1401.24 553 1401.59C557 1401.93 561 1402.24 565 1402.52C568.62 1402.78 572.24 1403.01 575.86 1403.23C579.48 1403.44 583.1 1403.64 586.71 1403.83C590.33 1404.02 593.95 1404.19 597.57 1404.36C601.19 1404.53 604.81 1404.7 608.43 1404.88C612.05 1405.05 615.67 1405.22 619.29 1405.38C622.9 1405.53 626.52 1405.68 630.14 1405.82C633.76 1405.96 637.38 1406.1 641 1406.23C644.62 1406.35 648.24 1406.48 651.86 1406.59C655.48 1406.71 659.1 1406.82 662.71 1406.93C666.33 1407.04 669.95 1407.14 673.57 1407.24C677.19 1407.34 680.81 1407.44 684.43 1407.53C688.05 1407.62 691.67 1407.71 695.29 1407.8C698.9 1407.88 702.52 1407.96 706.14 1408.04C709.76 1408.12 713.38 1408.19 717 1408.26C720.62 1408.33 724.24 1408.4 727.86 1408.46C731.48 1408.52 735.1 1408.58 738.71 1408.64C742.33 1408.7 745.95 1408.76 749.57 1408.81C753.19 1408.86 756.81 1408.91 760.43 1408.96C764.05 1409 767.67 1409.05 771.29 1409.09C774.9 1409.13 778.52 1409.17 782.14 1409.21C785.76 1409.25 789.38 1409.29 793 1409.32C796.62 1409.36 800.24 1409.39 803.86 1409.42C807.48 1409.45 811.1 1409.48 814.71 1409.51C818.33 1409.54 821.95 1409.57 825.57 1409.6C829.19 1409.62 832.81 1409.65 836.43 1409.68C840.05 1409.7 843.67 1409.73 847.29 1409.75C850.9 1409.78 854.52 1409.8 858.14 1409.82C861.76 1409.85 865.38 1409.87 869 1409.89C872.48 1409.92 875.95 1409.94 879.43 1409.96C882.9 1409.98 886.38 1410 889.86 1410.02C893.33 1410.04 896.81 1410.06 900.29 1410.08C903.76 1410.1 907.24 1410.12 910.71 1410.14C914.19 1410.16 917.67 1410.17 921.14 1410.19C924.62 1410.2 928.1 1410.22 931.57 1410.23C935.05 1410.24 938.52 1410.26 942 1410.27L942.6 1413.8L942.6 1413.8 Z" fill="#ffa500" fill-opacity="0.2" stroke="#ffa500" stroke-opacity="0.2" stroke-width="2.1"/>
<line x1="262.7" x2="262.7" y1="1414.4" y2="1346.5" stroke="#ffa500" stroke-opacity="0.7" stroke-width="3.4" stroke-dasharray="12.6 5.9"/>
<line x1="351.7" x2="351.7" y1="1413.8" y2="1366.88" stroke="#ffa500" stroke-opacity="0.7" stroke-width="3.4" stroke-linecap="square"/>
<line x1="573" x2="573" y1="1414.4" y2="1403.05" stroke="#ffa500" stroke-opacity="0.7" stroke-width="3.4" stroke-dasharray="12.6 5.9"/>
<path d="M188 1413.8C188.83 1413.8 189.67 1413.6 190.5 1413.41C192.57 1412.94 194.63 1412.08 196.7 1410.88C199.47 1409.28 202.23 1406.97 205 1404.17C207.77 1401.37 210.53 1398 213.3 1394.39C216.1 1390.74 218.9 1386.83 221.7 1382.89C224.47 1379 227.23 1375.07 230 1371.42C232.77 1367.77 235.53 1364.43 238.3 1361.61C241.1 1358.75 243.9 1356.41 246.7 1354.4C249.47 1352.41 252.23 1350.75 255 1349.41C257.77 1348.08 260.53 1347.08 263.3 1346.34C266.1 1345.58 268.9 1345.09 271.7 1344.81C274.47 1344.53 277.23 1344.44 280 1344.54C282.77 1344.63 285.53 1345 288.3 1345.51C291.08 1346.03 293.87 1346.71 296.65 1347.41C299.43 1348.11 302.22 1348.85 305 1349.69C307.78 1350.53 310.57 1351.44 313.35 1352.41C316.13 1353.37 318.92 1354.39 321.7 1355.43C324.72 1356.56 327.73 1357.72 330.75 1358.88C333.77 1360.04 336.78 1361.21 339.8 1362.38C343.77 1363.93 347.73 1365.47 351.7 1366.88C354.25 1367.79 356.8 1368.66 359.35 1369.5C361.9 1370.34 364.45 1371.16 367 1371.97C369.97 1372.91 372.93 1373.83 375.9 1374.71C378.87 1375.6 381.83 1376.47 384.8 1377.33C387.77 1378.19 390.73 1379.01 393.7 1379.8C396.97 1380.66 400.23 1381.5 403.5 1382.23C406.77 1382.97 410.03 1383.6 413.3 1384.23C416.67 1384.88 420.03 1385.49 423.4 1386.07C426.77 1386.65 430.13 1387.17 433.5 1387.72C436.87 1388.27 440.23 1388.83 443.6 1389.35C446.97 1389.86 450.33 1390.35 453.7 1390.82C457.62 1391.36 461.54 1391.87 465.47 1392.35C469.39 1392.83 473.31 1393.3 477.23 1393.74C481.16 1394.18 485.08 1394.59 489 1394.97C491.95 1395.25 494.9 1395.51 497.85 1395.77C500.8 1396.02 503.75 1396.29 506.7 1396.58C510.42 1396.95 514.13 1397.35 517.85 1397.77C521.57 1398.2 525.28 1398.64 529 1399.07C533 1399.54 537 1399.99 541 1400.42C545 1400.85 549 1401.24 553 1401.59C557 1401.93 561 1402.24 565 1402.52C568.62 1402.78 572.24 1403.01 575.86 1403.23C579.48 1403.44 583.1 1403.64 586.71 1403.83C590.33 1404.02 593.95 1404.19 597.57 1404.36C601.19 1404.53 604.81 1404.7 608.43 1404.88C612.05 1405.05 615.67 1405.22 619.29 1405.38C622.9 1405.53 626.52 1405.68 630.14 1405.82C633.76 1405.96 637.38 1406.1 641 1406.23C644.62 1406.35 648.24 1406.48 651.86 1406.59C655.48 1406.71 659.1 1406.82 662.71 1406.93C666.33 1407.04 669.95 1407.14 673.57 1407.24C677.19 1407.34 680.81 1407.44 684.43 1407.53C688.05 1407.62 691.67 1407.71 695.29 1407.8C698.9 1407.88 702.52 1407.96 706.14 1408.04C709.76 1408.12 713.38 1408.19 717 1408.26C720.62 1408.33 724.24 1408.4 727.86 1408.46C731.48 1408.52 735.1 1408.58 738.71 1408.64C742.33 1408.7 745.95 1408.76 749.57 1408.81C753.19 1408.86 756.81 1408.91 760.43 1408.96C764.05 1409 767.67 1409.05 771.29 1409.09C774.9 1409.13 778.52 1409.17 782.14 1409.21C785.76 1409.25 789.38 1409.29 793 1409.32C796.62 1409.36 800.24 1409.39 803.86 1409.42C807.48 1409.45 811.1 1409.48 814.71 1409.51C818.33 1409.54 821.95 1409.57 825.57 1409.6C829.19 1409.62 832.81 1409.65 836.43 1409.68C840.05 1409.7 843.67 1409.73 847.29 1409.75C850.9 1409.78 854.52 1409.8 858.14 1409.82C861.76 1409.85 865.38 1409.87 869 1409.89C872.48 1409.92 875.95 1409.94 879.43 1409.96C882.9 1409.98 886.38 1410 889.86 1410.02C893.33 1410.04 896.81 1410.06 900.29 1410.08C903.76 1410.1 907.24 1410.12 910.71 1410.14C914.19 1410.16 917.67 1410.17 921.14 1410.19C924.62 1410.2 928.1 1410.22 931.57 1410.23C935.05 1410.24 938.52 1410.26 942 1410.27L942.6 1413.8" fill="none" stroke="#ffa500" stroke-width="4.3" stroke-linejoin="round" stroke-linecap="butt"/>
<path d="M186 1413.8L186 1413.8C186.77 1413.8 187.53 1413.47 188.3 1413.02C191.1 1411.37 193.9 1407.79 196.7 1404.03C199.47 1400.33 202.23 1395.83 205 1391.19C207.77 1386.55 210.53 1381.74 213.3 1377C216.1 1372.21 218.9 1367.48 221.7 1363.41C224.47 1359.39 227.23 1356.02 230 1353.36C232.77 1350.7 235.53 1348.75 238.3 1347.45C241.1 1346.14 243.9 1345.42 246.7 1345.01C248.9 1344.68 251.1 1344.55 253.3 1344.62C255.53 1344.69 257.77 1345.02 260 1345.54C263.9 1346.47 267.8 1347.83 271.7 1349.22C274.47 1350.2 277.23 1351.23 280 1352.24C282.77 1353.26 285.53 1354.28 288.3 1355.29C291.08 1356.3 293.87 1357.29 296.65 1358.26C299.43 1359.23 302.22 1360.18 305 1361.11C307.78 1362.03 310.57 1362.94 313.35 1363.83C316.13 1364.72 318.92 1365.6 321.7 1366.47C324.72 1367.41 327.73 1368.34 330.75 1369.25C333.77 1370.16 336.78 1371.05 339.8 1371.92C342.82 1372.79 345.84 1373.65 348.87 1374.48C351.89 1375.31 354.91 1376.13 357.93 1376.93C360.96 1377.73 363.98 1378.51 367 1379.27C369.97 1380.01 372.93 1380.73 375.9 1381.41C378.87 1382.1 381.83 1382.77 384.8 1383.41C387.77 1384.04 390.73 1384.65 393.7 1385.21C396.97 1385.83 400.23 1386.42 403.5 1386.93C406.77 1387.45 410.03 1387.91 413.3 1388.38C416.67 1388.86 420.03 1389.33 423.4 1389.78C426.77 1390.23 430.13 1390.66 433.5 1391.09C436.87 1391.52 440.23 1391.96 443.6 1392.37C446.97 1392.78 450.33 1393.18 453.7 1393.56C457.62 1394 461.54 1394.42 465.47 1394.82C469.39 1395.21 473.31 1395.6 477.23 1395.97C481.16 1396.34 485.08 1396.69 489 1397.03C491.95 1397.28 494.9 1397.53 497.85 1397.76C500.8 1398 503.75 1398.22 506.7 1398.44C510.42 1398.72 514.13 1398.99 517.85 1399.27C521.57 1399.55 525.28 1399.83 529 1400.13C533 1400.44 537 1400.76 541 1401.07C545 1401.38 549 1401.68 553 1401.96C557 1402.24 561 1402.49 565 1402.74C568.62 1402.95 572.24 1403.16 575.86 1403.35C579.48 1403.55 583.1 1403.73 586.71 1403.91C590.33 1404.09 593.95 1404.26 597.57 1404.42C601.19 1404.58 604.81 1404.74 608.43 1404.9C612.05 1405.07 615.67 1405.23 619.29 1405.38C622.9 1405.53 626.52 1405.68 630.14 1405.81C633.76 1405.95 637.38 1406.09 641 1406.21C644.62 1406.34 648.24 1406.47 651.86 1406.58C655.48 1406.7 659.1 1406.82 662.71 1406.92C666.33 1407.03 669.95 1407.14 673.57 1407.24C677.19 1407.34 680.81 1407.44 684.43 1407.53C688.05 1407.62 691.67 1407.71 695.29 1407.79C698.9 1407.88 702.52 1407.96 706.14 1408.04C709.76 1408.11 713.38 1408.19 717 1408.26C720.62 1408.33 724.24 1408.39 727.86 1408.46C731.48 1408.52 735.1 1408.58 738.71 1408.64C742.33 1408.7 745.95 1408.75 749.57 1408.81C753.19 1408.86 756.81 1408.91 760.43 1408.96C764.05 1409 767.67 1409.05 771.29 1409.09C774.9 1409.13 778.52 1409.17 782.14 1409.21C785.76 1409.25 789.38 1409.29 793 1409.32C796.62 1409.36 800.24 1409.39 803.86 1409.42C807.48 1409.45 811.1 1409.48 814.71 1409.51C818.33 1409.54 821.95 1409.57 825.57 1409.6C829.19 1409.62 832.81 1409.65 836.43 1409.68C840.05 1409.7 843.67 1409.73 847.29 1409.75C850.9 1409.78 854.52 1409.8 858.14 1409.82C861.76 1409.85 865.38 1409.87 869 1409.89C872.48 1409.92 875.95 1409.94 879.43 1409.96C882.9 1409.98 886.38 1410 889.86 1410.02C893.33 1410.04 896.81 1410.06 900.29 1410.08C903.76 1410.1 907.24 1410.12 910.71 1410.14C914.19 1410.16 917.67 1410.17 921.14 1410.19C924.62 1410.2 928.1 1410.22 931.57 1410.23C935.05 1410.24 938.52 1410.25 942 1410.27L942.8 1413.8L942.8 1413.8 Z" fill="#00bfff" fill-opacity="0.2" stroke="#00bfff" stroke-opacity="0.2" stroke-width="2.1"/>
<line x1="188" x2="942" y1="1413.8" y2="1413.8" stroke="#3f818f" stroke-opacity="0.45" stroke-width="3.1"/>
<line x1="247.3" x2="247.3" y1="1414.4" y2="1344.92" stroke="#00bfff" stroke-opacity="0.7" stroke-width="3.4" stroke-dasharray="12.6 5.9"/>
<line x1="338.7" x2="338.7" y1="1413.8" y2="1371.6" stroke="#00bfff" stroke-opacity="0.7" stroke-width="3.4" stroke-linecap="square"/>
<line x1="583.4" x2="583.4" y1="1414.4" y2="1403.75" stroke="#00bfff" stroke-opacity="0.7" stroke-width="3.4" stroke-dasharray="12.6 5.9"/>
<path d="M186 1413.8C186.77 1413.8 187.53 1413.47 188.3 1413.02C191.1 1411.37 193.9 1407.79 196.7 1404.03C199.47 1400.33 202.23 1395.83 205 1391.19C207.77 1386.55 210.53 1381.74 213.3 1377C216.1 1372.21 218.9 1367.48 221.7 1363.41C224.47 1359.39 227.23 1356.02 230 1353.36C232.77 1350.7 235.53 1348.75 238.3 1347.45C241.1 1346.14 243.9 1345.42 246.7 1345.01C248.9 1344.68 251.1 1344.55 253.3 1344.62C255.53 1344.69 257.77 1345.02 260 1345.54C263.9 1346.47 267.8 1347.83 271.7 1349.22C274.47 1350.2 277.23 1351.23 280 1352.24C282.77 1353.26 285.53 1354.28 288.3 1355.29C291.08 1356.3 293.87 1357.29 296.65 1358.26C299.43 1359.23 302.22 1360.18 305 1361.11C307.78 1362.03 310.57 1362.94 313.35 1363.83C316.13 1364.72 318.92 1365.6 321.7 1366.47C324.72 1367.41 327.73 1368.34 330.75 1369.25C333.77 1370.16 336.78 1371.05 339.8 1371.92C342.82 1372.79 345.84 1373.65 348.87 1374.48C351.89 1375.31 354.91 1376.13 357.93 1376.93C360.96 1377.73 363.98 1378.51 367 1379.27C369.97 1380.01 372.93 1380.73 375.9 1381.41C378.87 1382.1 381.83 1382.77 384.8 1383.41C387.77 1384.04 390.73 1384.65 393.7 1385.21C396.97 1385.83 400.23 1386.42 403.5 1386.93C406.77 1387.45 410.03 1387.91 413.3 1388.38C416.67 1388.86 420.03 1389.33 423.4 1389.78C426.77 1390.23 430.13 1390.66 433.5 1391.09C436.87 1391.52 440.23 1391.96 443.6 1392.37C446.97 1392.78 450.33 1393.18 453.7 1393.56C457.62 1394 461.54 1394.42 465.47 1394.82C469.39 1395.21 473.31 1395.6 477.23 1395.97C481.16 1396.34 485.08 1396.69 489 1397.03C491.95 1397.28 494.9 1397.53 497.85 1397.76C500.8 1398 503.75 1398.22 506.7 1398.44C510.42 1398.72 514.13 1398.99 517.85 1399.27C521.57 1399.55 525.28 1399.83 529 1400.13C533 1400.44 537 1400.76 541 1401.07C545 1401.38 549 1401.68 553 1401.96C557 1402.24 561 1402.49 565 1402.74C568.62 1402.95 572.24 1403.16 575.86 1403.35C579.48 1403.55 583.1 1403.73 586.71 1403.91C590.33 1404.09 593.95 1404.26 597.57 1404.42C601.19 1404.58 604.81 1404.74 608.43 1404.9C612.05 1405.07 615.67 1405.23 619.29 1405.38C622.9 1405.53 626.52 1405.68 630.14 1405.81C633.76 1405.95 637.38 1406.09 641 1406.21C644.62 1406.34 648.24 1406.47 651.86 1406.58C655.48 1406.7 659.1 1406.82 662.71 1406.92C666.33 1407.03 669.95 1407.14 673.57 1407.24C677.19 1407.34 680.81 1407.44 684.43 1407.53C688.05 1407.62 691.67 1407.71 695.29 1407.79C698.9 1407.88 702.52 1407.96 706.14 1408.04C709.76 1408.11 713.38 1408.19 717 1408.26C720.62 1408.33 724.24 1408.39 727.86 1408.46C731.48 1408.52 735.1 1408.58 738.71 1408.64C742.33 1408.7 745.95 1408.75 749.57 1408.81C753.19 1408.86 756.81 1408.91 760.43 1408.96C764.05 1409 767.67 1409.05 771.29 1409.09C774.9 1409.13 778.52 1409.17 782.14 1409.21C785.76 1409.25 789.38 1409.29 793 1409.32C796.62 1409.36 800.24 1409.39 803.86 1409.42C807.48 1409.45 811.1 1409.48 814.71 1409.51C818.33 1409.54 821.95 1409.57 825.57 1409.6C829.19 1409.62 832.81 1409.65 836.43 1409.68C840.05 1409.7 843.67 1409.73 847.29 1409.75C850.9 1409.78 854.52 1409.8 858.14 1409.82C861.76 1409.85 865.38 1409.87 869 1409.89C872.48 1409.92 875.95 1409.94 879.43 1409.96C882.9 1409.98 886.38 1410 889.86 1410.02C893.33 1410.04 896.81 1410.06 900.29 1410.08C903.76 1410.1 907.24 1410.12 910.71 1410.14C914.19 1410.16 917.67 1410.17 921.14 1410.19C924.62 1410.2 928.1 1410.22 931.57 1410.23C935.05 1410.24 938.52 1410.25 942 1410.27L942.8 1413.8" fill="none" stroke="#00bfff" stroke-width="4.3" stroke-linejoin="round" stroke-linecap="butt"/>
<line x1="187.5" x2="944" y1="1497.1" y2="1497.1" stroke="#808080" stroke-opacity="0.7" stroke-width="3.1"/>
<path d="M194 1497.1L194 1497.1C195.43 1497.1 196.87 1496.58 198.3 1496.15C200.53 1495.47 202.77 1494.43 205 1492.83C207.77 1490.85 210.53 1488.01 213.3 1484.8C216.1 1481.54 218.9 1477.89 221.7 1474.49C224.47 1471.13 227.23 1468.04 230 1465.55C232.77 1463.06 235.53 1461.12 238.3 1459.48C241.1 1457.81 243.9 1456.42 246.7 1455.16C249.47 1453.93 252.23 1452.83 255 1451.86C257.77 1450.89 260.53 1450.09 263.3 1449.4C266.08 1448.71 268.87 1448.13 271.65 1447.57C274.43 1447.02 277.22 1446.48 280 1446.03C282.78 1445.58 285.57 1445.18 288.35 1444.81C291.13 1444.45 293.92 1444.11 296.7 1443.8C299.47 1443.48 302.23 1443.19 305 1442.9C307.77 1442.62 310.53 1442.34 313.3 1442.07C316.08 1441.8 318.87 1441.55 321.65 1441.3C324.43 1441.06 327.22 1440.81 330 1440.6C333.27 1440.35 336.53 1440.15 339.8 1439.96C343.57 1439.75 347.33 1439.53 351.1 1439.32C354.87 1439.11 358.63 1438.9 362.4 1438.69C366.17 1438.48 369.93 1438.28 373.7 1438.08C377 1437.9 380.3 1437.72 383.6 1437.55C386.9 1437.38 390.2 1437.22 393.5 1437.05C396.8 1436.88 400.1 1436.72 403.4 1436.56C406.7 1436.4 410 1436.25 413.3 1436.09C416.67 1435.94 420.03 1435.79 423.4 1435.64C426.77 1435.49 430.13 1435.34 433.5 1435.2C436.87 1435.06 440.23 1434.92 443.6 1434.78C446.97 1434.64 450.33 1434.51 453.7 1434.37C457.62 1434.22 461.54 1434.07 465.47 1433.92C469.39 1433.77 473.31 1433.62 477.23 1433.48C481.16 1433.33 485.08 1433.18 489 1433.03C491.95 1432.92 494.9 1432.81 497.85 1432.69C500.8 1432.58 503.75 1432.49 506.7 1432.4C510.42 1432.28 514.13 1432.18 517.85 1432.1C521.57 1432.02 525.28 1431.95 529 1431.88C533 1431.81 537 1431.75 541 1431.69C545 1431.63 549 1431.57 553 1431.51C557 1431.46 561 1431.41 565 1431.35C568.62 1431.3 572.24 1431.25 575.86 1431.2C579.48 1431.16 583.1 1431.11 586.71 1431.06C590.33 1431.01 593.95 1430.96 597.57 1430.92C601.19 1430.87 604.81 1430.82 608.43 1430.77C612.05 1430.73 615.67 1430.68 619.29 1430.63C622.9 1430.58 626.52 1430.54 630.14 1430.49C633.76 1430.44 637.38 1430.4 641 1430.35C644.62 1430.31 648.24 1430.26 651.86 1430.22C655.48 1430.17 659.1 1430.13 662.71 1430.08C666.33 1430.04 669.95 1430 673.57 1429.96C677.19 1429.91 680.81 1429.87 684.43 1429.83C688.05 1429.79 691.67 1429.75 695.29 1429.72C698.9 1429.68 702.52 1429.64 706.14 1429.61C709.76 1429.57 713.38 1429.54 717 1429.5C720.62 1429.47 724.24 1429.44 727.86 1429.41C731.48 1429.38 735.1 1429.35 738.71 1429.32C742.33 1429.29 745.95 1429.26 749.57 1429.24C753.19 1429.21 756.81 1429.18 760.43 1429.16C764.05 1429.13 767.67 1429.11 771.29 1429.08C774.9 1429.06 778.52 1429.04 782.14 1429.01C785.76 1428.99 789.38 1428.96 793 1428.94C796.62 1428.92 800.24 1428.89 803.86 1428.87C807.48 1428.85 811.1 1428.82 814.71 1428.8C818.33 1428.77 821.95 1428.75 825.57 1428.73C829.19 1428.7 832.81 1428.68 836.43 1428.66C840.05 1428.63 843.67 1428.61 847.29 1428.59C850.9 1428.56 854.52 1428.54 858.14 1428.51C861.76 1428.49 865.38 1428.47 869 1428.44C872.45 1428.42 875.9 1428.4 879.36 1428.38C882.81 1428.36 886.26 1428.33 889.71 1428.31C893.17 1428.29 896.62 1428.27 900.07 1428.25C903.52 1428.23 906.98 1428.21 910.43 1428.2C913.88 1428.18 917.33 1428.16 920.79 1428.15C924.24 1428.13 927.69 1428.12 931.14 1428.1C934.6 1428.09 938.05 1428.08 941.5 1428.07L942 1497.1L942 1497.1 Z" fill="#ffa500" fill-opacity="0.2" stroke="#ffa500" stroke-opacity="0.2" stroke-width="2.1"/>
<line x1="363.7" x2="363.7" y1="1497.7" y2="1438.62" stroke="#ffa500" stroke-opacity="0.7" stroke-width="3.4" stroke-dasharray="12.6 5.9"/>
<line x1="609" x2="609" y1="1497.1" y2="1430.77" stroke="#ffa500" stroke-opacity="0.7" stroke-width="3.4" stroke-linecap="square"/>
<line x1="837.4" x2="837.4" y1="1497.7" y2="1428.65" stroke="#ffa500" stroke-opacity="0.7" stroke-width="3.4" stroke-dasharray="12.6 5.9"/>
<path d="M194 1497.1C195.43 1497.1 196.87 1496.58 198.3 1496.15C200.53 1495.47 202.77 1494.43 205 1492.83C207.77 1490.85 210.53 1488.01 213.3 1484.8C216.1 1481.54 218.9 1477.89 221.7 1474.49C224.47 1471.13 227.23 1468.04 230 1465.55C232.77 1463.06 235.53 1461.12 238.3 1459.48C241.1 1457.81 243.9 1456.42 246.7 1455.16C249.47 1453.93 252.23 1452.83 255 1451.86C257.77 1450.89 260.53 1450.09 263.3 1449.4C266.08 1448.71 268.87 1448.13 271.65 1447.57C274.43 1447.02 277.22 1446.48 280 1446.03C282.78 1445.58 285.57 1445.18 288.35 1444.81C291.13 1444.45 293.92 1444.11 296.7 1443.8C299.47 1443.48 302.23 1443.19 305 1442.9C307.77 1442.62 310.53 1442.34 313.3 1442.07C316.08 1441.8 318.87 1441.55 321.65 1441.3C324.43 1441.06 327.22 1440.81 330 1440.6C333.27 1440.35 336.53 1440.15 339.8 1439.96C343.57 1439.75 347.33 1439.53 351.1 1439.32C354.87 1439.11 358.63 1438.9 362.4 1438.69C366.17 1438.48 369.93 1438.28 373.7 1438.08C377 1437.9 380.3 1437.72 383.6 1437.55C386.9 1437.38 390.2 1437.22 393.5 1437.05C396.8 1436.88 400.1 1436.72 403.4 1436.56C406.7 1436.4 410 1436.25 413.3 1436.09C416.67 1435.94 420.03 1435.79 423.4 1435.64C426.77 1435.49 430.13 1435.34 433.5 1435.2C436.87 1435.06 440.23 1434.92 443.6 1434.78C446.97 1434.64 450.33 1434.51 453.7 1434.37C457.62 1434.22 461.54 1434.07 465.47 1433.92C469.39 1433.77 473.31 1433.62 477.23 1433.48C481.16 1433.33 485.08 1433.18 489 1433.03C491.95 1432.92 494.9 1432.81 497.85 1432.69C500.8 1432.58 503.75 1432.49 506.7 1432.4C510.42 1432.28 514.13 1432.18 517.85 1432.1C521.57 1432.02 525.28 1431.95 529 1431.88C533 1431.81 537 1431.75 541 1431.69C545 1431.63 549 1431.57 553 1431.51C557 1431.46 561 1431.41 565 1431.35C568.62 1431.3 572.24 1431.25 575.86 1431.2C579.48 1431.16 583.1 1431.11 586.71 1431.06C590.33 1431.01 593.95 1430.96 597.57 1430.92C601.19 1430.87 604.81 1430.82 608.43 1430.77C612.05 1430.73 615.67 1430.68 619.29 1430.63C622.9 1430.58 626.52 1430.54 630.14 1430.49C633.76 1430.44 637.38 1430.4 641 1430.35C644.62 1430.31 648.24 1430.26 651.86 1430.22C655.48 1430.17 659.1 1430.13 662.71 1430.08C666.33 1430.04 669.95 1430 673.57 1429.96C677.19 1429.91 680.81 1429.87 684.43 1429.83C688.05 1429.79 691.67 1429.75 695.29 1429.72C698.9 1429.68 702.52 1429.64 706.14 1429.61C709.76 1429.57 713.38 1429.54 717 1429.5C720.62 1429.47 724.24 1429.44 727.86 1429.41C731.48 1429.38 735.1 1429.35 738.71 1429.32C742.33 1429.29 745.95 1429.26 749.57 1429.24C753.19 1429.21 756.81 1429.18 760.43 1429.16C764.05 1429.13 767.67 1429.11 771.29 1429.08C774.9 1429.06 778.52 1429.04 782.14 1429.01C785.76 1428.99 789.38 1428.96 793 1428.94C796.62 1428.92 800.24 1428.89 803.86 1428.87C807.48 1428.85 811.1 1428.82 814.71 1428.8C818.33 1428.77 821.95 1428.75 825.57 1428.73C829.19 1428.7 832.81 1428.68 836.43 1428.66C840.05 1428.63 843.67 1428.61 847.29 1428.59C850.9 1428.56 854.52 1428.54 858.14 1428.51C861.76 1428.49 865.38 1428.47 869 1428.44C872.45 1428.42 875.9 1428.4 879.36 1428.38C882.81 1428.36 886.26 1428.33 889.71 1428.31C893.17 1428.29 896.62 1428.27 900.07 1428.25C903.52 1428.23 906.98 1428.21 910.43 1428.2C913.88 1428.18 917.33 1428.16 920.79 1428.15C924.24 1428.13 927.69 1428.12 931.14 1428.1C934.6 1428.09 938.05 1428.08 941.5 1428.07L942 1497.1" fill="none" stroke="#ffa500" stroke-width="4.3" stroke-linejoin="round" stroke-linecap="butt"/>
<path d="M208 1497.1L208 1497.1C209.77 1497.1 211.53 1496.6 213.3 1496.09C216.1 1495.29 218.9 1493.96 221.7 1491.7C224.47 1489.48 227.23 1486.15 230 1482.33C232.77 1478.52 235.53 1474.28 238.3 1470.22C241.1 1466.12 243.9 1462.2 246.7 1458.84C249.47 1455.53 252.23 1452.76 255 1450.35C257.77 1447.94 260.53 1445.88 263.3 1444.03C266.1 1442.16 268.9 1440.49 271.7 1439.02C274.47 1437.56 277.23 1436.29 280 1435.25C282.77 1434.2 285.53 1433.37 288.3 1432.67C291.1 1431.97 293.9 1431.44 296.7 1431.04C299.47 1430.65 302.23 1430.37 305 1430.1C307.77 1429.82 310.53 1429.57 313.3 1429.37C316.08 1429.17 318.87 1429.01 321.65 1428.87C324.43 1428.73 327.22 1428.61 330 1428.53C333.27 1428.44 336.53 1428.41 339.8 1428.41C343.57 1428.4 347.33 1428.4 351.1 1428.4C354.87 1428.4 358.63 1428.4 362.4 1428.4C366.17 1428.41 369.93 1428.41 373.7 1428.43C377 1428.44 380.3 1428.46 383.6 1428.49C386.9 1428.51 390.2 1428.54 393.5 1428.57C396.8 1428.6 400.1 1428.63 403.4 1428.67C406.7 1428.71 410 1428.75 413.3 1428.79C416.67 1428.83 420.03 1428.88 423.4 1428.93C426.77 1428.97 430.13 1429.02 433.5 1429.07C436.87 1429.12 440.23 1429.18 443.6 1429.23C446.97 1429.29 450.33 1429.34 453.7 1429.4C457.62 1429.47 461.54 1429.54 465.47 1429.61C469.39 1429.69 473.31 1429.76 477.23 1429.84C481.16 1429.91 485.08 1429.99 489 1430.06C491.95 1430.12 494.9 1430.17 497.85 1430.23C500.8 1430.28 503.75 1430.36 506.7 1430.44C510.59 1430.55 514.47 1430.69 518.36 1430.82C522.25 1430.95 526.13 1431.08 530.02 1431.2C533.91 1431.32 537.79 1431.43 541.68 1431.54C545.57 1431.65 549.45 1431.76 553.34 1431.86C557.23 1431.96 561.11 1432.05 565 1432.14C568.62 1432.22 572.24 1432.3 575.86 1432.37C579.48 1432.44 583.1 1432.51 586.71 1432.57C590.33 1432.64 593.95 1432.7 597.57 1432.76C601.19 1432.82 604.81 1432.88 608.43 1432.94C612.05 1433 615.67 1433.05 619.29 1433.11C622.9 1433.17 626.52 1433.22 630.14 1433.28C633.76 1433.33 637.38 1433.39 641 1433.45C644.62 1433.5 648.24 1433.56 651.86 1433.62C655.48 1433.68 659.1 1433.74 662.71 1433.8C666.33 1433.86 669.95 1433.92 673.57 1433.99C677.19 1434.05 680.81 1434.11 684.43 1434.18C688.05 1434.25 691.67 1434.31 695.29 1434.38C698.9 1434.45 702.52 1434.52 706.14 1434.59C709.76 1434.65 713.38 1434.72 717 1434.79C720.62 1434.86 724.24 1434.93 727.86 1435C731.48 1435.08 735.1 1435.15 738.71 1435.22C742.33 1435.29 745.95 1435.36 749.57 1435.42C753.19 1435.49 756.81 1435.56 760.43 1435.63C764.05 1435.7 767.67 1435.76 771.29 1435.83C774.9 1435.89 778.52 1435.96 782.14 1436.02C785.76 1436.08 789.38 1436.15 793 1436.21C796.62 1436.27 800.24 1436.32 803.86 1436.38C807.48 1436.44 811.1 1436.49 814.71 1436.55C818.33 1436.6 821.95 1436.65 825.57 1436.7C829.19 1436.75 832.81 1436.8 836.43 1436.85C840.05 1436.89 843.67 1436.94 847.29 1436.98C850.9 1437.03 854.52 1437.07 858.14 1437.11C861.76 1437.15 865.38 1437.19 869 1437.23C872.48 1437.26 875.95 1437.3 879.43 1437.33C882.9 1437.37 886.38 1437.4 889.86 1437.43C893.33 1437.46 896.81 1437.49 900.29 1437.51C903.76 1437.54 907.24 1437.56 910.71 1437.59C914.19 1437.61 917.67 1437.63 921.14 1437.65C924.62 1437.67 928.1 1437.68 931.57 1437.7C935.05 1437.72 938.52 1437.73 942 1437.74L942.6 1497.1L942.6 1497.1 Z" fill="#00bfff" fill-opacity="0.2" stroke="#00bfff" stroke-opacity="0.2" stroke-width="2.1"/>
<line x1="208" x2="941.5" y1="1497.1" y2="1497.1" stroke="#3f818f" stroke-opacity="0.45" stroke-width="3.1"/>
<line x1="353.7" x2="353.7" y1="1497.7" y2="1428.4" stroke="#00bfff" stroke-opacity="0.7" stroke-width="3.4" stroke-dasharray="12.6 5.9"/>
<line x1="581.5" x2="581.5" y1="1497.1" y2="1432.48" stroke="#00bfff" stroke-opacity="0.7" stroke-width="3.4" stroke-linecap="square"/>
<line x1="824.6" x2="824.6" y1="1497.7" y2="1436.69" stroke="#00bfff" stroke-opacity="0.7" stroke-width="3.4" stroke-dasharray="12.6 5.9"/>
<path d="M187.5 1497.1L208 1497.1C209.77 1497.1 211.53 1496.6 213.3 1496.09C216.1 1495.29 218.9 1493.96 221.7 1491.7C224.47 1489.48 227.23 1486.15 230 1482.33C232.77 1478.52 235.53 1474.28 238.3 1470.22C241.1 1466.12 243.9 1462.2 246.7 1458.84C249.47 1455.53 252.23 1452.76 255 1450.35C257.77 1447.94 260.53 1445.88 263.3 1444.03C266.1 1442.16 268.9 1440.49 271.7 1439.02C274.47 1437.56 277.23 1436.29 280 1435.25C282.77 1434.2 285.53 1433.37 288.3 1432.67C291.1 1431.97 293.9 1431.44 296.7 1431.04C299.47 1430.65 302.23 1430.37 305 1430.1C307.77 1429.82 310.53 1429.57 313.3 1429.37C316.08 1429.17 318.87 1429.01 321.65 1428.87C324.43 1428.73 327.22 1428.61 330 1428.53C333.27 1428.44 336.53 1428.41 339.8 1428.41C343.57 1428.4 347.33 1428.4 351.1 1428.4C354.87 1428.4 358.63 1428.4 362.4 1428.4C366.17 1428.41 369.93 1428.41 373.7 1428.43C377 1428.44 380.3 1428.46 383.6 1428.49C386.9 1428.51 390.2 1428.54 393.5 1428.57C396.8 1428.6 400.1 1428.63 403.4 1428.67C406.7 1428.71 410 1428.75 413.3 1428.79C416.67 1428.83 420.03 1428.88 423.4 1428.93C426.77 1428.97 430.13 1429.02 433.5 1429.07C436.87 1429.12 440.23 1429.18 443.6 1429.23C446.97 1429.29 450.33 1429.34 453.7 1429.4C457.62 1429.47 461.54 1429.54 465.47 1429.61C469.39 1429.69 473.31 1429.76 477.23 1429.84C481.16 1429.91 485.08 1429.99 489 1430.06C491.95 1430.12 494.9 1430.17 497.85 1430.23C500.8 1430.28 503.75 1430.36 506.7 1430.44C510.59 1430.55 514.47 1430.69 518.36 1430.82C522.25 1430.95 526.13 1431.08 530.02 1431.2C533.91 1431.32 537.79 1431.43 541.68 1431.54C545.57 1431.65 549.45 1431.76 553.34 1431.86C557.23 1431.96 561.11 1432.05 565 1432.14C568.62 1432.22 572.24 1432.3 575.86 1432.37C579.48 1432.44 583.1 1432.51 586.71 1432.57C590.33 1432.64 593.95 1432.7 597.57 1432.76C601.19 1432.82 604.81 1432.88 608.43 1432.94C612.05 1433 615.67 1433.05 619.29 1433.11C622.9 1433.17 626.52 1433.22 630.14 1433.28C633.76 1433.33 637.38 1433.39 641 1433.45C644.62 1433.5 648.24 1433.56 651.86 1433.62C655.48 1433.68 659.1 1433.74 662.71 1433.8C666.33 1433.86 669.95 1433.92 673.57 1433.99C677.19 1434.05 680.81 1434.11 684.43 1434.18C688.05 1434.25 691.67 1434.31 695.29 1434.38C698.9 1434.45 702.52 1434.52 706.14 1434.59C709.76 1434.65 713.38 1434.72 717 1434.79C720.62 1434.86 724.24 1434.93 727.86 1435C731.48 1435.08 735.1 1435.15 738.71 1435.22C742.33 1435.29 745.95 1435.36 749.57 1435.42C753.19 1435.49 756.81 1435.56 760.43 1435.63C764.05 1435.7 767.67 1435.76 771.29 1435.83C774.9 1435.89 778.52 1435.96 782.14 1436.02C785.76 1436.08 789.38 1436.15 793 1436.21C796.62 1436.27 800.24 1436.32 803.86 1436.38C807.48 1436.44 811.1 1436.49 814.71 1436.55C818.33 1436.6 821.95 1436.65 825.57 1436.7C829.19 1436.75 832.81 1436.8 836.43 1436.85C840.05 1436.89 843.67 1436.94 847.29 1436.98C850.9 1437.03 854.52 1437.07 858.14 1437.11C861.76 1437.15 865.38 1437.19 869 1437.23C872.48 1437.26 875.95 1437.3 879.43 1437.33C882.9 1437.37 886.38 1437.4 889.86 1437.43C893.33 1437.46 896.81 1437.49 900.29 1437.51C903.76 1437.54 907.24 1437.56 910.71 1437.59C914.19 1437.61 917.67 1437.63 921.14 1437.65C924.62 1437.67 928.1 1437.68 931.57 1437.7C935.05 1437.72 938.52 1437.73 942 1437.74L942.6 1497.1" fill="none" stroke="#00bfff" stroke-width="4.3" stroke-linejoin="round" stroke-linecap="butt"/>
</g>
<rect x="187.5" y="463.85" width="756.5" height="1082.9" fill="none" stroke="#000" stroke-width="2.0"/>
<g stroke="#000" stroke-width="1.7">
<line x1="261.4" x2="261.4" y1="1546.75" y2="1554.95"/>
<line x1="337.28" x2="337.28" y1="1546.75" y2="1554.95"/>
<line x1="413.16" x2="413.16" y1="1546.75" y2="1554.95"/>
<line x1="489.04" x2="489.04" y1="1546.75" y2="1554.95"/>
<line x1="564.92" x2="564.92" y1="1546.75" y2="1554.95"/>
<line x1="640.8" x2="640.8" y1="1546.75" y2="1554.95"/>
<line x1="716.68" x2="716.68" y1="1546.75" y2="1554.95"/>
<line x1="792.56" x2="792.56" y1="1546.75" y2="1554.95"/>
<line x1="868.44" x2="868.44" y1="1546.75" y2="1554.95"/>
<line x1="179.1" x2="187.5" y1="582.4" y2="582.4"/>
<line x1="179.1" x2="187.5" y1="665.5" y2="665.5"/>
<line x1="179.1" x2="187.5" y1="748.6" y2="748.6"/>
<line x1="179.1" x2="187.5" y1="832" y2="832"/>
<line x1="179.1" x2="187.5" y1="915" y2="915"/>
<line x1="179.1" x2="187.5" y1="998.4" y2="998.4"/>
<line x1="179.1" x2="187.5" y1="1081.2" y2="1081.2"/>
<line x1="179.1" x2="187.5" y1="1164.4" y2="1164.4"/>
<line x1="179.1" x2="187.5" y1="1247.5" y2="1247.5"/>
<line x1="179.1" x2="187.5" y1="1330.8" y2="1330.8"/>
<line x1="179.1" x2="187.5" y1="1413.8" y2="1413.8"/>
<line x1="179.1" x2="187.5" y1="1497.1" y2="1497.1"/>
</g>
<g font-size="22.4" text-anchor="middle">
<text x="260.8" y="1579.1">1</text>
<text x="336.68" y="1579.1">2</text>
<text x="412.56" y="1579.1">3</text>
<text x="488.44" y="1579.1">4</text>
<text x="564.32" y="1579.1">5</text>
<text x="640.2" y="1579.1">6</text>
<text x="716.08" y="1579.1">7</text>
<text x="791.96" y="1579.1">8</text>
<text x="867.84" y="1579.1">9</text>
</g>
<text x="3.31" y="593.6" font-size="33" textLength="15.47" lengthAdjust="spacingAndGlyphs">J</text>
<text x="20.78" y="593.6" font-size="33" textLength="61.7" lengthAdjust="spacingAndGlyphs">0613</text>
<text x="95.59" y="595" font-size="33" text-anchor="middle" style="font-family:'DejaVu Sans Light','DejaVu Sans',sans-serif;font-weight:200">−</text>
<text x="108.7" y="593.6" font-size="33" textLength="61.7" lengthAdjust="spacingAndGlyphs">0200</text>
<text x="3.31" y="676.7" font-size="33" textLength="15.47" lengthAdjust="spacingAndGlyphs">J</text>
<text x="20.78" y="676.7" font-size="33" textLength="61.7" lengthAdjust="spacingAndGlyphs">0740</text>
<text x="95.59" y="678.1" font-size="33" text-anchor="middle" style="font-family:'DejaVu Sans Light','DejaVu Sans',sans-serif;font-weight:200">+</text>
<text x="108.7" y="676.7" font-size="33" textLength="61.7" lengthAdjust="spacingAndGlyphs">6620</text>
<text x="3.31" y="759.8" font-size="33" textLength="15.47" lengthAdjust="spacingAndGlyphs">J</text>
<text x="20.78" y="759.8" font-size="33" textLength="61.7" lengthAdjust="spacingAndGlyphs">1600</text>
<text x="95.59" y="761.2" font-size="33" text-anchor="middle" style="font-family:'DejaVu Sans Light','DejaVu Sans',sans-serif;font-weight:200">−</text>
<text x="108.7" y="759.8" font-size="33" textLength="61.7" lengthAdjust="spacingAndGlyphs">3053</text>
<text x="3.31" y="843.2" font-size="33" textLength="15.47" lengthAdjust="spacingAndGlyphs">J</text>
<text x="20.78" y="843.2" font-size="33" textLength="61.7" lengthAdjust="spacingAndGlyphs">1630</text>
<text x="95.59" y="844.6" font-size="33" text-anchor="middle" style="font-family:'DejaVu Sans Light','DejaVu Sans',sans-serif;font-weight:200">+</text>
<text x="108.7" y="843.2" font-size="33" textLength="61.7" lengthAdjust="spacingAndGlyphs">3734</text>
<text x="3.31" y="926.2" font-size="33" textLength="15.47" lengthAdjust="spacingAndGlyphs">J</text>
<text x="20.78" y="926.2" font-size="33" textLength="61.7" lengthAdjust="spacingAndGlyphs">1640</text>
<text x="95.59" y="927.6" font-size="33" text-anchor="middle" style="font-family:'DejaVu Sans Light','DejaVu Sans',sans-serif;font-weight:200">+</text>
<text x="108.7" y="926.2" font-size="33" textLength="61.7" lengthAdjust="spacingAndGlyphs">2224</text>
<text x="3.31" y="1009.6" font-size="33" textLength="15.47" lengthAdjust="spacingAndGlyphs">J</text>
<text x="20.78" y="1009.6" font-size="33" textLength="61.7" lengthAdjust="spacingAndGlyphs">1741</text>
<text x="95.59" y="1011" font-size="33" text-anchor="middle" style="font-family:'DejaVu Sans Light','DejaVu Sans',sans-serif;font-weight:200">+</text>
<text x="108.7" y="1009.6" font-size="33" textLength="61.7" lengthAdjust="spacingAndGlyphs">1351</text>
<text x="3.31" y="1092.4" font-size="33" textLength="15.47" lengthAdjust="spacingAndGlyphs">J</text>
<text x="20.78" y="1092.4" font-size="33" textLength="61.7" lengthAdjust="spacingAndGlyphs">1811</text>
<text x="95.59" y="1093.8" font-size="33" text-anchor="middle" style="font-family:'DejaVu Sans Light','DejaVu Sans',sans-serif;font-weight:200">−</text>
<text x="108.7" y="1092.4" font-size="33" textLength="61.7" lengthAdjust="spacingAndGlyphs">2405</text>
<text x="3.31" y="1175.6" font-size="33" textLength="15.47" lengthAdjust="spacingAndGlyphs">J</text>
<text x="20.78" y="1175.6" font-size="33" textLength="61.7" lengthAdjust="spacingAndGlyphs">1853</text>
<text x="95.59" y="1177" font-size="33" text-anchor="middle" style="font-family:'DejaVu Sans Light','DejaVu Sans',sans-serif;font-weight:200">+</text>
<text x="108.7" y="1175.6" font-size="33" textLength="61.7" lengthAdjust="spacingAndGlyphs">1303</text>
<text x="3.31" y="1258.7" font-size="33" textLength="15.47" lengthAdjust="spacingAndGlyphs">J</text>
<text x="20.78" y="1258.7" font-size="33" textLength="61.7" lengthAdjust="spacingAndGlyphs">1903</text>
<text x="95.59" y="1260.1" font-size="33" text-anchor="middle" style="font-family:'DejaVu Sans Light','DejaVu Sans',sans-serif;font-weight:200">+</text>
<text x="108.7" y="1258.7" font-size="33" textLength="61.7" lengthAdjust="spacingAndGlyphs">0327</text>
<text x="3.31" y="1342" font-size="33" textLength="15.47" lengthAdjust="spacingAndGlyphs">J</text>
<text x="20.78" y="1342" font-size="33" textLength="61.7" lengthAdjust="spacingAndGlyphs">1946</text>
<text x="95.59" y="1343.4" font-size="33" text-anchor="middle" style="font-family:'DejaVu Sans Light','DejaVu Sans',sans-serif;font-weight:200">+</text>
<text x="108.7" y="1342" font-size="33" textLength="61.7" lengthAdjust="spacingAndGlyphs">3417</text>
<text x="3.31" y="1425" font-size="33" textLength="15.47" lengthAdjust="spacingAndGlyphs">J</text>
<text x="20.78" y="1425" font-size="33" textLength="61.7" lengthAdjust="spacingAndGlyphs">2017</text>
<text x="95.59" y="1426.4" font-size="33" text-anchor="middle" style="font-family:'DejaVu Sans Light','DejaVu Sans',sans-serif;font-weight:200">+</text>
<text x="108.7" y="1425" font-size="33" textLength="61.7" lengthAdjust="spacingAndGlyphs">0603</text>
<text x="3.31" y="1508.3" font-size="33" textLength="15.47" lengthAdjust="spacingAndGlyphs">J</text>
<text x="20.78" y="1508.3" font-size="33" textLength="61.7" lengthAdjust="spacingAndGlyphs">2302</text>
<text x="95.59" y="1509.7" font-size="33" text-anchor="middle" style="font-family:'DejaVu Sans Light','DejaVu Sans',sans-serif;font-weight:200">+</text>
<text x="108.7" y="1508.3" font-size="33" textLength="61.7" lengthAdjust="spacingAndGlyphs">4442</text>
</g>
<g id="title">
<text x="226.8" y="27" font-size="34.5" textLength="139.2" lengthAdjust="spacingAndGlyphs">12.5-year</text>
<text x="382.7" y="27" font-size="34" textLength="41.8" lengthAdjust="spacingAndGlyphs">vs.</text>
<text x="440.5" y="27" font-size="34" textLength="108.8" lengthAdjust="spacingAndGlyphs">15-year</text>
<text x="567.2" y="27" font-size="34" textLength="223.5" lengthAdjust="spacingAndGlyphs">Measurements</text>
<text x="805" y="27" font-size="34" textLength="29.5" lengthAdjust="spacingAndGlyphs">of</text>
<text x="847" y="27" font-size="35" textLength="29.5" lengthAdjust="spacingAndGlyphs" font-style="italic">m</text>
<text x="878" y="33.1" font-size="35" textLength="20.5" lengthAdjust="spacingAndGlyphs">p</text>
</g>
<g id="xlabel">
<text x="410" y="1616.9" font-size="32" textLength="84.6" lengthAdjust="spacingAndGlyphs">Pulsar</text>
<text x="509.8" y="1616.9" font-size="32" textLength="68.5" lengthAdjust="spacingAndGlyphs">Mass</text>
<text x="589" y="1616.9" font-size="33" textLength="24.3" lengthAdjust="spacingAndGlyphs" font-style="italic">m</text>
<text x="615.4" y="1622.5" font-size="32" textLength="17.8" lengthAdjust="spacingAndGlyphs">p</text>
<text x="649" y="1616.9" font-size="32" textLength="7" lengthAdjust="spacingAndGlyphs">(</text>
<text x="656.8" y="1616.9" font-size="32" textLength="30.2" lengthAdjust="spacingAndGlyphs">M</text>
<text x="696.8" y="1623.4" font-size="21" text-anchor="middle" style="font-family:'DejaVu Sans',sans-serif">☉</text>
<text x="708.5" y="1616.9" font-size="32" textLength="7.3" lengthAdjust="spacingAndGlyphs">)</text>
</g>
</svg></body></html>
